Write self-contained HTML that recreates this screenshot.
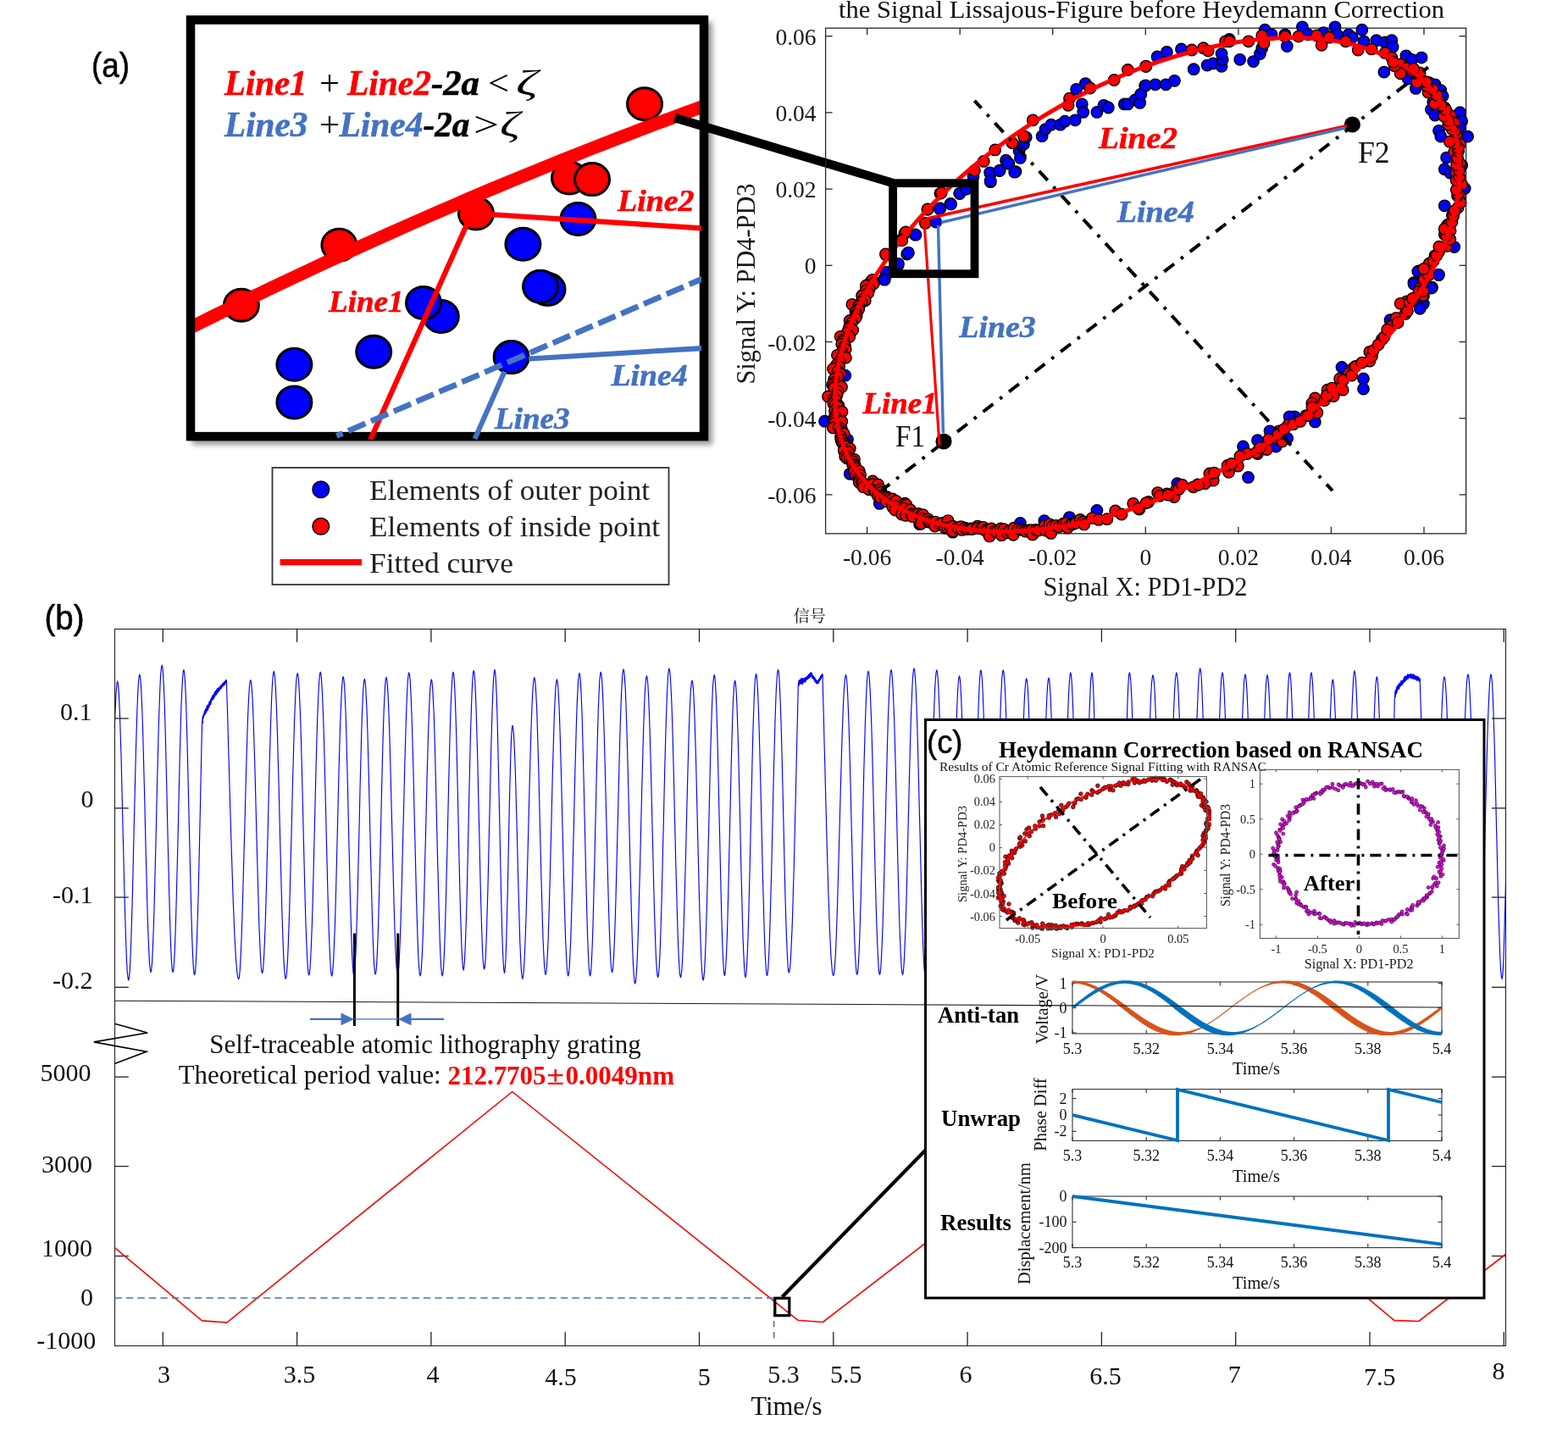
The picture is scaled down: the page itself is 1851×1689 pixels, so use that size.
<!DOCTYPE html>
<html><head><meta charset="utf-8"><title>Figure</title>
<style>html,body{margin:0;padding:0;background:#fff;overflow:hidden;}svg{display:block;}</style></head>
<body><svg width="1851" height="1689" viewBox="0 0 1851 1689">
<rect width="1851" height="1689" fill="#fff"/>
<text x="108.0" y="91.0" style="font-family:'Liberation Sans',sans-serif;font-size:41px;font-weight:normal;font-style:normal" fill="#000" text-anchor="start" textLength="45.0" lengthAdjust="spacingAndGlyphs" stroke="#000" stroke-width="0.6">(a)</text>
<defs><filter id="blur1" x="-5%" y="-5%" width="110%" height="110%"><feGaussianBlur stdDeviation="3"/></filter><clipPath id="boxclip"><rect x="230" y="29" width="596" height="481"/></clipPath><clipPath id="axclip"><rect x="975" y="33.5" width="755.5" height="596"/></clipPath></defs>
<rect x="227" y="26" width="614" height="499" fill="#999" filter="url(#blur1)"/>
<rect x="220" y="18" width="616" height="501" fill="#fff"/>
<g clip-path="url(#boxclip)">
<ellipse cx="284.9" cy="360.2" rx="20.5" ry="19.0" fill="#ff0000" stroke="#000" stroke-width="3"/>
<ellipse cx="400.4" cy="289.2" rx="20.5" ry="19.0" fill="#ff0000" stroke="#000" stroke-width="3"/>
<ellipse cx="562.0" cy="252.0" rx="20.5" ry="19.0" fill="#ff0000" stroke="#000" stroke-width="3"/>
<ellipse cx="672.0" cy="210.0" rx="20.5" ry="19.0" fill="#ff0000" stroke="#000" stroke-width="3"/>
<ellipse cx="699.0" cy="211.6" rx="20.5" ry="19.0" fill="#ff0000" stroke="#000" stroke-width="3"/>
<ellipse cx="761.0" cy="122.7" rx="20.5" ry="19.0" fill="#ff0000" stroke="#000" stroke-width="3"/>
<polyline points="220.0,389.0 235.9,381.1 251.8,373.2 267.7,365.4 283.6,357.6 299.5,349.9 315.4,342.3 331.3,334.7 347.2,327.2 363.1,319.7 379.0,312.3 394.9,304.9 410.8,297.6 426.7,290.4 442.6,283.2 458.5,276.1 474.4,269.0 490.3,262.0 506.2,255.0 522.1,248.1 537.9,241.3 553.8,234.5 569.7,227.7 585.6,221.0 601.5,214.4 617.4,207.9 633.3,201.4 649.2,194.9 665.1,188.5 681.0,182.2 696.9,175.9 712.8,169.7 728.7,163.5 744.6,157.4 760.5,151.3 776.4,145.3 792.3,139.4 808.2,133.5 824.1,127.7 840.0,121.9" fill="none" stroke="#ff0000" stroke-width="15.5"/>
<ellipse cx="347.4" cy="430.3" rx="20.5" ry="19.0" fill="#0000ff" stroke="#000" stroke-width="3"/>
<ellipse cx="347.4" cy="474.9" rx="20.5" ry="19.0" fill="#0000ff" stroke="#000" stroke-width="3"/>
<ellipse cx="441.2" cy="415.2" rx="20.5" ry="19.0" fill="#0000ff" stroke="#000" stroke-width="3"/>
<ellipse cx="520.8" cy="373.5" rx="20.5" ry="19.0" fill="#0000ff" stroke="#000" stroke-width="3"/>
<ellipse cx="500.0" cy="357.4" rx="20.5" ry="19.0" fill="#0000ff" stroke="#000" stroke-width="3"/>
<ellipse cx="617.4" cy="288.3" rx="20.5" ry="19.0" fill="#0000ff" stroke="#000" stroke-width="3"/>
<ellipse cx="682.4" cy="258.5" rx="20.5" ry="19.0" fill="#0000ff" stroke="#000" stroke-width="3"/>
<ellipse cx="646.5" cy="341.5" rx="20.5" ry="19.0" fill="#0000ff" stroke="#000" stroke-width="3"/>
<ellipse cx="638.0" cy="338.2" rx="20.5" ry="19.0" fill="#0000ff" stroke="#000" stroke-width="3"/>
<ellipse cx="603.6" cy="421.6" rx="20.5" ry="19.0" fill="#0000ff" stroke="#000" stroke-width="3"/>
</g>
<rect x="225" y="23.5" width="606" height="491.6" fill="none" stroke="#000" stroke-width="10.5"/>
<clipPath id="boxclip2"><rect x="230" y="29" width="598" height="490"/></clipPath>
<g clip-path="url(#boxclip2)">
<line x1="557.5" y1="250.5" x2="437.2" y2="519.0" stroke="#ff0000" stroke-width="6.2"/>
<line x1="562.0" y1="252.0" x2="830.0" y2="269.4" stroke="#ff0000" stroke-width="6.2"/>
<line x1="397.3" y1="514.5" x2="830.0" y2="328.7" stroke="#4472c4" stroke-width="6.8" stroke-dasharray="22 7.2" stroke-dashoffset="14.1"/>
<line x1="624.0" y1="423.4" x2="830.0" y2="411.0" stroke="#4472c4" stroke-width="6"/>
<line x1="595.6" y1="438.5" x2="560.5" y2="518.0" stroke="#4472c4" stroke-width="6"/>
</g>
<text x="388.0" y="367.8" style="font-family:'Liberation Serif',serif;font-size:36px;font-weight:bold;font-style:italic" fill="#ff0000" text-anchor="start" textLength="88.5" lengthAdjust="spacingAndGlyphs" stroke="#ff0000" stroke-width="0.6">Line1</text>
<text x="729.0" y="248.9" style="font-family:'Liberation Serif',serif;font-size:36px;font-weight:bold;font-style:italic" fill="#ff0000" text-anchor="start" textLength="90.5" lengthAdjust="spacingAndGlyphs" stroke="#ff0000" stroke-width="0.6">Line2</text>
<text x="721.5" y="454.6" style="font-family:'Liberation Serif',serif;font-size:36px;font-weight:bold;font-style:italic" fill="#4472c4" text-anchor="start" textLength="90.0" lengthAdjust="spacingAndGlyphs" stroke="#4472c4" stroke-width="0.6">Line4</text>
<text x="584.0" y="505.8" style="font-family:'Liberation Serif',serif;font-size:36px;font-weight:bold;font-style:italic" fill="#4472c4" text-anchor="start" textLength="88.5" lengthAdjust="spacingAndGlyphs" stroke="#4472c4" stroke-width="0.6">Line3</text>
<text x="265.0" y="111.7" style="font-family:'Liberation Serif',serif;font-size:41.5px;font-weight:bold;font-style:italic" fill="#ff0000" text-anchor="start" textLength="97.4" lengthAdjust="spacingAndGlyphs" stroke="#ff0000" stroke-width="0.6">Line1</text>
<text x="377.0" y="111.7" style="font-family:'Liberation Serif',serif;font-size:41.5px;font-weight:normal;font-style:normal" fill="#000" text-anchor="start" textLength="24.0" lengthAdjust="spacingAndGlyphs">+</text>
<text x="409.9" y="111.7" style="font-family:'Liberation Serif',serif;font-size:41.5px;font-weight:bold;font-style:italic" fill="#ff0000" text-anchor="start" textLength="99.0" lengthAdjust="spacingAndGlyphs" stroke="#ff0000" stroke-width="0.6">Line2</text>
<text x="509.0" y="111.7" style="font-family:'Liberation Serif',serif;font-size:41.5px;font-weight:bold;font-style:italic" fill="#000" text-anchor="start" textLength="57.0" lengthAdjust="spacingAndGlyphs" stroke="#000" stroke-width="0.6">-2a</text>
<text x="576.0" y="111.7" style="font-family:'Liberation Serif',serif;font-size:41.5px;font-weight:normal;font-style:normal" fill="#000" text-anchor="start" textLength="25.0" lengthAdjust="spacingAndGlyphs">&lt;</text>
<text x="609.0" y="111.7" style="font-family:'Liberation Serif',serif;font-size:41.5px;font-weight:normal;font-style:italic" fill="#000" text-anchor="start" textLength="26.0" lengthAdjust="spacingAndGlyphs">ζ</text>
<text x="265.0" y="160.6" style="font-family:'Liberation Serif',serif;font-size:41.5px;font-weight:bold;font-style:italic" fill="#4472c4" text-anchor="start" textLength="98.4" lengthAdjust="spacingAndGlyphs" stroke="#4472c4" stroke-width="0.6">Line3</text>
<text x="377.0" y="160.6" style="font-family:'Liberation Serif',serif;font-size:41.5px;font-weight:normal;font-style:normal" fill="#000" text-anchor="start" textLength="24.0" lengthAdjust="spacingAndGlyphs">+</text>
<text x="400.4" y="160.6" style="font-family:'Liberation Serif',serif;font-size:41.5px;font-weight:bold;font-style:italic" fill="#4472c4" text-anchor="start" textLength="99.0" lengthAdjust="spacingAndGlyphs" stroke="#4472c4" stroke-width="0.6">Line4</text>
<text x="499.4" y="160.6" style="font-family:'Liberation Serif',serif;font-size:41.5px;font-weight:bold;font-style:italic" fill="#000" text-anchor="start" textLength="55.0" lengthAdjust="spacingAndGlyphs" stroke="#000" stroke-width="0.6">-2a</text>
<text x="559.0" y="160.6" style="font-family:'Liberation Serif',serif;font-size:41.5px;font-weight:normal;font-style:normal" fill="#000" text-anchor="start" textLength="30.0" lengthAdjust="spacingAndGlyphs">&gt;</text>
<text x="590.0" y="160.6" style="font-family:'Liberation Serif',serif;font-size:41.5px;font-weight:normal;font-style:italic" fill="#000" text-anchor="start" textLength="24.0" lengthAdjust="spacingAndGlyphs">ζ</text>
<line x1="796.5" y1="139.0" x2="1054.0" y2="216.0" stroke="#000" stroke-width="10.5"/>
<rect x="321.5" y="552" width="468" height="138" fill="#fff" stroke="#333" stroke-width="1.8"/>
<circle cx="378.8" cy="577.8" r="9.8" fill="#0000ff" stroke="#000" stroke-width="1.5"/>
<circle cx="378.8" cy="621.3" r="9.8" fill="#ff0000" stroke="#000" stroke-width="1.5"/>
<line x1="330.6" y1="663.6" x2="427.0" y2="663.6" stroke="#ff0000" stroke-width="7.4"/>
<text x="436.0" y="590.3" style="font-family:'Liberation Serif',serif;font-size:34px;font-weight:normal;font-style:normal" fill="#222" text-anchor="start" textLength="331.0" lengthAdjust="spacingAndGlyphs">Elements of outer point</text>
<text x="436.0" y="633.2" style="font-family:'Liberation Serif',serif;font-size:34px;font-weight:normal;font-style:normal" fill="#222" text-anchor="start" textLength="343.0" lengthAdjust="spacingAndGlyphs">Elements of inside point</text>
<text x="436.0" y="676.3" style="font-family:'Liberation Serif',serif;font-size:34px;font-weight:normal;font-style:normal" fill="#222" text-anchor="start" textLength="170.0" lengthAdjust="spacingAndGlyphs">Fitted curve</text>
<text x="990.0" y="20.5" style="font-family:'Liberation Serif',serif;font-size:29px;font-weight:normal;font-style:normal" fill="#111" text-anchor="start" textLength="715.0" lengthAdjust="spacingAndGlyphs">the Signal Lissajous-Figure before Heydemann Correction</text>
<rect x="974.6" y="33.2" width="756.0" height="596.6" fill="none" stroke="#262626" stroke-width="1.3"/>
<line x1="1023.6" y1="629.8" x2="1023.6" y2="621.8" stroke="#262626" stroke-width="1.3"/>
<line x1="1023.6" y1="33.2" x2="1023.6" y2="41.2" stroke="#262626" stroke-width="1.3"/>
<text x="1023.6" y="666.5" style="font-family:'Liberation Serif',serif;font-size:27.5px;font-weight:normal;font-style:normal" fill="#1a1a1a" text-anchor="middle">-0.06</text>
<line x1="1133.2" y1="629.8" x2="1133.2" y2="621.8" stroke="#262626" stroke-width="1.3"/>
<line x1="1133.2" y1="33.2" x2="1133.2" y2="41.2" stroke="#262626" stroke-width="1.3"/>
<text x="1133.2" y="666.5" style="font-family:'Liberation Serif',serif;font-size:27.5px;font-weight:normal;font-style:normal" fill="#1a1a1a" text-anchor="middle">-0.04</text>
<line x1="1242.7" y1="629.8" x2="1242.7" y2="621.8" stroke="#262626" stroke-width="1.3"/>
<line x1="1242.7" y1="33.2" x2="1242.7" y2="41.2" stroke="#262626" stroke-width="1.3"/>
<text x="1242.7" y="666.5" style="font-family:'Liberation Serif',serif;font-size:27.5px;font-weight:normal;font-style:normal" fill="#1a1a1a" text-anchor="middle">-0.02</text>
<line x1="1352.3" y1="629.8" x2="1352.3" y2="621.8" stroke="#262626" stroke-width="1.3"/>
<line x1="1352.3" y1="33.2" x2="1352.3" y2="41.2" stroke="#262626" stroke-width="1.3"/>
<text x="1352.3" y="666.5" style="font-family:'Liberation Serif',serif;font-size:27.5px;font-weight:normal;font-style:normal" fill="#1a1a1a" text-anchor="middle">0</text>
<line x1="1461.9" y1="629.8" x2="1461.9" y2="621.8" stroke="#262626" stroke-width="1.3"/>
<line x1="1461.9" y1="33.2" x2="1461.9" y2="41.2" stroke="#262626" stroke-width="1.3"/>
<text x="1461.9" y="666.5" style="font-family:'Liberation Serif',serif;font-size:27.5px;font-weight:normal;font-style:normal" fill="#1a1a1a" text-anchor="middle">0.02</text>
<line x1="1571.4" y1="629.8" x2="1571.4" y2="621.8" stroke="#262626" stroke-width="1.3"/>
<line x1="1571.4" y1="33.2" x2="1571.4" y2="41.2" stroke="#262626" stroke-width="1.3"/>
<text x="1571.4" y="666.5" style="font-family:'Liberation Serif',serif;font-size:27.5px;font-weight:normal;font-style:normal" fill="#1a1a1a" text-anchor="middle">0.04</text>
<line x1="1681.0" y1="629.8" x2="1681.0" y2="621.8" stroke="#262626" stroke-width="1.3"/>
<line x1="1681.0" y1="33.2" x2="1681.0" y2="41.2" stroke="#262626" stroke-width="1.3"/>
<text x="1681.0" y="666.5" style="font-family:'Liberation Serif',serif;font-size:27.5px;font-weight:normal;font-style:normal" fill="#1a1a1a" text-anchor="middle">0.06</text>
<line x1="974.6" y1="583.9" x2="982.6" y2="583.9" stroke="#262626" stroke-width="1.3"/>
<line x1="1730.6" y1="583.9" x2="1722.6" y2="583.9" stroke="#262626" stroke-width="1.3"/>
<text x="963.5" y="593.9" style="font-family:'Liberation Serif',serif;font-size:27.5px;font-weight:normal;font-style:normal" fill="#1a1a1a" text-anchor="end">-0.06</text>
<line x1="974.6" y1="493.7" x2="982.6" y2="493.7" stroke="#262626" stroke-width="1.3"/>
<line x1="1730.6" y1="493.7" x2="1722.6" y2="493.7" stroke="#262626" stroke-width="1.3"/>
<text x="963.5" y="503.7" style="font-family:'Liberation Serif',serif;font-size:27.5px;font-weight:normal;font-style:normal" fill="#1a1a1a" text-anchor="end">-0.04</text>
<line x1="974.6" y1="403.5" x2="982.6" y2="403.5" stroke="#262626" stroke-width="1.3"/>
<line x1="1730.6" y1="403.5" x2="1722.6" y2="403.5" stroke="#262626" stroke-width="1.3"/>
<text x="963.5" y="413.5" style="font-family:'Liberation Serif',serif;font-size:27.5px;font-weight:normal;font-style:normal" fill="#1a1a1a" text-anchor="end">-0.02</text>
<line x1="974.6" y1="313.3" x2="982.6" y2="313.3" stroke="#262626" stroke-width="1.3"/>
<line x1="1730.6" y1="313.3" x2="1722.6" y2="313.3" stroke="#262626" stroke-width="1.3"/>
<text x="963.5" y="323.3" style="font-family:'Liberation Serif',serif;font-size:27.5px;font-weight:normal;font-style:normal" fill="#1a1a1a" text-anchor="end">0</text>
<line x1="974.6" y1="223.1" x2="982.6" y2="223.1" stroke="#262626" stroke-width="1.3"/>
<line x1="1730.6" y1="223.1" x2="1722.6" y2="223.1" stroke="#262626" stroke-width="1.3"/>
<text x="963.5" y="233.1" style="font-family:'Liberation Serif',serif;font-size:27.5px;font-weight:normal;font-style:normal" fill="#1a1a1a" text-anchor="end">0.02</text>
<line x1="974.6" y1="132.9" x2="982.6" y2="132.9" stroke="#262626" stroke-width="1.3"/>
<line x1="1730.6" y1="132.9" x2="1722.6" y2="132.9" stroke="#262626" stroke-width="1.3"/>
<text x="963.5" y="142.9" style="font-family:'Liberation Serif',serif;font-size:27.5px;font-weight:normal;font-style:normal" fill="#1a1a1a" text-anchor="end">0.04</text>
<line x1="974.6" y1="42.7" x2="982.6" y2="42.7" stroke="#262626" stroke-width="1.3"/>
<line x1="1730.6" y1="42.7" x2="1722.6" y2="42.7" stroke="#262626" stroke-width="1.3"/>
<text x="963.5" y="52.7" style="font-family:'Liberation Serif',serif;font-size:27.5px;font-weight:normal;font-style:normal" fill="#1a1a1a" text-anchor="end">0.06</text>
<circle cx="1270.6" cy="105.3" r="6.70" fill="#0000ff" stroke="#000" stroke-width="1.4"/>
<circle cx="1281.4" cy="98.6" r="6.70" fill="#0000ff" stroke="#000" stroke-width="1.4"/>
<circle cx="1277.3" cy="122.9" r="6.70" fill="#0000ff" stroke="#000" stroke-width="1.4"/>
<circle cx="1278.7" cy="132.4" r="6.70" fill="#0000ff" stroke="#000" stroke-width="1.4"/>
<circle cx="1294.9" cy="132.4" r="6.70" fill="#0000ff" stroke="#000" stroke-width="1.4"/>
<circle cx="1303.0" cy="124.3" r="6.70" fill="#0000ff" stroke="#000" stroke-width="1.4"/>
<circle cx="1308.4" cy="127.0" r="6.70" fill="#0000ff" stroke="#000" stroke-width="1.4"/>
<circle cx="1327.3" cy="122.9" r="6.70" fill="#0000ff" stroke="#000" stroke-width="1.4"/>
<circle cx="1331.4" cy="122.9" r="6.70" fill="#0000ff" stroke="#000" stroke-width="1.4"/>
<circle cx="1344.9" cy="118.9" r="6.70" fill="#0000ff" stroke="#000" stroke-width="1.4"/>
<circle cx="1346.2" cy="112.1" r="6.70" fill="#0000ff" stroke="#000" stroke-width="1.4"/>
<circle cx="1351.6" cy="101.3" r="6.70" fill="#0000ff" stroke="#000" stroke-width="1.4"/>
<circle cx="1230.1" cy="160.7" r="6.70" fill="#0000ff" stroke="#000" stroke-width="1.4"/>
<circle cx="1234.1" cy="152.6" r="6.70" fill="#0000ff" stroke="#000" stroke-width="1.4"/>
<circle cx="1240.9" cy="147.2" r="6.70" fill="#0000ff" stroke="#000" stroke-width="1.4"/>
<circle cx="1251.7" cy="147.2" r="6.70" fill="#0000ff" stroke="#000" stroke-width="1.4"/>
<circle cx="1257.1" cy="143.2" r="6.70" fill="#0000ff" stroke="#000" stroke-width="1.4"/>
<circle cx="1269.2" cy="141.8" r="6.70" fill="#0000ff" stroke="#000" stroke-width="1.4"/>
<circle cx="1208.5" cy="170.2" r="6.70" fill="#0000ff" stroke="#000" stroke-width="1.4"/>
<circle cx="1211.2" cy="162.1" r="6.70" fill="#0000ff" stroke="#000" stroke-width="1.4"/>
<circle cx="1203.1" cy="178.3" r="6.70" fill="#0000ff" stroke="#000" stroke-width="1.4"/>
<circle cx="1204.4" cy="186.4" r="6.70" fill="#0000ff" stroke="#000" stroke-width="1.4"/>
<circle cx="1199.0" cy="202.6" r="6.70" fill="#0000ff" stroke="#000" stroke-width="1.4"/>
<circle cx="1188.2" cy="190.4" r="6.70" fill="#0000ff" stroke="#000" stroke-width="1.4"/>
<circle cx="1190.9" cy="193.1" r="6.70" fill="#0000ff" stroke="#000" stroke-width="1.4"/>
<circle cx="1180.1" cy="201.2" r="6.70" fill="#0000ff" stroke="#000" stroke-width="1.4"/>
<circle cx="1169.3" cy="205.3" r="6.70" fill="#0000ff" stroke="#000" stroke-width="1.4"/>
<circle cx="1169.3" cy="214.7" r="6.70" fill="#0000ff" stroke="#000" stroke-width="1.4"/>
<circle cx="1149.0" cy="208.0" r="6.70" fill="#0000ff" stroke="#000" stroke-width="1.4"/>
<circle cx="1139.6" cy="222.9" r="6.70" fill="#0000ff" stroke="#000" stroke-width="1.4"/>
<circle cx="1132.8" cy="228.3" r="6.70" fill="#0000ff" stroke="#000" stroke-width="1.4"/>
<circle cx="1122.0" cy="240.4" r="6.70" fill="#0000ff" stroke="#000" stroke-width="1.4"/>
<circle cx="1109.9" cy="245.8" r="6.70" fill="#0000ff" stroke="#000" stroke-width="1.4"/>
<circle cx="1080.2" cy="276.9" r="6.70" fill="#0000ff" stroke="#000" stroke-width="1.4"/>
<circle cx="1072.0" cy="298.5" r="6.70" fill="#0000ff" stroke="#000" stroke-width="1.4"/>
<circle cx="1059.9" cy="313.3" r="6.70" fill="#0000ff" stroke="#000" stroke-width="1.4"/>
<circle cx="1046.4" cy="321.4" r="6.70" fill="#0000ff" stroke="#000" stroke-width="1.4"/>
<circle cx="1043.7" cy="329.6" r="6.70" fill="#0000ff" stroke="#000" stroke-width="1.4"/>
<circle cx="1340.0" cy="118.0" r="6.70" fill="#0000ff" stroke="#000" stroke-width="1.4"/>
<circle cx="1345.7" cy="121.4" r="6.70" fill="#0000ff" stroke="#000" stroke-width="1.4"/>
<circle cx="1346.8" cy="111.2" r="6.70" fill="#0000ff" stroke="#000" stroke-width="1.4"/>
<circle cx="1352.5" cy="101.0" r="6.70" fill="#0000ff" stroke="#000" stroke-width="1.4"/>
<circle cx="1363.8" cy="99.8" r="6.70" fill="#0000ff" stroke="#000" stroke-width="1.4"/>
<circle cx="1376.3" cy="99.8" r="6.70" fill="#0000ff" stroke="#000" stroke-width="1.4"/>
<circle cx="1386.5" cy="95.3" r="6.70" fill="#0000ff" stroke="#000" stroke-width="1.4"/>
<circle cx="1366.1" cy="66.9" r="6.70" fill="#0000ff" stroke="#000" stroke-width="1.4"/>
<circle cx="1377.4" cy="61.3" r="6.70" fill="#0000ff" stroke="#000" stroke-width="1.4"/>
<circle cx="1394.5" cy="57.9" r="6.70" fill="#0000ff" stroke="#000" stroke-width="1.4"/>
<circle cx="1409.2" cy="81.7" r="6.70" fill="#0000ff" stroke="#000" stroke-width="1.4"/>
<circle cx="1425.1" cy="77.1" r="6.70" fill="#0000ff" stroke="#000" stroke-width="1.4"/>
<circle cx="1431.9" cy="74.9" r="6.70" fill="#0000ff" stroke="#000" stroke-width="1.4"/>
<circle cx="1442.1" cy="78.3" r="6.70" fill="#0000ff" stroke="#000" stroke-width="1.4"/>
<circle cx="1443.2" cy="70.3" r="6.70" fill="#0000ff" stroke="#000" stroke-width="1.4"/>
<circle cx="1442.1" cy="63.5" r="6.70" fill="#0000ff" stroke="#000" stroke-width="1.4"/>
<circle cx="1451.2" cy="46.5" r="6.70" fill="#0000ff" stroke="#000" stroke-width="1.4"/>
<circle cx="1463.7" cy="70.3" r="6.70" fill="#0000ff" stroke="#000" stroke-width="1.4"/>
<circle cx="1479.6" cy="72.6" r="6.70" fill="#0000ff" stroke="#000" stroke-width="1.4"/>
<circle cx="1487.5" cy="63.5" r="6.70" fill="#0000ff" stroke="#000" stroke-width="1.4"/>
<circle cx="1489.8" cy="56.7" r="6.70" fill="#0000ff" stroke="#000" stroke-width="1.4"/>
<circle cx="1493.2" cy="35.2" r="6.70" fill="#0000ff" stroke="#000" stroke-width="1.4"/>
<circle cx="1501.1" cy="40.8" r="6.70" fill="#0000ff" stroke="#000" stroke-width="1.4"/>
<circle cx="1517.0" cy="40.8" r="6.70" fill="#0000ff" stroke="#000" stroke-width="1.4"/>
<circle cx="1519.3" cy="54.5" r="6.70" fill="#0000ff" stroke="#000" stroke-width="1.4"/>
<circle cx="1537.4" cy="31.8" r="6.70" fill="#0000ff" stroke="#000" stroke-width="1.4"/>
<circle cx="1544.2" cy="40.8" r="6.70" fill="#0000ff" stroke="#000" stroke-width="1.4"/>
<circle cx="1562.4" cy="38.6" r="6.70" fill="#0000ff" stroke="#000" stroke-width="1.4"/>
<circle cx="1576.0" cy="31.8" r="6.70" fill="#0000ff" stroke="#000" stroke-width="1.4"/>
<circle cx="1578.3" cy="40.8" r="6.70" fill="#0000ff" stroke="#000" stroke-width="1.4"/>
<circle cx="1591.9" cy="40.8" r="6.70" fill="#0000ff" stroke="#000" stroke-width="1.4"/>
<circle cx="1596.4" cy="44.2" r="6.70" fill="#0000ff" stroke="#000" stroke-width="1.4"/>
<circle cx="1607.8" cy="35.2" r="6.70" fill="#0000ff" stroke="#000" stroke-width="1.4"/>
<circle cx="1610.0" cy="48.8" r="6.70" fill="#0000ff" stroke="#000" stroke-width="1.4"/>
<circle cx="1624.8" cy="47.7" r="6.70" fill="#0000ff" stroke="#000" stroke-width="1.4"/>
<circle cx="1635.0" cy="49.9" r="6.70" fill="#0000ff" stroke="#000" stroke-width="1.4"/>
<circle cx="1642.9" cy="47.7" r="6.70" fill="#0000ff" stroke="#000" stroke-width="1.4"/>
<circle cx="1644.1" cy="55.6" r="6.70" fill="#0000ff" stroke="#000" stroke-width="1.4"/>
<circle cx="1633.9" cy="85.1" r="6.70" fill="#0000ff" stroke="#000" stroke-width="1.4"/>
<circle cx="1659.9" cy="65.8" r="6.70" fill="#0000ff" stroke="#000" stroke-width="1.4"/>
<circle cx="1666.8" cy="70.3" r="6.70" fill="#0000ff" stroke="#000" stroke-width="1.4"/>
<circle cx="1678.1" cy="68.1" r="6.70" fill="#0000ff" stroke="#000" stroke-width="1.4"/>
<circle cx="1662.2" cy="93.0" r="6.70" fill="#0000ff" stroke="#000" stroke-width="1.4"/>
<circle cx="1671.3" cy="104.4" r="6.70" fill="#0000ff" stroke="#000" stroke-width="1.4"/>
<circle cx="1687.2" cy="97.6" r="6.70" fill="#0000ff" stroke="#000" stroke-width="1.4"/>
<circle cx="1694.0" cy="99.8" r="6.70" fill="#0000ff" stroke="#000" stroke-width="1.4"/>
<circle cx="1700.8" cy="106.6" r="6.70" fill="#0000ff" stroke="#000" stroke-width="1.4"/>
<circle cx="1703.1" cy="113.5" r="6.70" fill="#0000ff" stroke="#000" stroke-width="1.4"/>
<circle cx="1691.7" cy="120.3" r="6.70" fill="#0000ff" stroke="#000" stroke-width="1.4"/>
<circle cx="1689.4" cy="129.3" r="6.70" fill="#0000ff" stroke="#000" stroke-width="1.4"/>
<circle cx="1694.0" cy="136.1" r="6.70" fill="#0000ff" stroke="#000" stroke-width="1.4"/>
<circle cx="1723.5" cy="132.7" r="6.70" fill="#0000ff" stroke="#000" stroke-width="1.4"/>
<circle cx="1725.7" cy="143.0" r="6.70" fill="#0000ff" stroke="#000" stroke-width="1.4"/>
<circle cx="1723.5" cy="149.8" r="6.70" fill="#0000ff" stroke="#000" stroke-width="1.4"/>
<circle cx="1732.6" cy="161.1" r="6.70" fill="#0000ff" stroke="#000" stroke-width="1.4"/>
<circle cx="1698.5" cy="154.3" r="6.70" fill="#0000ff" stroke="#000" stroke-width="1.4"/>
<circle cx="1700.8" cy="161.1" r="6.70" fill="#0000ff" stroke="#000" stroke-width="1.4"/>
<circle cx="1707.6" cy="186.1" r="6.70" fill="#0000ff" stroke="#000" stroke-width="1.4"/>
<circle cx="1705.3" cy="199.7" r="6.70" fill="#0000ff" stroke="#000" stroke-width="1.4"/>
<circle cx="1712.1" cy="204.2" r="6.70" fill="#0000ff" stroke="#000" stroke-width="1.4"/>
<circle cx="1725.7" cy="195.1" r="6.70" fill="#0000ff" stroke="#000" stroke-width="1.4"/>
<circle cx="1729.2" cy="222.4" r="6.70" fill="#0000ff" stroke="#000" stroke-width="1.4"/>
<circle cx="1705.3" cy="242.8" r="6.70" fill="#0000ff" stroke="#000" stroke-width="1.4"/>
<circle cx="1716.7" cy="291.6" r="6.70" fill="#0000ff" stroke="#000" stroke-width="1.4"/>
<circle cx="1708.7" cy="265.5" r="6.70" fill="#0000ff" stroke="#000" stroke-width="1.4"/>
<circle cx="1674.7" cy="319.9" r="6.70" fill="#0000ff" stroke="#000" stroke-width="1.4"/>
<circle cx="1698.5" cy="324.5" r="6.70" fill="#0000ff" stroke="#000" stroke-width="1.4"/>
<circle cx="1669.0" cy="333.6" r="6.70" fill="#0000ff" stroke="#000" stroke-width="1.4"/>
<circle cx="1690.6" cy="339.2" r="6.70" fill="#0000ff" stroke="#000" stroke-width="1.4"/>
<circle cx="1680.4" cy="358.5" r="6.70" fill="#0000ff" stroke="#000" stroke-width="1.4"/>
<circle cx="1673.8" cy="320.6" r="6.70" fill="#0000ff" stroke="#000" stroke-width="1.4"/>
<circle cx="1698.1" cy="324.3" r="6.70" fill="#0000ff" stroke="#000" stroke-width="1.4"/>
<circle cx="1669.0" cy="335.2" r="6.70" fill="#0000ff" stroke="#000" stroke-width="1.4"/>
<circle cx="1689.6" cy="340.1" r="6.70" fill="#0000ff" stroke="#000" stroke-width="1.4"/>
<circle cx="1676.2" cy="364.3" r="6.70" fill="#0000ff" stroke="#000" stroke-width="1.4"/>
<circle cx="1641.0" cy="377.7" r="6.70" fill="#0000ff" stroke="#000" stroke-width="1.4"/>
<circle cx="1584.0" cy="433.5" r="6.70" fill="#0000ff" stroke="#000" stroke-width="1.4"/>
<circle cx="1609.5" cy="446.9" r="6.70" fill="#0000ff" stroke="#000" stroke-width="1.4"/>
<circle cx="1609.5" cy="459.0" r="6.70" fill="#0000ff" stroke="#000" stroke-width="1.4"/>
<circle cx="1552.4" cy="497.9" r="6.70" fill="#0000ff" stroke="#000" stroke-width="1.4"/>
<circle cx="1528.2" cy="491.8" r="6.70" fill="#0000ff" stroke="#000" stroke-width="1.4"/>
<circle cx="1522.1" cy="491.8" r="6.70" fill="#0000ff" stroke="#000" stroke-width="1.4"/>
<circle cx="1499.0" cy="508.8" r="6.70" fill="#0000ff" stroke="#000" stroke-width="1.4"/>
<circle cx="1519.7" cy="517.3" r="6.70" fill="#0000ff" stroke="#000" stroke-width="1.4"/>
<circle cx="1506.3" cy="527.0" r="6.70" fill="#0000ff" stroke="#000" stroke-width="1.4"/>
<circle cx="1484.5" cy="519.7" r="6.70" fill="#0000ff" stroke="#000" stroke-width="1.4"/>
<circle cx="1467.5" cy="527.0" r="6.70" fill="#0000ff" stroke="#000" stroke-width="1.4"/>
<circle cx="1473.5" cy="563.4" r="6.70" fill="#0000ff" stroke="#000" stroke-width="1.4"/>
<circle cx="1389.8" cy="570.7" r="6.70" fill="#0000ff" stroke="#000" stroke-width="1.4"/>
<circle cx="1059.9" cy="313.5" r="6.70" fill="#0000ff" stroke="#000" stroke-width="1.4"/>
<circle cx="1070.7" cy="300.0" r="6.70" fill="#0000ff" stroke="#000" stroke-width="1.4"/>
<circle cx="1043.7" cy="329.7" r="6.70" fill="#0000ff" stroke="#000" stroke-width="1.4"/>
<circle cx="1046.4" cy="324.3" r="6.70" fill="#0000ff" stroke="#000" stroke-width="1.4"/>
<circle cx="997.8" cy="443.2" r="6.70" fill="#0000ff" stroke="#000" stroke-width="1.4"/>
<circle cx="973.5" cy="497.2" r="6.70" fill="#0000ff" stroke="#000" stroke-width="1.4"/>
<circle cx="1000.5" cy="518.8" r="6.70" fill="#0000ff" stroke="#000" stroke-width="1.4"/>
<circle cx="1003.2" cy="559.3" r="6.70" fill="#0000ff" stroke="#000" stroke-width="1.4"/>
<circle cx="1038.3" cy="594.4" r="6.70" fill="#0000ff" stroke="#000" stroke-width="1.4"/>
<circle cx="1085.6" cy="618.7" r="6.70" fill="#0000ff" stroke="#000" stroke-width="1.4"/>
<circle cx="1124.7" cy="628.2" r="6.70" fill="#0000ff" stroke="#000" stroke-width="1.4"/>
<circle cx="1204.4" cy="617.4" r="6.70" fill="#0000ff" stroke="#000" stroke-width="1.4"/>
<circle cx="1232.8" cy="614.7" r="6.70" fill="#0000ff" stroke="#000" stroke-width="1.4"/>
<circle cx="1262.5" cy="610.6" r="6.70" fill="#0000ff" stroke="#000" stroke-width="1.4"/>
<circle cx="1294.9" cy="602.5" r="6.70" fill="#0000ff" stroke="#000" stroke-width="1.4"/>
<circle cx="1132.9" cy="228.6" r="6.70" fill="#0000ff" stroke="#000" stroke-width="1.4"/>
<circle cx="1140.5" cy="223.2" r="6.70" fill="#0000ff" stroke="#000" stroke-width="1.4"/>
<circle cx="1122.6" cy="241.0" r="6.70" fill="#0000ff" stroke="#000" stroke-width="1.4"/>
<circle cx="1109.1" cy="246.5" r="6.70" fill="#0000ff" stroke="#000" stroke-width="1.4"/>
<circle cx="1104.8" cy="262.1" r="6.70" fill="#0000ff" stroke="#000" stroke-width="1.4"/>
<circle cx="1081.0" cy="277.2" r="6.70" fill="#0000ff" stroke="#000" stroke-width="1.4"/>
<circle cx="1072.4" cy="298.3" r="6.70" fill="#0000ff" stroke="#000" stroke-width="1.4"/>
<circle cx="1060.5" cy="311.3" r="6.70" fill="#0000ff" stroke="#000" stroke-width="1.4"/>
<circle cx="1046.5" cy="321.5" r="6.70" fill="#0000ff" stroke="#000" stroke-width="1.4"/>
<circle cx="1044.3" cy="330.2" r="6.70" fill="#0000ff" stroke="#000" stroke-width="1.4"/>
<circle cx="1168.6" cy="203.8" r="6.70" fill="#0000ff" stroke="#000" stroke-width="1.4"/>
<circle cx="1169.1" cy="213.5" r="6.70" fill="#0000ff" stroke="#000" stroke-width="1.4"/>
<circle cx="1179.9" cy="201.6" r="6.70" fill="#0000ff" stroke="#000" stroke-width="1.4"/>
<circle cx="1187.5" cy="189.2" r="6.70" fill="#0000ff" stroke="#000" stroke-width="1.4"/>
<circle cx="1190.2" cy="193.0" r="6.70" fill="#0000ff" stroke="#000" stroke-width="1.4"/>
<circle cx="1197.7" cy="203.2" r="6.70" fill="#0000ff" stroke="#000" stroke-width="1.4"/>
<circle cx="1353.0" cy="78.3" r="6.70" fill="#ff0000" stroke="#000" stroke-width="1.4"/>
<circle cx="1331.4" cy="82.4" r="6.70" fill="#ff0000" stroke="#000" stroke-width="1.4"/>
<circle cx="1315.2" cy="94.5" r="6.70" fill="#ff0000" stroke="#000" stroke-width="1.4"/>
<circle cx="1286.8" cy="104.0" r="6.70" fill="#ff0000" stroke="#000" stroke-width="1.4"/>
<circle cx="1262.5" cy="116.2" r="6.70" fill="#ff0000" stroke="#000" stroke-width="1.4"/>
<circle cx="1261.1" cy="124.3" r="6.70" fill="#ff0000" stroke="#000" stroke-width="1.4"/>
<circle cx="1219.3" cy="141.8" r="6.70" fill="#ff0000" stroke="#000" stroke-width="1.4"/>
<circle cx="1208.5" cy="160.7" r="6.70" fill="#ff0000" stroke="#000" stroke-width="1.4"/>
<circle cx="1195.0" cy="168.8" r="6.70" fill="#ff0000" stroke="#000" stroke-width="1.4"/>
<circle cx="1174.7" cy="176.9" r="6.70" fill="#ff0000" stroke="#000" stroke-width="1.4"/>
<circle cx="1161.2" cy="190.4" r="6.70" fill="#ff0000" stroke="#000" stroke-width="1.4"/>
<circle cx="1150.4" cy="201.2" r="6.70" fill="#ff0000" stroke="#000" stroke-width="1.4"/>
<circle cx="1109.9" cy="228.3" r="6.70" fill="#ff0000" stroke="#000" stroke-width="1.4"/>
<circle cx="1095.0" cy="247.2" r="6.70" fill="#ff0000" stroke="#000" stroke-width="1.4"/>
<circle cx="1092.3" cy="263.4" r="6.70" fill="#ff0000" stroke="#000" stroke-width="1.4"/>
<circle cx="1068.0" cy="275.5" r="6.70" fill="#ff0000" stroke="#000" stroke-width="1.4"/>
<circle cx="1062.6" cy="283.6" r="6.70" fill="#ff0000" stroke="#000" stroke-width="1.4"/>
<circle cx="1046.4" cy="301.2" r="6.70" fill="#ff0000" stroke="#000" stroke-width="1.4"/>
<circle cx="1027.5" cy="335.0" r="6.70" fill="#ff0000" stroke="#000" stroke-width="1.4"/>
<circle cx="1018.0" cy="348.5" r="6.70" fill="#ff0000" stroke="#000" stroke-width="1.4"/>
<circle cx="1005.9" cy="359.3" r="6.70" fill="#ff0000" stroke="#000" stroke-width="1.4"/>
<circle cx="1352.5" cy="78.3" r="6.70" fill="#ff0000" stroke="#000" stroke-width="1.4"/>
<circle cx="1406.9" cy="59.0" r="6.70" fill="#ff0000" stroke="#000" stroke-width="1.4"/>
<circle cx="1420.6" cy="56.7" r="6.70" fill="#ff0000" stroke="#000" stroke-width="1.4"/>
<circle cx="1426.2" cy="60.1" r="6.70" fill="#ff0000" stroke="#000" stroke-width="1.4"/>
<circle cx="1446.6" cy="48.8" r="6.70" fill="#ff0000" stroke="#000" stroke-width="1.4"/>
<circle cx="1451.2" cy="48.8" r="6.70" fill="#ff0000" stroke="#000" stroke-width="1.4"/>
<circle cx="1473.9" cy="48.8" r="6.70" fill="#ff0000" stroke="#000" stroke-width="1.4"/>
<circle cx="1489.8" cy="42.0" r="6.70" fill="#ff0000" stroke="#000" stroke-width="1.4"/>
<circle cx="1492.0" cy="51.1" r="6.70" fill="#ff0000" stroke="#000" stroke-width="1.4"/>
<circle cx="1517.0" cy="43.1" r="6.70" fill="#ff0000" stroke="#000" stroke-width="1.4"/>
<circle cx="1532.9" cy="43.1" r="6.70" fill="#ff0000" stroke="#000" stroke-width="1.4"/>
<circle cx="1554.4" cy="42.0" r="6.70" fill="#ff0000" stroke="#000" stroke-width="1.4"/>
<circle cx="1560.1" cy="53.3" r="6.70" fill="#ff0000" stroke="#000" stroke-width="1.4"/>
<circle cx="1569.2" cy="44.2" r="6.70" fill="#ff0000" stroke="#000" stroke-width="1.4"/>
<circle cx="1588.5" cy="48.8" r="6.70" fill="#ff0000" stroke="#000" stroke-width="1.4"/>
<circle cx="1603.2" cy="59.0" r="6.70" fill="#ff0000" stroke="#000" stroke-width="1.4"/>
<circle cx="1619.1" cy="57.9" r="6.70" fill="#ff0000" stroke="#000" stroke-width="1.4"/>
<circle cx="1635.0" cy="62.4" r="6.70" fill="#ff0000" stroke="#000" stroke-width="1.4"/>
<circle cx="1642.9" cy="68.1" r="6.70" fill="#ff0000" stroke="#000" stroke-width="1.4"/>
<circle cx="1653.1" cy="76.0" r="6.70" fill="#ff0000" stroke="#000" stroke-width="1.4"/>
<circle cx="1659.9" cy="80.6" r="6.70" fill="#ff0000" stroke="#000" stroke-width="1.4"/>
<circle cx="1673.6" cy="93.0" r="6.70" fill="#ff0000" stroke="#000" stroke-width="1.4"/>
<circle cx="1682.6" cy="97.6" r="6.70" fill="#ff0000" stroke="#000" stroke-width="1.4"/>
<circle cx="1686.0" cy="108.9" r="6.70" fill="#ff0000" stroke="#000" stroke-width="1.4"/>
<circle cx="1698.5" cy="118.0" r="6.70" fill="#ff0000" stroke="#000" stroke-width="1.4"/>
<circle cx="1705.3" cy="127.1" r="6.70" fill="#ff0000" stroke="#000" stroke-width="1.4"/>
<circle cx="1712.1" cy="136.1" r="6.70" fill="#ff0000" stroke="#000" stroke-width="1.4"/>
<circle cx="1716.7" cy="145.2" r="6.70" fill="#ff0000" stroke="#000" stroke-width="1.4"/>
<circle cx="1718.9" cy="158.8" r="6.70" fill="#ff0000" stroke="#000" stroke-width="1.4"/>
<circle cx="1723.5" cy="170.2" r="6.70" fill="#ff0000" stroke="#000" stroke-width="1.4"/>
<circle cx="1716.7" cy="179.3" r="6.70" fill="#ff0000" stroke="#000" stroke-width="1.4"/>
<circle cx="1723.5" cy="192.9" r="6.70" fill="#ff0000" stroke="#000" stroke-width="1.4"/>
<circle cx="1718.9" cy="204.2" r="6.70" fill="#ff0000" stroke="#000" stroke-width="1.4"/>
<circle cx="1725.7" cy="217.8" r="6.70" fill="#ff0000" stroke="#000" stroke-width="1.4"/>
<circle cx="1723.5" cy="231.4" r="6.70" fill="#ff0000" stroke="#000" stroke-width="1.4"/>
<circle cx="1721.2" cy="245.1" r="6.70" fill="#ff0000" stroke="#000" stroke-width="1.4"/>
<circle cx="1714.4" cy="254.1" r="6.70" fill="#ff0000" stroke="#000" stroke-width="1.4"/>
<circle cx="1709.9" cy="265.5" r="6.70" fill="#ff0000" stroke="#000" stroke-width="1.4"/>
<circle cx="1712.1" cy="272.3" r="6.70" fill="#ff0000" stroke="#000" stroke-width="1.4"/>
<circle cx="1705.3" cy="276.8" r="6.70" fill="#ff0000" stroke="#000" stroke-width="1.4"/>
<circle cx="1707.6" cy="290.4" r="6.70" fill="#ff0000" stroke="#000" stroke-width="1.4"/>
<circle cx="1698.5" cy="297.3" r="6.70" fill="#ff0000" stroke="#000" stroke-width="1.4"/>
<circle cx="1694.0" cy="301.8" r="6.70" fill="#ff0000" stroke="#000" stroke-width="1.4"/>
<circle cx="1684.9" cy="315.4" r="6.70" fill="#ff0000" stroke="#000" stroke-width="1.4"/>
<circle cx="1675.8" cy="340.4" r="6.70" fill="#ff0000" stroke="#000" stroke-width="1.4"/>
<circle cx="1680.4" cy="349.4" r="6.70" fill="#ff0000" stroke="#000" stroke-width="1.4"/>
<circle cx="1659.9" cy="358.5" r="6.70" fill="#ff0000" stroke="#000" stroke-width="1.4"/>
<circle cx="1687.2" cy="310.9" r="6.70" fill="#ff0000" stroke="#000" stroke-width="1.4"/>
<circle cx="1679.9" cy="348.6" r="6.70" fill="#ff0000" stroke="#000" stroke-width="1.4"/>
<circle cx="1675.0" cy="343.7" r="6.70" fill="#ff0000" stroke="#000" stroke-width="1.4"/>
<circle cx="1660.5" cy="355.8" r="6.70" fill="#ff0000" stroke="#000" stroke-width="1.4"/>
<circle cx="1653.2" cy="358.3" r="6.70" fill="#ff0000" stroke="#000" stroke-width="1.4"/>
<circle cx="1642.3" cy="385.0" r="6.70" fill="#ff0000" stroke="#000" stroke-width="1.4"/>
<circle cx="1648.3" cy="375.3" r="6.70" fill="#ff0000" stroke="#000" stroke-width="1.4"/>
<circle cx="1631.3" cy="400.8" r="6.70" fill="#ff0000" stroke="#000" stroke-width="1.4"/>
<circle cx="1616.8" cy="415.3" r="6.70" fill="#ff0000" stroke="#000" stroke-width="1.4"/>
<circle cx="1616.8" cy="426.2" r="6.70" fill="#ff0000" stroke="#000" stroke-width="1.4"/>
<circle cx="1597.3" cy="434.7" r="6.70" fill="#ff0000" stroke="#000" stroke-width="1.4"/>
<circle cx="1592.5" cy="440.8" r="6.70" fill="#ff0000" stroke="#000" stroke-width="1.4"/>
<circle cx="1581.6" cy="446.9" r="6.70" fill="#ff0000" stroke="#000" stroke-width="1.4"/>
<circle cx="1585.2" cy="460.2" r="6.70" fill="#ff0000" stroke="#000" stroke-width="1.4"/>
<circle cx="1574.3" cy="467.5" r="6.70" fill="#ff0000" stroke="#000" stroke-width="1.4"/>
<circle cx="1567.0" cy="460.2" r="6.70" fill="#ff0000" stroke="#000" stroke-width="1.4"/>
<circle cx="1552.4" cy="469.9" r="6.70" fill="#ff0000" stroke="#000" stroke-width="1.4"/>
<circle cx="1548.8" cy="476.0" r="6.70" fill="#ff0000" stroke="#000" stroke-width="1.4"/>
<circle cx="1554.9" cy="486.9" r="6.70" fill="#ff0000" stroke="#000" stroke-width="1.4"/>
<circle cx="1541.5" cy="490.6" r="6.70" fill="#ff0000" stroke="#000" stroke-width="1.4"/>
<circle cx="1520.9" cy="501.5" r="6.70" fill="#ff0000" stroke="#000" stroke-width="1.4"/>
<circle cx="1509.9" cy="508.8" r="6.70" fill="#ff0000" stroke="#000" stroke-width="1.4"/>
<circle cx="1507.5" cy="517.3" r="6.70" fill="#ff0000" stroke="#000" stroke-width="1.4"/>
<circle cx="1513.6" cy="520.9" r="6.70" fill="#ff0000" stroke="#000" stroke-width="1.4"/>
<circle cx="1495.4" cy="530.6" r="6.70" fill="#ff0000" stroke="#000" stroke-width="1.4"/>
<circle cx="1484.5" cy="535.5" r="6.70" fill="#ff0000" stroke="#000" stroke-width="1.4"/>
<circle cx="1472.3" cy="535.5" r="6.70" fill="#ff0000" stroke="#000" stroke-width="1.4"/>
<circle cx="1461.4" cy="550.1" r="6.70" fill="#ff0000" stroke="#000" stroke-width="1.4"/>
<circle cx="1450.5" cy="557.3" r="6.70" fill="#ff0000" stroke="#000" stroke-width="1.4"/>
<circle cx="1432.3" cy="567.1" r="6.70" fill="#ff0000" stroke="#000" stroke-width="1.4"/>
<circle cx="1422.5" cy="570.7" r="6.70" fill="#ff0000" stroke="#000" stroke-width="1.4"/>
<circle cx="1414.0" cy="571.9" r="6.70" fill="#ff0000" stroke="#000" stroke-width="1.4"/>
<circle cx="1388.6" cy="578.0" r="6.70" fill="#ff0000" stroke="#000" stroke-width="1.4"/>
<circle cx="1386.1" cy="586.5" r="6.70" fill="#ff0000" stroke="#000" stroke-width="1.4"/>
<circle cx="1377.6" cy="582.8" r="6.70" fill="#ff0000" stroke="#000" stroke-width="1.4"/>
<circle cx="1366.7" cy="581.6" r="6.70" fill="#ff0000" stroke="#000" stroke-width="1.4"/>
<circle cx="1355.8" cy="592.5" r="6.70" fill="#ff0000" stroke="#000" stroke-width="1.4"/>
<circle cx="1344.9" cy="601.0" r="6.70" fill="#ff0000" stroke="#000" stroke-width="1.4"/>
<circle cx="1111.3" cy="227.5" r="6.70" fill="#ff0000" stroke="#000" stroke-width="1.4"/>
<circle cx="1095.1" cy="247.0" r="6.70" fill="#ff0000" stroke="#000" stroke-width="1.4"/>
<circle cx="1069.2" cy="274.0" r="6.70" fill="#ff0000" stroke="#000" stroke-width="1.4"/>
<circle cx="1064.8" cy="283.7" r="6.70" fill="#ff0000" stroke="#000" stroke-width="1.4"/>
<circle cx="1045.4" cy="299.9" r="6.70" fill="#ff0000" stroke="#000" stroke-width="1.4"/>
<circle cx="1028.1" cy="332.4" r="6.70" fill="#ff0000" stroke="#000" stroke-width="1.4"/>
<circle cx="1029.8" cy="330.3" r="6.70" fill="#ff0000" stroke="#000" stroke-width="1.4"/>
<circle cx="1031.8" cy="333.4" r="6.70" fill="#ff0000" stroke="#000" stroke-width="1.4"/>
<circle cx="1031.1" cy="335.1" r="6.70" fill="#ff0000" stroke="#000" stroke-width="1.4"/>
<circle cx="1022.3" cy="337.2" r="6.70" fill="#ff0000" stroke="#000" stroke-width="1.4"/>
<circle cx="1026.2" cy="341.6" r="6.70" fill="#ff0000" stroke="#000" stroke-width="1.4"/>
<circle cx="1022.0" cy="343.3" r="6.70" fill="#ff0000" stroke="#000" stroke-width="1.4"/>
<circle cx="1024.8" cy="345.8" r="6.70" fill="#ff0000" stroke="#000" stroke-width="1.4"/>
<circle cx="1017.6" cy="349.3" r="6.70" fill="#ff0000" stroke="#000" stroke-width="1.4"/>
<circle cx="1019.5" cy="352.9" r="6.70" fill="#ff0000" stroke="#000" stroke-width="1.4"/>
<circle cx="1021.3" cy="354.7" r="6.70" fill="#ff0000" stroke="#000" stroke-width="1.4"/>
<circle cx="1016.8" cy="356.7" r="6.70" fill="#ff0000" stroke="#000" stroke-width="1.4"/>
<circle cx="1013.3" cy="360.4" r="6.70" fill="#ff0000" stroke="#000" stroke-width="1.4"/>
<circle cx="1014.2" cy="361.8" r="6.70" fill="#ff0000" stroke="#000" stroke-width="1.4"/>
<circle cx="1013.6" cy="365.3" r="6.70" fill="#ff0000" stroke="#000" stroke-width="1.4"/>
<circle cx="1010.0" cy="368.6" r="6.70" fill="#ff0000" stroke="#000" stroke-width="1.4"/>
<circle cx="1010.9" cy="370.8" r="6.70" fill="#ff0000" stroke="#000" stroke-width="1.4"/>
<circle cx="1011.1" cy="372.7" r="6.70" fill="#ff0000" stroke="#000" stroke-width="1.4"/>
<circle cx="1009.9" cy="375.4" r="6.70" fill="#ff0000" stroke="#000" stroke-width="1.4"/>
<circle cx="1003.1" cy="378.4" r="6.70" fill="#ff0000" stroke="#000" stroke-width="1.4"/>
<circle cx="1005.3" cy="381.0" r="6.70" fill="#ff0000" stroke="#000" stroke-width="1.4"/>
<circle cx="1003.0" cy="385.4" r="6.70" fill="#ff0000" stroke="#000" stroke-width="1.4"/>
<circle cx="1001.9" cy="388.0" r="6.70" fill="#ff0000" stroke="#000" stroke-width="1.4"/>
<circle cx="1006.7" cy="389.6" r="6.70" fill="#ff0000" stroke="#000" stroke-width="1.4"/>
<circle cx="1000.0" cy="392.8" r="6.70" fill="#ff0000" stroke="#000" stroke-width="1.4"/>
<circle cx="992.1" cy="397.3" r="6.70" fill="#ff0000" stroke="#000" stroke-width="1.4"/>
<circle cx="1002.8" cy="397.4" r="6.70" fill="#ff0000" stroke="#000" stroke-width="1.4"/>
<circle cx="995.7" cy="400.8" r="6.70" fill="#ff0000" stroke="#000" stroke-width="1.4"/>
<circle cx="994.6" cy="403.0" r="6.70" fill="#ff0000" stroke="#000" stroke-width="1.4"/>
<circle cx="993.7" cy="406.2" r="6.70" fill="#ff0000" stroke="#000" stroke-width="1.4"/>
<circle cx="997.6" cy="408.3" r="6.70" fill="#ff0000" stroke="#000" stroke-width="1.4"/>
<circle cx="996.0" cy="411.2" r="6.70" fill="#ff0000" stroke="#000" stroke-width="1.4"/>
<circle cx="998.2" cy="412.3" r="6.70" fill="#ff0000" stroke="#000" stroke-width="1.4"/>
<circle cx="993.8" cy="415.8" r="6.70" fill="#ff0000" stroke="#000" stroke-width="1.4"/>
<circle cx="988.4" cy="419.3" r="6.70" fill="#ff0000" stroke="#000" stroke-width="1.4"/>
<circle cx="994.7" cy="420.5" r="6.70" fill="#ff0000" stroke="#000" stroke-width="1.4"/>
<circle cx="998.4" cy="422.2" r="6.70" fill="#ff0000" stroke="#000" stroke-width="1.4"/>
<circle cx="990.8" cy="427.2" r="6.70" fill="#ff0000" stroke="#000" stroke-width="1.4"/>
<circle cx="987.3" cy="431.0" r="6.70" fill="#ff0000" stroke="#000" stroke-width="1.4"/>
<circle cx="990.6" cy="432.7" r="6.70" fill="#ff0000" stroke="#000" stroke-width="1.4"/>
<circle cx="983.5" cy="435.5" r="6.70" fill="#ff0000" stroke="#000" stroke-width="1.4"/>
<circle cx="989.5" cy="437.9" r="6.70" fill="#ff0000" stroke="#000" stroke-width="1.4"/>
<circle cx="988.6" cy="439.1" r="6.70" fill="#ff0000" stroke="#000" stroke-width="1.4"/>
<circle cx="991.8" cy="441.5" r="6.70" fill="#ff0000" stroke="#000" stroke-width="1.4"/>
<circle cx="989.0" cy="444.3" r="6.70" fill="#ff0000" stroke="#000" stroke-width="1.4"/>
<circle cx="984.7" cy="447.7" r="6.70" fill="#ff0000" stroke="#000" stroke-width="1.4"/>
<circle cx="984.2" cy="451.6" r="6.70" fill="#ff0000" stroke="#000" stroke-width="1.4"/>
<circle cx="982.6" cy="453.9" r="6.70" fill="#ff0000" stroke="#000" stroke-width="1.4"/>
<circle cx="984.1" cy="456.3" r="6.70" fill="#ff0000" stroke="#000" stroke-width="1.4"/>
<circle cx="984.8" cy="457.7" r="6.70" fill="#ff0000" stroke="#000" stroke-width="1.4"/>
<circle cx="993.5" cy="456.8" r="6.70" fill="#ff0000" stroke="#000" stroke-width="1.4"/>
<circle cx="989.1" cy="461.7" r="6.70" fill="#ff0000" stroke="#000" stroke-width="1.4"/>
<circle cx="977.5" cy="467.9" r="6.70" fill="#ff0000" stroke="#000" stroke-width="1.4"/>
<circle cx="988.0" cy="466.3" r="6.70" fill="#ff0000" stroke="#000" stroke-width="1.4"/>
<circle cx="983.8" cy="470.9" r="6.70" fill="#ff0000" stroke="#000" stroke-width="1.4"/>
<circle cx="986.4" cy="472.0" r="6.70" fill="#ff0000" stroke="#000" stroke-width="1.4"/>
<circle cx="983.8" cy="476.2" r="6.70" fill="#ff0000" stroke="#000" stroke-width="1.4"/>
<circle cx="986.1" cy="477.8" r="6.70" fill="#ff0000" stroke="#000" stroke-width="1.4"/>
<circle cx="989.8" cy="478.4" r="6.70" fill="#ff0000" stroke="#000" stroke-width="1.4"/>
<circle cx="989.1" cy="479.9" r="6.70" fill="#ff0000" stroke="#000" stroke-width="1.4"/>
<circle cx="985.5" cy="485.1" r="6.70" fill="#ff0000" stroke="#000" stroke-width="1.4"/>
<circle cx="988.6" cy="485.9" r="6.70" fill="#ff0000" stroke="#000" stroke-width="1.4"/>
<circle cx="994.0" cy="485.9" r="6.70" fill="#ff0000" stroke="#000" stroke-width="1.4"/>
<circle cx="985.5" cy="491.3" r="6.70" fill="#ff0000" stroke="#000" stroke-width="1.4"/>
<circle cx="984.0" cy="494.6" r="6.70" fill="#ff0000" stroke="#000" stroke-width="1.4"/>
<circle cx="984.7" cy="496.8" r="6.70" fill="#ff0000" stroke="#000" stroke-width="1.4"/>
<circle cx="985.1" cy="499.5" r="6.70" fill="#ff0000" stroke="#000" stroke-width="1.4"/>
<circle cx="993.8" cy="497.4" r="6.70" fill="#ff0000" stroke="#000" stroke-width="1.4"/>
<circle cx="983.4" cy="504.9" r="6.70" fill="#ff0000" stroke="#000" stroke-width="1.4"/>
<circle cx="990.2" cy="504.4" r="6.70" fill="#ff0000" stroke="#000" stroke-width="1.4"/>
<circle cx="993.4" cy="506.1" r="6.70" fill="#ff0000" stroke="#000" stroke-width="1.4"/>
<circle cx="992.2" cy="508.5" r="6.70" fill="#ff0000" stroke="#000" stroke-width="1.4"/>
<circle cx="993.8" cy="510.8" r="6.70" fill="#ff0000" stroke="#000" stroke-width="1.4"/>
<circle cx="996.2" cy="512.1" r="6.70" fill="#ff0000" stroke="#000" stroke-width="1.4"/>
<circle cx="992.5" cy="515.4" r="6.70" fill="#ff0000" stroke="#000" stroke-width="1.4"/>
<circle cx="992.8" cy="518.8" r="6.70" fill="#ff0000" stroke="#000" stroke-width="1.4"/>
<circle cx="994.7" cy="520.0" r="6.70" fill="#ff0000" stroke="#000" stroke-width="1.4"/>
<circle cx="994.1" cy="522.6" r="6.70" fill="#ff0000" stroke="#000" stroke-width="1.4"/>
<circle cx="995.7" cy="523.5" r="6.70" fill="#ff0000" stroke="#000" stroke-width="1.4"/>
<circle cx="998.3" cy="524.4" r="6.70" fill="#ff0000" stroke="#000" stroke-width="1.4"/>
<circle cx="998.6" cy="526.7" r="6.70" fill="#ff0000" stroke="#000" stroke-width="1.4"/>
<circle cx="996.2" cy="531.7" r="6.70" fill="#ff0000" stroke="#000" stroke-width="1.4"/>
<circle cx="1003.3" cy="529.6" r="6.70" fill="#ff0000" stroke="#000" stroke-width="1.4"/>
<circle cx="1001.4" cy="533.5" r="6.70" fill="#ff0000" stroke="#000" stroke-width="1.4"/>
<circle cx="997.7" cy="538.7" r="6.70" fill="#ff0000" stroke="#000" stroke-width="1.4"/>
<circle cx="1000.8" cy="538.9" r="6.70" fill="#ff0000" stroke="#000" stroke-width="1.4"/>
<circle cx="1000.0" cy="540.9" r="6.70" fill="#ff0000" stroke="#000" stroke-width="1.4"/>
<circle cx="1003.4" cy="542.0" r="6.70" fill="#ff0000" stroke="#000" stroke-width="1.4"/>
<circle cx="1008.5" cy="542.3" r="6.70" fill="#ff0000" stroke="#000" stroke-width="1.4"/>
<circle cx="1006.5" cy="544.6" r="6.70" fill="#ff0000" stroke="#000" stroke-width="1.4"/>
<circle cx="1006.6" cy="548.5" r="6.70" fill="#ff0000" stroke="#000" stroke-width="1.4"/>
<circle cx="1009.2" cy="548.9" r="6.70" fill="#ff0000" stroke="#000" stroke-width="1.4"/>
<circle cx="1009.2" cy="550.5" r="6.70" fill="#ff0000" stroke="#000" stroke-width="1.4"/>
<circle cx="1009.2" cy="553.0" r="6.70" fill="#ff0000" stroke="#000" stroke-width="1.4"/>
<circle cx="1008.4" cy="556.6" r="6.70" fill="#ff0000" stroke="#000" stroke-width="1.4"/>
<circle cx="1014.3" cy="556.1" r="6.70" fill="#ff0000" stroke="#000" stroke-width="1.4"/>
<circle cx="1010.5" cy="561.3" r="6.70" fill="#ff0000" stroke="#000" stroke-width="1.4"/>
<circle cx="1015.6" cy="560.7" r="6.70" fill="#ff0000" stroke="#000" stroke-width="1.4"/>
<circle cx="1013.5" cy="564.0" r="6.70" fill="#ff0000" stroke="#000" stroke-width="1.4"/>
<circle cx="1014.7" cy="566.4" r="6.70" fill="#ff0000" stroke="#000" stroke-width="1.4"/>
<circle cx="1014.3" cy="569.6" r="6.70" fill="#ff0000" stroke="#000" stroke-width="1.4"/>
<circle cx="1017.4" cy="569.2" r="6.70" fill="#ff0000" stroke="#000" stroke-width="1.4"/>
<circle cx="1018.6" cy="570.7" r="6.70" fill="#ff0000" stroke="#000" stroke-width="1.4"/>
<circle cx="1019.3" cy="574.9" r="6.70" fill="#ff0000" stroke="#000" stroke-width="1.4"/>
<circle cx="1030.2" cy="567.9" r="6.70" fill="#ff0000" stroke="#000" stroke-width="1.4"/>
<circle cx="1029.8" cy="571.4" r="6.70" fill="#ff0000" stroke="#000" stroke-width="1.4"/>
<circle cx="1025.8" cy="577.8" r="6.70" fill="#ff0000" stroke="#000" stroke-width="1.4"/>
<circle cx="1036.6" cy="571.9" r="6.70" fill="#ff0000" stroke="#000" stroke-width="1.4"/>
<circle cx="1031.9" cy="579.2" r="6.70" fill="#ff0000" stroke="#000" stroke-width="1.4"/>
<circle cx="1033.6" cy="580.6" r="6.70" fill="#ff0000" stroke="#000" stroke-width="1.4"/>
<circle cx="1039.5" cy="577.6" r="6.70" fill="#ff0000" stroke="#000" stroke-width="1.4"/>
<circle cx="1040.1" cy="580.9" r="6.70" fill="#ff0000" stroke="#000" stroke-width="1.4"/>
<circle cx="1036.4" cy="585.4" r="6.70" fill="#ff0000" stroke="#000" stroke-width="1.4"/>
<circle cx="1039.3" cy="587.2" r="6.70" fill="#ff0000" stroke="#000" stroke-width="1.4"/>
<circle cx="1044.7" cy="586.1" r="6.70" fill="#ff0000" stroke="#000" stroke-width="1.4"/>
<circle cx="1047.1" cy="586.7" r="6.70" fill="#ff0000" stroke="#000" stroke-width="1.4"/>
<circle cx="1048.9" cy="588.5" r="6.70" fill="#ff0000" stroke="#000" stroke-width="1.4"/>
<circle cx="1046.1" cy="591.8" r="6.70" fill="#ff0000" stroke="#000" stroke-width="1.4"/>
<circle cx="1053.6" cy="588.9" r="6.70" fill="#ff0000" stroke="#000" stroke-width="1.4"/>
<circle cx="1052.7" cy="594.2" r="6.70" fill="#ff0000" stroke="#000" stroke-width="1.4"/>
<circle cx="1057.7" cy="591.3" r="6.70" fill="#ff0000" stroke="#000" stroke-width="1.4"/>
<circle cx="1053.8" cy="598.6" r="6.70" fill="#ff0000" stroke="#000" stroke-width="1.4"/>
<circle cx="1057.4" cy="597.8" r="6.70" fill="#ff0000" stroke="#000" stroke-width="1.4"/>
<circle cx="1056.7" cy="602.1" r="6.70" fill="#ff0000" stroke="#000" stroke-width="1.4"/>
<circle cx="1068.2" cy="594.2" r="6.70" fill="#ff0000" stroke="#000" stroke-width="1.4"/>
<circle cx="1069.9" cy="596.0" r="6.70" fill="#ff0000" stroke="#000" stroke-width="1.4"/>
<circle cx="1067.8" cy="600.3" r="6.70" fill="#ff0000" stroke="#000" stroke-width="1.4"/>
<circle cx="1064.5" cy="607.0" r="6.70" fill="#ff0000" stroke="#000" stroke-width="1.4"/>
<circle cx="1074.4" cy="601.6" r="6.70" fill="#ff0000" stroke="#000" stroke-width="1.4"/>
<circle cx="1069.3" cy="608.4" r="6.70" fill="#ff0000" stroke="#000" stroke-width="1.4"/>
<circle cx="1075.4" cy="606.9" r="6.70" fill="#ff0000" stroke="#000" stroke-width="1.4"/>
<circle cx="1076.6" cy="607.4" r="6.70" fill="#ff0000" stroke="#000" stroke-width="1.4"/>
<circle cx="1077.4" cy="609.7" r="6.70" fill="#ff0000" stroke="#000" stroke-width="1.4"/>
<circle cx="1084.4" cy="606.5" r="6.70" fill="#ff0000" stroke="#000" stroke-width="1.4"/>
<circle cx="1086.8" cy="608.8" r="6.70" fill="#ff0000" stroke="#000" stroke-width="1.4"/>
<circle cx="1089.5" cy="607.6" r="6.70" fill="#ff0000" stroke="#000" stroke-width="1.4"/>
<circle cx="1089.9" cy="612.5" r="6.70" fill="#ff0000" stroke="#000" stroke-width="1.4"/>
<circle cx="1087.4" cy="618.0" r="6.70" fill="#ff0000" stroke="#000" stroke-width="1.4"/>
<circle cx="1095.6" cy="612.8" r="6.70" fill="#ff0000" stroke="#000" stroke-width="1.4"/>
<circle cx="1096.1" cy="616.0" r="6.70" fill="#ff0000" stroke="#000" stroke-width="1.4"/>
<circle cx="1098.0" cy="616.1" r="6.70" fill="#ff0000" stroke="#000" stroke-width="1.4"/>
<circle cx="1101.2" cy="616.5" r="6.70" fill="#ff0000" stroke="#000" stroke-width="1.4"/>
<circle cx="1104.0" cy="616.1" r="6.70" fill="#ff0000" stroke="#000" stroke-width="1.4"/>
<circle cx="1103.6" cy="621.1" r="6.70" fill="#ff0000" stroke="#000" stroke-width="1.4"/>
<circle cx="1109.9" cy="618.6" r="6.70" fill="#ff0000" stroke="#000" stroke-width="1.4"/>
<circle cx="1112.4" cy="617.3" r="6.70" fill="#ff0000" stroke="#000" stroke-width="1.4"/>
<circle cx="1119.0" cy="614.6" r="6.70" fill="#ff0000" stroke="#000" stroke-width="1.4"/>
<circle cx="1115.7" cy="623.3" r="6.70" fill="#ff0000" stroke="#000" stroke-width="1.4"/>
<circle cx="1118.8" cy="622.9" r="6.70" fill="#ff0000" stroke="#000" stroke-width="1.4"/>
<circle cx="1121.6" cy="622.0" r="6.70" fill="#ff0000" stroke="#000" stroke-width="1.4"/>
<circle cx="1124.8" cy="621.2" r="6.70" fill="#ff0000" stroke="#000" stroke-width="1.4"/>
<circle cx="1124.8" cy="626.9" r="6.70" fill="#ff0000" stroke="#000" stroke-width="1.4"/>
<circle cx="1130.5" cy="622.8" r="6.70" fill="#ff0000" stroke="#000" stroke-width="1.4"/>
<circle cx="1134.4" cy="621.6" r="6.70" fill="#ff0000" stroke="#000" stroke-width="1.4"/>
<circle cx="1135.7" cy="625.4" r="6.70" fill="#ff0000" stroke="#000" stroke-width="1.4"/>
<circle cx="1139.3" cy="623.2" r="6.70" fill="#ff0000" stroke="#000" stroke-width="1.4"/>
<circle cx="1142.3" cy="624.5" r="6.70" fill="#ff0000" stroke="#000" stroke-width="1.4"/>
<circle cx="1146.0" cy="623.9" r="6.70" fill="#ff0000" stroke="#000" stroke-width="1.4"/>
<circle cx="1147.5" cy="624.6" r="6.70" fill="#ff0000" stroke="#000" stroke-width="1.4"/>
<circle cx="1154.0" cy="621.1" r="6.70" fill="#ff0000" stroke="#000" stroke-width="1.4"/>
<circle cx="1154.0" cy="623.3" r="6.70" fill="#ff0000" stroke="#000" stroke-width="1.4"/>
<circle cx="1158.3" cy="624.0" r="6.70" fill="#ff0000" stroke="#000" stroke-width="1.4"/>
<circle cx="1160.7" cy="622.3" r="6.70" fill="#ff0000" stroke="#000" stroke-width="1.4"/>
<circle cx="1163.6" cy="625.7" r="6.70" fill="#ff0000" stroke="#000" stroke-width="1.4"/>
<circle cx="1164.6" cy="627.3" r="6.70" fill="#ff0000" stroke="#000" stroke-width="1.4"/>
<circle cx="1170.3" cy="624.0" r="6.70" fill="#ff0000" stroke="#000" stroke-width="1.4"/>
<circle cx="1168.1" cy="632.9" r="6.70" fill="#ff0000" stroke="#000" stroke-width="1.4"/>
<circle cx="1174.8" cy="626.6" r="6.70" fill="#ff0000" stroke="#000" stroke-width="1.4"/>
<circle cx="1176.2" cy="628.1" r="6.70" fill="#ff0000" stroke="#000" stroke-width="1.4"/>
<circle cx="1181.4" cy="624.0" r="6.70" fill="#ff0000" stroke="#000" stroke-width="1.4"/>
<circle cx="1185.0" cy="624.6" r="6.70" fill="#ff0000" stroke="#000" stroke-width="1.4"/>
<circle cx="1182.3" cy="631.7" r="6.70" fill="#ff0000" stroke="#000" stroke-width="1.4"/>
<circle cx="1189.2" cy="628.8" r="6.70" fill="#ff0000" stroke="#000" stroke-width="1.4"/>
<circle cx="1191.9" cy="626.6" r="6.70" fill="#ff0000" stroke="#000" stroke-width="1.4"/>
<circle cx="1196.8" cy="623.2" r="6.70" fill="#ff0000" stroke="#000" stroke-width="1.4"/>
<circle cx="1196.2" cy="631.3" r="6.70" fill="#ff0000" stroke="#000" stroke-width="1.4"/>
<circle cx="1202.2" cy="624.2" r="6.70" fill="#ff0000" stroke="#000" stroke-width="1.4"/>
<circle cx="1205.5" cy="625.2" r="6.70" fill="#ff0000" stroke="#000" stroke-width="1.4"/>
<circle cx="1208.7" cy="625.9" r="6.70" fill="#ff0000" stroke="#000" stroke-width="1.4"/>
<circle cx="1210.8" cy="627.2" r="6.70" fill="#ff0000" stroke="#000" stroke-width="1.4"/>
<circle cx="1214.4" cy="626.0" r="6.70" fill="#ff0000" stroke="#000" stroke-width="1.4"/>
<circle cx="1217.8" cy="625.6" r="6.70" fill="#ff0000" stroke="#000" stroke-width="1.4"/>
<circle cx="1219.0" cy="630.9" r="6.70" fill="#ff0000" stroke="#000" stroke-width="1.4"/>
<circle cx="1223.1" cy="625.5" r="6.70" fill="#ff0000" stroke="#000" stroke-width="1.4"/>
<circle cx="1225.7" cy="626.1" r="6.70" fill="#ff0000" stroke="#000" stroke-width="1.4"/>
<circle cx="1233.4" cy="620.3" r="6.70" fill="#ff0000" stroke="#000" stroke-width="1.4"/>
<circle cx="1234.2" cy="626.0" r="6.70" fill="#ff0000" stroke="#000" stroke-width="1.4"/>
<circle cx="1239.1" cy="618.8" r="6.70" fill="#ff0000" stroke="#000" stroke-width="1.4"/>
<circle cx="1242.2" cy="621.2" r="6.70" fill="#ff0000" stroke="#000" stroke-width="1.4"/>
<circle cx="1240.6" cy="629.4" r="6.70" fill="#ff0000" stroke="#000" stroke-width="1.4"/>
<circle cx="1246.6" cy="620.3" r="6.70" fill="#ff0000" stroke="#000" stroke-width="1.4"/>
<circle cx="1250.2" cy="621.7" r="6.70" fill="#ff0000" stroke="#000" stroke-width="1.4"/>
<circle cx="1255.4" cy="617.9" r="6.70" fill="#ff0000" stroke="#000" stroke-width="1.4"/>
<circle cx="1258.7" cy="617.3" r="6.70" fill="#ff0000" stroke="#000" stroke-width="1.4"/>
<circle cx="1260.2" cy="623.0" r="6.70" fill="#ff0000" stroke="#000" stroke-width="1.4"/>
<circle cx="1264.7" cy="618.0" r="6.70" fill="#ff0000" stroke="#000" stroke-width="1.4"/>
<circle cx="1266.2" cy="618.7" r="6.70" fill="#ff0000" stroke="#000" stroke-width="1.4"/>
<circle cx="1269.8" cy="617.4" r="6.70" fill="#ff0000" stroke="#000" stroke-width="1.4"/>
<circle cx="1275.2" cy="613.4" r="6.70" fill="#ff0000" stroke="#000" stroke-width="1.4"/>
<circle cx="1278.5" cy="616.0" r="6.70" fill="#ff0000" stroke="#000" stroke-width="1.4"/>
<circle cx="1279.8" cy="618.9" r="6.70" fill="#ff0000" stroke="#000" stroke-width="1.4"/>
<circle cx="1289.3" cy="611.6" r="6.70" fill="#ff0000" stroke="#000" stroke-width="1.4"/>
<circle cx="1297.0" cy="613.4" r="6.70" fill="#ff0000" stroke="#000" stroke-width="1.4"/>
<circle cx="1306.9" cy="612.7" r="6.70" fill="#ff0000" stroke="#000" stroke-width="1.4"/>
<circle cx="1316.7" cy="602.9" r="6.70" fill="#ff0000" stroke="#000" stroke-width="1.4"/>
<circle cx="1324.0" cy="607.0" r="6.70" fill="#ff0000" stroke="#000" stroke-width="1.4"/>
<circle cx="1337.7" cy="594.3" r="6.70" fill="#ff0000" stroke="#000" stroke-width="1.4"/>
<circle cx="1343.9" cy="599.9" r="6.70" fill="#ff0000" stroke="#000" stroke-width="1.4"/>
<circle cx="1353.1" cy="593.6" r="6.70" fill="#ff0000" stroke="#000" stroke-width="1.4"/>
<circle cx="1369.1" cy="585.3" r="6.70" fill="#ff0000" stroke="#000" stroke-width="1.4"/>
<circle cx="1379.1" cy="584.2" r="6.70" fill="#ff0000" stroke="#000" stroke-width="1.4"/>
<circle cx="1391.6" cy="577.4" r="6.70" fill="#ff0000" stroke="#000" stroke-width="1.4"/>
<circle cx="1395.7" cy="572.4" r="6.70" fill="#ff0000" stroke="#000" stroke-width="1.4"/>
<circle cx="1408.7" cy="574.8" r="6.70" fill="#ff0000" stroke="#000" stroke-width="1.4"/>
<circle cx="1414.6" cy="572.3" r="6.70" fill="#ff0000" stroke="#000" stroke-width="1.4"/>
<circle cx="1427.9" cy="559.0" r="6.70" fill="#ff0000" stroke="#000" stroke-width="1.4"/>
<circle cx="1433.3" cy="558.1" r="6.70" fill="#ff0000" stroke="#000" stroke-width="1.4"/>
<circle cx="1449.1" cy="549.4" r="6.70" fill="#ff0000" stroke="#000" stroke-width="1.4"/>
<circle cx="1453.8" cy="547.5" r="6.70" fill="#ff0000" stroke="#000" stroke-width="1.4"/>
<circle cx="1463.9" cy="538.5" r="6.70" fill="#ff0000" stroke="#000" stroke-width="1.4"/>
<circle cx="1483.2" cy="534.0" r="6.70" fill="#ff0000" stroke="#000" stroke-width="1.4"/>
<circle cx="1487.4" cy="528.4" r="6.70" fill="#ff0000" stroke="#000" stroke-width="1.4"/>
<circle cx="1497.8" cy="518.4" r="6.70" fill="#ff0000" stroke="#000" stroke-width="1.4"/>
<circle cx="1508.9" cy="512.4" r="6.70" fill="#ff0000" stroke="#000" stroke-width="1.4"/>
<circle cx="1516.0" cy="506.6" r="6.70" fill="#ff0000" stroke="#000" stroke-width="1.4"/>
<circle cx="1526.8" cy="500.7" r="6.70" fill="#ff0000" stroke="#000" stroke-width="1.4"/>
<circle cx="1535.2" cy="497.3" r="6.70" fill="#ff0000" stroke="#000" stroke-width="1.4"/>
<circle cx="1544.2" cy="490.4" r="6.70" fill="#ff0000" stroke="#000" stroke-width="1.4"/>
<circle cx="1549.0" cy="480.5" r="6.70" fill="#ff0000" stroke="#000" stroke-width="1.4"/>
<circle cx="1563.6" cy="472.6" r="6.70" fill="#ff0000" stroke="#000" stroke-width="1.4"/>
<circle cx="1566.1" cy="466.9" r="6.70" fill="#ff0000" stroke="#000" stroke-width="1.4"/>
<circle cx="1572.5" cy="458.1" r="6.70" fill="#ff0000" stroke="#000" stroke-width="1.4"/>
<circle cx="1585.5" cy="448.7" r="6.70" fill="#ff0000" stroke="#000" stroke-width="1.4"/>
<circle cx="1595.7" cy="443.0" r="6.70" fill="#ff0000" stroke="#000" stroke-width="1.4"/>
<circle cx="1600.2" cy="432.5" r="6.70" fill="#ff0000" stroke="#000" stroke-width="1.4"/>
<circle cx="1607.8" cy="428.1" r="6.70" fill="#ff0000" stroke="#000" stroke-width="1.4"/>
<circle cx="1619.5" cy="420.6" r="6.70" fill="#ff0000" stroke="#000" stroke-width="1.4"/>
<circle cx="1621.3" cy="413.6" r="6.70" fill="#ff0000" stroke="#000" stroke-width="1.4"/>
<circle cx="1627.2" cy="406.8" r="6.70" fill="#ff0000" stroke="#000" stroke-width="1.4"/>
<circle cx="1634.1" cy="397.6" r="6.70" fill="#ff0000" stroke="#000" stroke-width="1.4"/>
<circle cx="1637.7" cy="389.0" r="6.70" fill="#ff0000" stroke="#000" stroke-width="1.4"/>
<circle cx="1650.1" cy="380.8" r="6.70" fill="#ff0000" stroke="#000" stroke-width="1.4"/>
<circle cx="1659.0" cy="370.4" r="6.70" fill="#ff0000" stroke="#000" stroke-width="1.4"/>
<circle cx="1661.4" cy="367.3" r="6.70" fill="#ff0000" stroke="#000" stroke-width="1.4"/>
<circle cx="1664.2" cy="357.0" r="6.70" fill="#ff0000" stroke="#000" stroke-width="1.4"/>
<circle cx="1667.4" cy="352.4" r="6.70" fill="#ff0000" stroke="#000" stroke-width="1.4"/>
<circle cx="1680.0" cy="343.4" r="6.70" fill="#ff0000" stroke="#000" stroke-width="1.4"/>
<circle cx="1681.1" cy="330.1" r="6.70" fill="#ff0000" stroke="#000" stroke-width="1.4"/>
<circle cx="1686.4" cy="324.8" r="6.70" fill="#ff0000" stroke="#000" stroke-width="1.4"/>
<circle cx="1680.7" cy="317.3" r="6.70" fill="#ff0000" stroke="#000" stroke-width="1.4"/>
<circle cx="1692.1" cy="308.1" r="6.70" fill="#ff0000" stroke="#000" stroke-width="1.4"/>
<circle cx="1695.7" cy="301.7" r="6.70" fill="#ff0000" stroke="#000" stroke-width="1.4"/>
<circle cx="1698.8" cy="291.2" r="6.70" fill="#ff0000" stroke="#000" stroke-width="1.4"/>
<circle cx="1711.8" cy="282.6" r="6.70" fill="#ff0000" stroke="#000" stroke-width="1.4"/>
<circle cx="1707.4" cy="278.3" r="6.70" fill="#ff0000" stroke="#000" stroke-width="1.4"/>
<circle cx="1705.2" cy="270.2" r="6.70" fill="#ff0000" stroke="#000" stroke-width="1.4"/>
<circle cx="1714.0" cy="261.9" r="6.70" fill="#ff0000" stroke="#000" stroke-width="1.4"/>
<circle cx="1715.7" cy="254.7" r="6.70" fill="#ff0000" stroke="#000" stroke-width="1.4"/>
<circle cx="1717.3" cy="248.7" r="6.70" fill="#ff0000" stroke="#000" stroke-width="1.4"/>
<circle cx="1724.0" cy="239.1" r="6.70" fill="#ff0000" stroke="#000" stroke-width="1.4"/>
<circle cx="1720.5" cy="231.0" r="6.70" fill="#ff0000" stroke="#000" stroke-width="1.4"/>
<circle cx="1721.1" cy="228.5" r="6.70" fill="#ff0000" stroke="#000" stroke-width="1.4"/>
<circle cx="1719.3" cy="224.0" r="6.70" fill="#ff0000" stroke="#000" stroke-width="1.4"/>
<circle cx="1719.1" cy="212.7" r="6.70" fill="#ff0000" stroke="#000" stroke-width="1.4"/>
<circle cx="1722.7" cy="208.6" r="6.70" fill="#ff0000" stroke="#000" stroke-width="1.4"/>
<circle cx="1722.6" cy="201.2" r="6.70" fill="#ff0000" stroke="#000" stroke-width="1.4"/>
<circle cx="1719.6" cy="194.5" r="6.70" fill="#ff0000" stroke="#000" stroke-width="1.4"/>
<circle cx="1720.5" cy="186.4" r="6.70" fill="#ff0000" stroke="#000" stroke-width="1.4"/>
<circle cx="1721.7" cy="178.4" r="6.70" fill="#ff0000" stroke="#000" stroke-width="1.4"/>
<circle cx="1721.5" cy="174.7" r="6.70" fill="#ff0000" stroke="#000" stroke-width="1.4"/>
<circle cx="1717.7" cy="169.0" r="6.70" fill="#ff0000" stroke="#000" stroke-width="1.4"/>
<circle cx="1711.4" cy="167.2" r="6.70" fill="#ff0000" stroke="#000" stroke-width="1.4"/>
<circle cx="1717.1" cy="154.4" r="6.70" fill="#ff0000" stroke="#000" stroke-width="1.4"/>
<circle cx="1714.1" cy="152.5" r="6.70" fill="#ff0000" stroke="#000" stroke-width="1.4"/>
<circle cx="1709.7" cy="147.0" r="6.70" fill="#ff0000" stroke="#000" stroke-width="1.4"/>
<circle cx="1709.6" cy="142.0" r="6.70" fill="#ff0000" stroke="#000" stroke-width="1.4"/>
<circle cx="1704.4" cy="137.1" r="6.70" fill="#ff0000" stroke="#000" stroke-width="1.4"/>
<circle cx="1706.8" cy="129.7" r="6.70" fill="#ff0000" stroke="#000" stroke-width="1.4"/>
<circle cx="1701.0" cy="124.4" r="6.70" fill="#ff0000" stroke="#000" stroke-width="1.4"/>
<circle cx="1693.8" cy="122.4" r="6.70" fill="#ff0000" stroke="#000" stroke-width="1.4"/>
<circle cx="1696.1" cy="112.2" r="6.70" fill="#ff0000" stroke="#000" stroke-width="1.4"/>
<circle cx="1691.2" cy="105.2" r="6.70" fill="#ff0000" stroke="#000" stroke-width="1.4"/>
<circle cx="1684.5" cy="101.6" r="6.70" fill="#ff0000" stroke="#000" stroke-width="1.4"/>
<circle cx="1683.5" cy="96.7" r="6.70" fill="#ff0000" stroke="#000" stroke-width="1.4"/>
<circle cx="1672.8" cy="97.1" r="6.70" fill="#ff0000" stroke="#000" stroke-width="1.4"/>
<circle cx="1676.1" cy="86.0" r="6.70" fill="#ff0000" stroke="#000" stroke-width="1.4"/>
<circle cx="1667.3" cy="83.7" r="6.70" fill="#ff0000" stroke="#000" stroke-width="1.4"/>
<circle cx="1668.7" cy="81.3" r="6.70" fill="#ff0000" stroke="#000" stroke-width="1.4"/>
<circle cx="1653.2" cy="86.8" r="6.70" fill="#ff0000" stroke="#000" stroke-width="1.4"/>
<circle cx="1646.2" cy="77.7" r="6.70" fill="#ff0000" stroke="#000" stroke-width="1.4"/>
<circle cx="1644.7" cy="73.2" r="6.70" fill="#ff0000" stroke="#000" stroke-width="1.4"/>
<ellipse cx="1354.5" cy="335.9" rx="407.8" ry="233.7" transform="rotate(148.62 1354.5 335.9)" fill="none" stroke="#ff0000" stroke-width="5"/>
<line x1="1039.6" y1="579.6" x2="1686.0" y2="79.4" stroke="#000" stroke-width="4" stroke-dasharray="15 10 3.6 10" stroke-dashoffset="1.5"/>
<line x1="1150.4" y1="118.9" x2="1573.0" y2="579.2" stroke="#000" stroke-width="4" stroke-dasharray="15 10 3.6 10" stroke-dashoffset="3.1"/>
<circle cx="1114" cy="521" r="9.6" fill="#000"/>
<circle cx="1596.4" cy="147" r="9.6" fill="#000"/>
<line x1="1091.0" y1="262.0" x2="1109.0" y2="525.0" stroke="#ff0000" stroke-width="3.2"/>
<line x1="1094.0" y1="258.0" x2="1590.0" y2="148.5" stroke="#ff0000" stroke-width="3.6"/>
<line x1="1107.5" y1="266.0" x2="1113.4" y2="511.0" stroke="#4472c4" stroke-width="3.4"/>
<line x1="1111.0" y1="262.5" x2="1588.0" y2="151.0" stroke="#4472c4" stroke-width="3.4"/>
<text x="1057.0" y="527.4" style="font-family:'Liberation Serif',serif;font-size:36px;font-weight:normal;font-style:normal" fill="#111" text-anchor="start" textLength="35.0" lengthAdjust="spacingAndGlyphs">F1</text>
<text x="1603.0" y="191.7" style="font-family:'Liberation Serif',serif;font-size:36px;font-weight:normal;font-style:normal" fill="#111" text-anchor="start" textLength="37.7" lengthAdjust="spacingAndGlyphs">F2</text>
<text x="1018.5" y="487.5" style="font-family:'Liberation Serif',serif;font-size:36px;font-weight:bold;font-style:italic" fill="#ff0000" text-anchor="start" textLength="88.0" lengthAdjust="spacingAndGlyphs" stroke="#ff0000" stroke-width="0.6">Line1</text>
<text x="1297.0" y="174.8" style="font-family:'Liberation Serif',serif;font-size:36px;font-weight:bold;font-style:italic" fill="#ff0000" text-anchor="start" textLength="93.0" lengthAdjust="spacingAndGlyphs" stroke="#ff0000" stroke-width="0.6">Line2</text>
<text x="1132.3" y="398.3" style="font-family:'Liberation Serif',serif;font-size:36px;font-weight:bold;font-style:italic" fill="#4472c4" text-anchor="start" textLength="90.5" lengthAdjust="spacingAndGlyphs" stroke="#4472c4" stroke-width="0.6">Line3</text>
<text x="1318.7" y="262.0" style="font-family:'Liberation Serif',serif;font-size:36px;font-weight:bold;font-style:italic" fill="#4472c4" text-anchor="start" textLength="91.0" lengthAdjust="spacingAndGlyphs" stroke="#4472c4" stroke-width="0.6">Line4</text>
<rect x="1054.1" y="216.2" width="96.4" height="107" fill="none" stroke="#000" stroke-width="9.8"/>
<text x="1352.0" y="702.5" style="font-family:'Liberation Serif',serif;font-size:30.5px;font-weight:normal;font-style:normal" fill="#1a1a1a" text-anchor="middle" textLength="241.0" lengthAdjust="spacingAndGlyphs">Signal X: PD1-PD2</text>
<text transform="translate(891,335) rotate(-90)" x="0" y="0" style="font-family:'Liberation Serif',serif;font-size:30.5px" fill="#1a1a1a" text-anchor="middle" textLength="237" lengthAdjust="spacingAndGlyphs">Signal Y: PD4-PD3</text>
<text x="52.5" y="743.2" style="font-family:'Liberation Sans',sans-serif;font-size:41px;font-weight:normal;font-style:normal" fill="#000" text-anchor="start" textLength="47.0" lengthAdjust="spacingAndGlyphs" stroke="#000" stroke-width="0.6">(b)</text>
<text x="955.7" y="734.0" style="font-family:'Liberation Serif','Noto Serif CJK SC',serif;font-size:19px;font-weight:normal;font-style:normal" fill="#111" text-anchor="middle">信号</text>
<polyline points="135.3,859.0 136.1,838.0 136.9,820.1 137.8,808.2 138.6,804.0 139.3,806.7 140.1,814.6 140.8,827.6 141.5,845.3 142.2,867.0 143.0,892.2 143.7,920.1 144.4,949.9 145.1,980.5 145.9,1011.1 146.6,1040.9 147.3,1068.8 148.1,1094.0 148.8,1115.7 149.5,1133.4 150.2,1146.4 151.0,1154.3 151.7,1157.0 152.4,1154.3 153.2,1146.1 153.9,1132.8 154.6,1114.8 155.3,1092.5 156.1,1066.8 156.8,1038.2 157.5,1007.8 158.2,976.5 159.0,945.2 159.7,914.8 160.4,886.2 161.2,860.5 161.9,838.2 162.6,820.2 163.3,806.9 164.1,798.7 164.8,796.0 165.5,798.7 166.3,806.6 167.0,819.5 167.7,837.1 168.5,858.8 169.2,883.9 169.9,911.6 170.7,941.2 171.4,971.8 172.1,1002.3 172.9,1031.9 173.6,1059.6 174.3,1084.7 175.1,1106.4 175.8,1124.0 176.5,1136.9 177.3,1144.8 178.0,1147.5 178.7,1144.7 179.5,1136.6 180.2,1123.2 180.9,1105.1 181.7,1082.8 182.4,1056.9 183.1,1028.2 183.9,997.7 184.6,966.2 185.3,934.8 186.1,904.3 186.8,875.6 187.5,849.7 188.3,827.4 189.0,809.3 189.7,795.9 190.5,787.8 191.2,785.0 191.9,787.8 192.6,795.9 193.3,809.3 194.1,827.4 194.8,849.7 195.5,875.6 196.2,904.3 196.9,934.8 197.6,966.2 198.3,997.7 199.1,1028.2 199.8,1056.9 200.5,1082.8 201.2,1105.1 201.9,1123.2 202.6,1136.6 203.3,1144.7 204.1,1147.5 204.8,1144.8 205.5,1136.7 206.2,1123.6 206.9,1105.7 207.6,1083.7 208.3,1058.2 209.0,1030.1 209.8,1000.0 210.5,969.0 211.2,938.0 211.9,907.9 212.6,879.8 213.3,854.3 214.0,832.3 214.8,814.4 215.5,801.3 216.2,793.2 216.9,790.5 217.6,793.2 218.3,801.4 219.0,814.6 219.7,832.6 220.4,854.8 221.1,880.5 221.8,908.9 222.5,939.2 223.2,970.5 224.0,1001.8 224.7,1032.1 225.4,1060.5 226.1,1086.2 226.8,1108.4 227.5,1126.4 228.2,1139.6 228.9,1147.8 229.6,1150.5 230.2,1148.9 230.7,1144.2 231.3,1136.3 231.8,1125.5 232.4,1111.8 232.9,1095.6 233.5,1077.0 234.1,1056.2 234.6,1033.7 235.2,1009.7 235.7,984.7 236.3,958.9 236.8,932.7 237.4,906.6 237.9,880.9 238.5,856.0 238.8,851.2 239.1,853.4 239.4,845.7 239.7,847.9 240.0,844.3 240.3,846.4 240.6,842.9 240.9,844.7 241.2,841.1 241.5,843.7 241.8,839.1 242.1,842.6 242.4,838.0 242.7,840.1 243.0,836.8 243.3,840.9 243.6,836.0 243.9,839.1 244.2,833.9 244.5,838.0 244.8,832.5 245.1,838.1 245.4,832.8 245.7,836.5 246.0,831.9 246.3,834.0 246.6,830.6 246.9,834.2 247.2,828.3 247.5,831.8 247.8,827.7 248.1,831.5 248.4,827.8 248.7,831.3 249.0,825.3 249.3,828.1 249.6,823.5 249.9,826.8 250.2,824.3 250.5,826.2 250.8,821.3 251.1,824.6 251.4,820.5 251.7,824.9 252.0,821.5 252.3,823.9 252.6,819.6 252.9,822.8 253.2,818.0 253.5,822.1 253.8,816.6 254.1,820.1 254.4,816.1 254.7,819.8 255.0,815.4 255.3,819.8 255.6,814.2 255.9,817.8 256.2,814.6 256.5,818.3 256.8,812.8 257.1,816.5 257.4,812.2 257.7,815.9 258.0,812.8 258.3,815.9 258.6,811.8 258.9,814.5 259.2,811.3 259.5,813.9 259.8,811.2 260.1,812.6 260.4,809.4 260.7,812.7 261.0,808.9 261.3,812.4 261.6,809.1 261.9,810.9 262.2,808.3 262.5,810.2 262.8,806.8 263.1,809.5 263.4,806.7 263.7,809.2 264.0,806.1 264.3,807.6 264.6,804.8 264.9,808.1 265.2,804.9 265.5,807.2 265.8,804.6 266.1,806.1 266.4,803.0 266.7,805.1 267.0,802.8 267.3,805.0 267.4,803.2 267.9,820.7 268.5,838.6 269.0,856.8 269.5,875.3 270.0,893.8 270.6,912.4 271.1,930.9 271.6,949.2 272.2,967.3 272.7,985.0 273.2,1002.2 273.8,1018.9 274.3,1035.0 274.8,1050.4 275.3,1065.0 275.9,1078.7 276.4,1091.4 276.9,1103.2 277.5,1113.9 278.0,1123.4 278.5,1131.8 279.1,1139.0 279.6,1145.0 280.1,1149.6 280.6,1152.9 281.2,1154.9 281.7,1155.6 282.4,1153.4 283.1,1147.0 283.8,1136.4 284.5,1121.9 285.2,1103.9 285.9,1082.8 286.6,1059.2 287.3,1033.6 288.0,1006.7 288.8,979.1 289.5,951.5 290.2,924.6 290.9,899.0 291.6,875.4 292.3,854.3 293.0,836.3 293.7,821.8 294.4,811.2 295.1,804.8 295.8,802.6 296.5,805.0 297.2,812.0 298.0,823.5 298.7,839.1 299.4,858.4 300.1,881.0 300.9,906.1 301.6,933.1 302.3,961.3 303.0,989.9 303.8,1018.1 304.5,1045.1 305.2,1070.2 305.9,1092.8 306.7,1112.1 307.4,1127.7 308.1,1139.2 308.8,1146.2 309.6,1148.6 310.3,1146.2 311.0,1139.0 311.7,1127.1 312.4,1111.0 313.2,1091.1 313.9,1067.9 314.6,1042.0 315.3,1014.2 316.1,985.2 316.8,955.8 317.5,926.8 318.2,899.0 319.0,873.1 319.7,849.9 320.4,830.0 321.1,813.9 321.9,802.0 322.6,794.8 323.3,792.4 324.0,794.9 324.8,802.2 325.5,814.3 326.2,830.7 327.0,851.0 327.7,874.6 328.4,901.0 329.2,929.3 329.9,958.9 330.6,988.8 331.4,1018.4 332.1,1046.7 332.8,1073.1 333.6,1096.7 334.3,1117.0 335.0,1133.4 335.8,1145.5 336.5,1152.8 337.2,1155.3 338.0,1152.8 338.7,1145.5 339.5,1133.6 340.2,1117.3 340.9,1097.1 341.7,1073.6 342.4,1047.4 343.1,1019.2 343.9,989.8 344.6,960.0 345.3,930.6 346.1,902.4 346.8,876.2 347.5,852.7 348.3,832.5 349.0,816.2 349.7,804.3 350.5,797.0 351.2,794.5 351.9,796.9 352.6,804.2 353.3,816.0 354.0,832.1 354.8,852.0 355.5,875.3 356.2,901.1 356.9,929.0 357.6,958.0 358.3,987.5 359.0,1016.5 359.7,1044.4 360.4,1070.2 361.1,1093.5 361.9,1113.4 362.6,1129.5 363.3,1141.3 364.0,1148.6 364.7,1151.0 365.4,1148.6 366.1,1141.3 366.8,1129.4 367.5,1113.3 368.3,1093.3 369.0,1069.9 369.7,1044.0 370.4,1016.0 371.1,986.9 371.8,957.3 372.5,928.2 373.2,900.2 373.9,874.3 374.6,850.9 375.4,830.9 376.1,814.8 376.8,802.9 377.5,795.6 378.2,793.2 378.9,795.6 379.6,802.9 380.3,814.8 381.0,831.0 381.8,851.1 382.5,874.5 383.2,900.5 383.9,928.6 384.6,957.8 385.3,987.4 386.0,1016.6 386.7,1044.7 387.4,1070.7 388.1,1094.1 388.9,1114.2 389.6,1130.4 390.3,1142.3 391.0,1149.6 391.7,1152.0 392.4,1149.6 393.1,1142.4 393.8,1130.7 394.5,1114.7 395.3,1095.0 396.0,1071.9 396.7,1046.3 397.4,1018.7 398.1,989.9 398.8,960.7 399.5,931.9 400.2,904.3 400.9,878.7 401.6,855.6 402.4,835.9 403.1,819.9 403.8,808.2 404.5,801.0 405.2,798.6 405.9,801.6 406.7,810.5 407.4,825.0 408.2,844.6 408.9,868.6 409.6,896.3 410.4,926.6 411.1,958.5 411.8,991.1 412.6,1023.0 413.3,1053.3 414.1,1081.0 414.8,1105.0 415.5,1124.6 416.3,1139.1 417.0,1148.0 417.8,1151.0 418.5,1148.0 419.2,1139.2 420.0,1124.8 420.7,1105.4 421.4,1081.5 422.2,1054.1 422.9,1024.0 423.7,992.3 424.4,960.0 425.1,928.3 425.9,898.2 426.6,870.8 427.3,846.9 428.1,827.5 428.8,813.1 429.6,804.3 430.3,801.3 431.0,803.9 431.7,811.8 432.4,824.7 433.2,842.1 433.9,863.6 434.6,888.5 435.3,916.0 436.0,945.4 436.7,975.6 437.4,1005.9 438.2,1035.3 438.9,1062.8 439.6,1087.7 440.3,1109.2 441.0,1126.6 441.7,1139.5 442.4,1147.4 443.1,1150.0 443.9,1147.3 444.6,1139.4 445.3,1126.5 446.0,1109.0 446.7,1087.4 447.4,1062.3 448.1,1034.7 448.9,1005.1 449.6,974.7 450.3,944.3 451.0,914.7 451.7,887.0 452.4,862.0 453.1,840.4 453.9,822.9 454.6,810.0 455.3,802.1 456.0,799.4 456.7,801.8 457.4,808.9 458.1,820.5 458.8,836.4 459.5,856.0 460.2,878.8 460.9,904.3 461.6,931.7 462.3,960.2 463.1,989.2 463.8,1017.7 464.5,1045.1 465.2,1070.6 465.9,1093.4 466.6,1113.0 467.3,1128.9 468.0,1140.5 468.7,1147.6 469.4,1150.0 470.1,1147.6 470.8,1140.4 471.5,1128.5 472.2,1112.5 472.9,1092.5 473.6,1069.3 474.3,1043.5 475.0,1015.7 475.7,986.7 476.5,957.2 477.2,928.2 477.9,900.4 478.6,874.6 479.3,851.4 480.0,831.4 480.7,815.4 481.4,803.5 482.1,796.3 482.8,793.9 483.5,796.6 484.3,804.7 485.0,817.9 485.7,835.8 486.5,857.8 487.2,883.4 488.0,911.7 488.7,941.8 489.4,972.9 490.2,1004.0 490.9,1034.1 491.6,1062.4 492.4,1088.0 493.1,1110.0 493.8,1127.9 494.6,1141.1 495.3,1149.2 496.1,1151.9 496.8,1149.2 497.5,1141.3 498.3,1128.5 499.0,1111.0 499.7,1089.4 500.5,1064.4 501.2,1036.8 501.9,1007.3 502.7,976.9 503.4,946.5 504.1,917.0 504.9,889.4 505.6,864.4 506.4,842.8 507.1,825.3 507.8,812.5 508.6,804.6 509.3,801.9 510.0,804.6 510.7,812.5 511.4,825.3 512.2,842.8 512.9,864.4 513.6,889.4 514.3,917.0 515.0,946.5 515.7,976.9 516.4,1007.3 517.2,1036.8 517.9,1064.4 518.6,1089.4 519.3,1111.0 520.0,1128.5 520.7,1141.3 521.4,1149.2 522.1,1151.9 522.9,1149.2 523.6,1141.1 524.3,1127.9 525.0,1109.9 525.7,1087.8 526.4,1062.2 527.1,1033.9 527.9,1003.7 528.6,972.6 529.3,941.4 530.0,911.2 530.7,882.9 531.4,857.3 532.1,835.2 532.9,817.2 533.6,804.0 534.3,795.9 535.0,793.2 535.7,796.2 536.4,805.1 537.1,819.5 537.8,839.1 538.6,863.1 539.3,890.7 540.0,921.0 540.7,952.9 541.4,985.3 542.1,1017.2 542.8,1047.5 543.5,1075.1 544.3,1099.1 545.0,1118.7 545.7,1133.1 546.4,1142.0 547.1,1145.0 547.8,1142.0 548.5,1133.1 549.2,1118.5 549.9,1098.8 550.7,1074.7 551.4,1047.0 552.1,1016.5 552.8,984.5 553.5,951.8 554.2,919.8 554.9,889.3 555.6,861.6 556.4,837.5 557.1,817.8 557.8,803.2 558.5,794.3 559.2,791.3 559.9,794.3 560.7,803.2 561.4,817.7 562.1,837.3 562.8,861.4 563.6,889.0 564.3,919.4 565.0,951.4 565.8,983.9 566.5,1015.9 567.2,1046.3 568.0,1073.9 568.7,1098.0 569.4,1117.6 570.1,1132.1 570.9,1141.0 571.6,1144.0 572.3,1141.0 573.1,1132.1 573.8,1117.5 574.5,1097.9 575.2,1073.7 576.0,1046.0 576.7,1015.6 577.4,983.5 578.2,950.9 578.9,918.8 579.6,888.4 580.4,860.7 581.1,836.5 581.8,816.9 582.5,802.3 583.3,793.4 584.0,790.4 584.7,793.8 585.4,804.0 586.2,820.6 586.9,842.8 587.6,870.0 588.3,900.9 589.0,934.5 589.8,969.4 590.5,1004.3 591.2,1037.9 591.9,1068.8 592.6,1096.0 593.3,1118.2 594.1,1134.8 594.8,1145.0 595.5,1148.4 596.2,1144.2 597.0,1131.7 597.7,1111.7 598.4,1085.3 599.2,1054.1 599.9,1019.9 600.6,984.7 601.3,950.5 602.1,919.3 602.8,892.9 603.5,872.9 604.3,860.4 605.0,856.2 605.7,859.1 606.5,867.6 607.2,881.4 608.0,900.0 608.7,922.7 609.4,948.6 610.2,976.6 610.9,1005.8 611.6,1035.0 612.4,1063.0 613.1,1088.9 613.8,1111.6 614.6,1130.2 615.3,1144.0 616.1,1152.5 616.8,1155.4 617.5,1153.2 618.2,1146.7 618.9,1136.0 619.6,1121.4 620.3,1103.3 621.0,1082.1 621.7,1058.3 622.4,1032.5 623.1,1005.3 623.8,977.5 624.5,949.7 625.2,922.5 625.9,896.7 626.6,872.9 627.3,851.7 628.0,833.6 628.7,819.0 629.4,808.3 630.1,801.8 630.8,799.6 631.5,802.3 632.3,810.2 633.0,823.1 633.8,840.6 634.5,862.3 635.2,887.3 636.0,915.0 636.7,944.6 637.4,975.0 638.2,1005.5 638.9,1035.1 639.7,1062.8 640.4,1087.8 641.1,1109.5 641.9,1127.0 642.6,1139.9 643.4,1147.8 644.1,1150.5 644.8,1147.9 645.6,1140.0 646.3,1127.1 647.1,1109.7 647.8,1088.2 648.5,1063.3 649.3,1035.8 650.0,1006.5 650.8,976.2 651.5,945.9 652.2,916.6 653.0,889.0 653.7,864.2 654.4,842.7 655.2,825.3 655.9,812.4 656.7,804.5 657.4,801.9 658.1,804.6 658.9,812.5 659.6,825.3 660.4,842.8 661.1,864.4 661.8,889.4 662.6,917.0 663.3,946.5 664.0,976.9 664.8,1007.3 665.5,1036.8 666.3,1064.4 667.0,1089.4 667.7,1111.0 668.5,1128.5 669.2,1141.3 670.0,1149.2 670.7,1151.9 671.4,1149.2 672.2,1141.1 672.9,1128.0 673.7,1110.1 674.4,1088.1 675.1,1062.6 675.9,1034.3 676.6,1004.2 677.4,973.2 678.1,942.2 678.8,912.1 679.6,883.9 680.3,858.3 681.0,836.3 681.8,818.4 682.5,805.3 683.3,797.2 684.0,794.5 684.7,797.5 685.5,806.6 686.2,821.3 687.0,841.1 687.7,865.5 688.4,893.5 689.2,924.3 689.9,956.7 690.7,989.7 691.4,1022.1 692.2,1052.9 692.9,1080.9 693.6,1105.3 694.4,1125.1 695.1,1139.8 695.9,1148.9 696.6,1151.9 697.3,1148.8 698.1,1139.8 698.8,1125.0 699.6,1105.1 700.3,1080.6 701.0,1052.5 701.8,1021.6 702.5,989.1 703.3,956.0 704.0,923.5 704.8,892.6 705.5,864.5 706.2,840.0 707.0,820.1 707.7,805.3 708.5,796.3 709.2,793.2 709.9,795.6 710.6,802.8 711.3,814.6 712.0,830.6 712.7,850.4 713.4,873.5 714.1,899.2 714.8,926.9 715.5,955.8 716.3,985.1 717.0,1014.0 717.7,1041.7 718.4,1067.4 719.1,1090.5 719.8,1110.3 720.5,1126.3 721.2,1138.1 721.9,1145.3 722.6,1147.7 723.3,1145.3 724.0,1138.0 724.7,1126.1 725.4,1110.0 726.1,1089.9 726.8,1066.6 727.5,1040.6 728.2,1012.7 728.9,983.5 729.7,954.0 730.4,924.8 731.1,896.9 731.8,870.9 732.5,847.6 733.2,827.5 733.9,811.4 734.6,799.5 735.3,792.2 736.0,789.8 736.7,792.3 737.4,799.9 738.2,812.2 738.9,828.9 739.6,849.7 740.3,873.9 741.0,900.8 741.8,929.8 742.5,960.1 743.2,990.7 743.9,1021.0 744.7,1050.0 745.4,1076.9 746.1,1101.1 746.8,1121.9 747.5,1138.6 748.3,1150.9 749.0,1158.5 749.7,1161.0 750.4,1158.5 751.1,1151.2 751.9,1139.1 752.6,1122.7 753.3,1102.4 754.0,1078.7 754.7,1052.3 755.5,1024.0 756.2,994.4 756.9,964.4 757.6,934.8 758.4,906.5 759.1,880.1 759.8,856.4 760.5,836.1 761.2,819.7 762.0,807.6 762.7,800.3 763.4,797.8 764.1,800.5 764.9,808.5 765.6,821.6 766.3,839.4 767.1,861.3 767.8,886.7 768.6,914.8 769.3,944.8 770.0,975.6 770.8,1006.5 771.5,1036.5 772.2,1064.6 773.0,1090.0 773.7,1111.9 774.4,1129.7 775.2,1142.8 775.9,1150.8 776.6,1153.5 777.4,1150.7 778.1,1142.5 778.9,1129.1 779.6,1110.8 780.3,1088.4 781.1,1062.3 781.8,1033.5 782.5,1002.8 783.3,971.1 784.0,939.5 784.7,908.8 785.5,880.0 786.2,853.9 787.0,831.5 787.7,813.2 788.4,799.8 789.2,791.6 789.9,788.8 790.6,791.3 791.3,798.7 792.0,810.8 792.8,827.3 793.5,847.6 794.2,871.4 794.9,897.9 795.6,926.4 796.3,956.1 797.0,986.2 797.7,1015.9 798.5,1044.4 799.2,1070.9 799.9,1094.7 800.6,1115.0 801.3,1131.5 802.0,1143.6 802.7,1151.0 803.5,1153.5 804.2,1151.1 804.9,1144.0 805.6,1132.4 806.3,1116.6 807.0,1097.0 807.7,1074.1 808.4,1048.7 809.2,1021.3 809.9,992.8 810.6,963.9 811.3,935.4 812.0,908.0 812.7,882.6 813.4,859.7 814.1,840.1 814.9,824.3 815.6,812.7 816.3,805.6 817.0,803.2 817.7,805.9 818.5,813.9 819.2,826.9 819.9,844.6 820.6,866.4 821.4,891.6 822.1,919.6 822.8,949.4 823.5,980.1 824.3,1010.8 825.0,1040.6 825.7,1068.5 826.5,1093.8 827.2,1115.6 827.9,1133.3 828.6,1146.3 829.4,1154.3 830.1,1157.0 830.8,1154.3 831.6,1146.1 832.3,1132.9 833.0,1114.8 833.7,1092.6 834.5,1066.9 835.2,1038.4 835.9,1008.1 836.7,976.8 837.4,945.4 838.1,915.1 838.8,886.6 839.6,860.9 840.3,838.7 841.0,820.6 841.7,807.4 842.5,799.2 843.2,796.5 843.9,799.5 844.6,808.5 845.4,823.1 846.1,842.8 846.8,867.0 847.5,894.9 848.2,925.4 848.9,957.6 849.7,990.4 850.4,1022.6 851.1,1053.1 851.8,1081.0 852.5,1105.2 853.2,1124.9 854.0,1139.5 854.7,1148.5 855.4,1151.5 856.1,1148.5 856.8,1139.7 857.6,1125.4 858.3,1106.0 859.0,1082.3 859.7,1055.0 860.4,1025.0 861.1,993.4 861.9,961.3 862.6,929.7 863.3,899.7 864.0,872.4 864.7,848.7 865.4,829.3 866.2,815.0 866.9,806.2 867.6,803.2 868.3,806.2 869.1,815.0 869.8,829.4 870.5,848.9 871.3,872.8 872.0,900.3 872.7,930.4 873.5,962.2 874.2,994.5 874.9,1026.3 875.7,1056.4 876.4,1083.9 877.1,1107.8 877.9,1127.3 878.6,1141.7 879.3,1150.5 880.0,1153.5 880.8,1150.5 881.5,1141.4 882.2,1126.7 883.0,1106.8 883.7,1082.4 884.4,1054.3 885.2,1023.5 885.9,991.0 886.6,958.0 887.4,925.5 888.1,894.7 888.8,866.6 889.6,842.2 890.3,822.3 891.0,807.6 891.8,798.5 892.5,795.5 893.2,798.2 893.9,806.2 894.7,819.3 895.4,837.1 896.1,859.1 896.8,884.5 897.6,912.6 898.3,942.6 899.0,973.5 899.7,1004.4 900.4,1034.4 901.2,1062.5 901.9,1087.9 902.6,1109.9 903.3,1127.7 904.1,1140.8 904.8,1148.8 905.5,1151.5 906.2,1148.8 906.9,1140.6 907.7,1127.3 908.4,1109.3 909.1,1087.0 909.8,1061.2 910.6,1032.7 911.3,1002.3 912.0,971.0 912.7,939.7 913.4,909.3 914.2,880.8 914.9,855.0 915.6,832.7 916.3,814.7 917.1,801.4 917.8,793.2 918.5,790.5 919.2,793.2 919.9,801.3 920.6,814.4 921.3,832.3 922.1,854.4 922.8,879.9 923.5,908.1 924.2,938.2 924.9,969.2 925.6,1000.3 926.3,1030.4 927.0,1058.6 927.7,1084.1 928.5,1106.2 929.2,1124.1 929.9,1137.2 930.6,1145.3 931.3,1148.0 931.8,1146.9 932.3,1143.7 932.9,1138.4 933.4,1131.1 933.9,1121.8 934.4,1110.5 935.0,1097.4 935.5,1082.7 936.0,1066.3 936.5,1048.5 937.1,1029.5 937.6,1009.3 938.1,988.2 938.6,966.3 939.2,943.9 939.7,921.0 940.2,898.0 940.7,875.0 941.3,852.2 941.8,829.8 942.3,808.0 942.6,805.9 942.9,809.3 943.2,803.5 943.5,807.1 943.8,802.9 944.1,805.3 944.4,802.7 944.7,806.5 945.0,802.9 945.3,806.6 945.6,800.9 945.9,807.3 946.2,801.0 946.5,806.8 946.8,802.6 947.1,806.9 947.4,802.5 947.7,806.6 948.0,800.7 948.3,805.7 948.6,801.3 948.9,804.6 949.2,801.2 949.5,804.5 949.8,801.9 950.1,804.0 950.4,799.9 950.7,805.0 951.0,800.8 951.3,802.3 951.6,799.8 951.9,801.9 952.2,799.5 952.5,802.3 952.8,798.4 953.1,801.4 953.4,798.3 953.7,801.2 954.0,797.3 954.3,799.9 954.6,796.3 954.9,800.2 955.2,796.2 955.5,799.4 955.8,795.7 956.1,799.2 956.4,795.1 956.7,798.1 957.0,793.8 957.3,797.9 957.6,795.4 957.9,797.5 958.2,794.4 958.5,798.0 958.8,796.5 959.1,800.6 959.4,797.9 959.7,799.8 960.0,798.2 960.3,800.5 960.6,798.7 960.9,802.3 961.2,799.9 961.5,802.4 961.8,800.0 962.1,804.5 962.4,801.4 962.7,804.2 963.0,802.2 963.3,805.7 963.6,803.0 963.9,806.6 964.2,803.6 964.5,806.3 964.8,804.3 965.1,806.7 965.4,803.4 965.7,806.4 966.0,803.3 966.3,805.8 966.6,801.6 966.9,803.9 967.2,801.1 967.5,803.5 967.8,800.5 968.1,802.4 968.4,799.0 968.7,801.3 969.0,798.0 969.3,800.4 969.6,797.7 969.9,799.3 970.2,796.3 970.5,798.6 970.8,795.7 971.0,796.5 971.5,816.4 972.1,836.7 972.6,857.5 973.1,878.4 973.7,899.5 974.2,920.5 974.7,941.3 975.3,961.8 975.8,981.8 976.3,1001.3 976.9,1020.0 977.4,1037.9 977.9,1054.8 978.5,1070.6 979.0,1085.3 979.5,1098.7 980.1,1110.7 980.6,1121.3 981.1,1130.4 981.7,1137.9 982.2,1143.8 982.7,1148.1 983.3,1150.6 983.8,1151.5 984.5,1149.5 985.2,1143.6 985.9,1133.9 986.6,1120.7 987.3,1104.1 988.0,1084.7 988.7,1062.8 989.4,1038.8 990.1,1013.5 990.8,987.3 991.5,960.7 992.2,934.5 992.9,909.2 993.6,885.2 994.3,863.3 995.0,843.9 995.7,827.3 996.4,814.1 997.1,804.4 997.8,798.5 998.5,796.5 999.2,799.2 1000.0,807.2 1000.7,820.2 1001.4,837.9 1002.2,859.7 1002.9,885.0 1003.7,912.9 1004.4,942.7 1005.1,973.5 1005.9,1004.2 1006.6,1034.0 1007.3,1061.9 1008.1,1087.2 1008.8,1109.0 1009.5,1126.7 1010.3,1139.7 1011.0,1147.7 1011.8,1150.4 1012.5,1147.7 1013.2,1139.6 1014.0,1126.4 1014.7,1108.5 1015.4,1086.4 1016.2,1060.8 1016.9,1032.5 1017.6,1002.4 1018.4,971.3 1019.1,940.1 1019.8,910.0 1020.6,881.7 1021.3,856.1 1022.1,834.0 1022.8,816.1 1023.5,802.9 1024.3,794.8 1025.0,792.1 1025.7,794.5 1026.4,801.8 1027.1,813.7 1027.8,829.9 1028.6,849.9 1029.3,873.3 1030.0,899.3 1030.7,927.3 1031.4,956.5 1032.1,986.0 1032.8,1015.2 1033.5,1043.2 1034.2,1069.2 1034.9,1092.6 1035.7,1112.6 1036.4,1128.8 1037.1,1140.7 1037.8,1148.0 1038.5,1150.4 1039.2,1147.9 1039.9,1140.6 1040.6,1128.7 1041.3,1112.5 1042.1,1092.3 1042.8,1068.9 1043.5,1042.7 1044.2,1014.6 1044.9,985.3 1045.6,955.6 1046.3,926.3 1047.0,898.2 1047.7,872.0 1048.4,848.6 1049.2,828.4 1049.9,812.2 1050.6,800.3 1051.3,793.0 1052.0,790.5 1052.7,793.0 1053.4,800.3 1054.1,812.2 1054.8,828.4 1055.6,848.6 1056.3,872.0 1057.0,898.2 1057.7,926.3 1058.4,955.6 1059.1,985.3 1059.8,1014.6 1060.5,1042.7 1061.2,1068.9 1061.9,1092.3 1062.7,1112.5 1063.4,1128.7 1064.1,1140.6 1064.8,1147.9 1065.5,1150.4 1066.2,1147.9 1066.9,1140.6 1067.6,1128.6 1068.3,1112.3 1069.1,1092.1 1069.8,1068.5 1070.5,1042.2 1071.2,1014.0 1071.9,984.5 1072.6,954.7 1073.3,925.2 1074.0,897.0 1074.7,870.7 1075.4,847.1 1076.2,826.9 1076.9,810.6 1077.6,798.6 1078.3,791.3 1079.0,788.8 1079.7,791.3 1080.4,798.7 1081.1,810.7 1081.8,827.2 1082.5,847.5 1083.2,871.2 1083.9,897.7 1084.6,926.1 1085.3,955.7 1086.1,985.8 1086.8,1015.4 1087.5,1043.9 1088.2,1070.3 1088.9,1094.0 1089.6,1114.4 1090.3,1130.8 1091.0,1142.9 1091.7,1150.3 1092.4,1152.7 1093.1,1150.3 1093.8,1142.9 1094.5,1130.9 1095.2,1114.6 1095.9,1094.3 1096.6,1070.8 1097.3,1044.5 1098.0,1016.2 1098.7,986.7 1099.5,956.8 1100.2,927.3 1100.9,899.1 1101.6,872.8 1102.3,849.2 1103.0,829.0 1103.7,812.6 1104.4,800.6 1105.1,793.3 1105.8,790.8 1106.5,793.3 1107.2,800.6 1107.9,812.6 1108.6,828.9 1109.3,849.1 1110.0,872.6 1110.7,898.9 1111.4,927.1 1112.1,956.5 1112.8,986.3 1113.5,1015.7 1114.2,1043.9 1114.9,1070.2 1115.6,1093.7 1116.3,1113.9 1117.0,1130.2 1117.7,1142.2 1118.4,1149.5 1119.2,1152.0 1119.9,1149.6 1120.6,1142.4 1121.3,1130.7 1122.0,1114.7 1122.7,1094.9 1123.4,1071.8 1124.1,1046.1 1124.8,1018.4 1125.5,989.6 1126.2,960.3 1126.9,931.5 1127.6,903.8 1128.3,878.1 1129.0,855.0 1129.7,835.2 1130.4,819.2 1131.1,807.5 1131.8,800.3 1132.5,797.9 1133.2,800.6 1133.9,808.7 1134.6,821.8 1135.3,839.6 1136.0,861.6 1136.7,887.1 1137.4,915.3 1138.1,945.3 1138.8,976.3 1139.6,1007.3 1140.3,1037.3 1141.0,1065.5 1141.7,1090.9 1142.4,1112.9 1143.1,1130.8 1143.8,1143.9 1144.5,1152.0 1145.2,1154.7 1145.9,1151.9 1146.6,1143.7 1147.3,1130.3 1148.0,1112.1 1148.7,1089.7 1149.4,1063.7 1150.1,1035.0 1150.8,1004.3 1151.6,972.7 1152.3,941.1 1153.0,910.5 1153.7,881.8 1154.4,855.8 1155.1,833.4 1155.8,815.2 1156.5,801.8 1157.2,793.6 1157.9,790.8 1158.6,793.5 1159.4,801.7 1160.1,815.0 1160.8,833.1 1161.6,855.4 1162.3,881.2 1163.0,909.7 1163.7,940.1 1164.5,971.5 1165.2,1002.9 1165.9,1033.3 1166.7,1061.9 1167.4,1087.7 1168.1,1110.0 1168.9,1128.0 1169.6,1141.4 1170.3,1149.5 1171.1,1152.3 1171.8,1149.5 1172.5,1141.4 1173.2,1128.0 1174.0,1110.0 1174.7,1087.7 1175.4,1061.9 1176.2,1033.3 1176.9,1002.9 1177.6,971.5 1178.4,940.1 1179.1,909.7 1179.8,881.2 1180.5,855.4 1181.3,833.1 1182.0,815.0 1182.7,801.7 1183.5,793.5 1184.2,790.8 1184.9,793.3 1185.6,800.5 1186.4,812.5 1187.1,828.7 1187.8,848.8 1188.5,872.2 1189.3,898.4 1190.0,926.4 1190.7,955.7 1191.4,985.4 1192.2,1014.7 1192.9,1042.8 1193.6,1068.9 1194.3,1092.3 1195.1,1112.4 1195.8,1128.7 1196.5,1140.6 1197.2,1147.9 1198.0,1150.4 1198.7,1148.0 1199.4,1140.9 1200.1,1129.3 1200.8,1113.5 1201.6,1093.9 1202.3,1071.2 1203.0,1045.8 1203.7,1018.5 1204.5,990.0 1205.2,961.1 1205.9,932.7 1206.6,905.4 1207.4,880.0 1208.1,857.2 1208.8,837.7 1209.5,821.9 1210.3,810.3 1211.0,803.2 1211.7,800.8 1212.4,803.5 1213.2,811.4 1213.9,824.3 1214.6,841.8 1215.4,863.5 1216.1,888.5 1216.8,916.2 1217.5,945.7 1218.3,976.2 1219.0,1006.7 1219.7,1036.2 1220.5,1063.9 1221.2,1088.9 1221.9,1110.6 1222.7,1128.1 1223.4,1141.0 1224.1,1148.9 1224.8,1151.6 1225.6,1148.9 1226.3,1141.0 1227.0,1128.0 1227.8,1110.5 1228.5,1088.8 1229.2,1063.7 1230.0,1035.9 1230.7,1006.3 1231.4,975.8 1232.2,945.3 1232.9,915.7 1233.6,887.9 1234.3,862.8 1235.1,841.1 1235.8,823.6 1236.5,810.6 1237.3,802.7 1238.0,800.0 1238.7,802.6 1239.4,810.5 1240.2,823.3 1240.9,840.7 1241.6,862.2 1242.3,887.0 1243.0,914.5 1243.7,943.8 1244.5,974.1 1245.2,1004.3 1245.9,1033.6 1246.6,1061.1 1247.3,1086.0 1248.0,1107.4 1248.8,1124.8 1249.5,1137.6 1250.2,1145.5 1250.9,1148.1 1251.6,1145.4 1252.3,1137.4 1253.1,1124.4 1253.8,1106.7 1254.5,1084.8 1255.2,1059.5 1255.9,1031.6 1256.6,1001.7 1257.3,971.0 1258.1,940.2 1258.8,910.4 1259.5,882.4 1260.2,857.1 1260.9,835.2 1261.6,817.5 1262.4,804.5 1263.1,796.5 1263.8,793.8 1264.5,796.9 1265.3,805.9 1266.0,820.7 1266.8,840.7 1267.5,865.2 1268.2,893.4 1269.0,924.3 1269.7,956.9 1270.5,990.0 1271.2,1022.6 1272.0,1053.5 1272.7,1081.7 1273.4,1106.2 1274.2,1126.2 1274.9,1140.9 1275.7,1150.0 1276.4,1153.1 1277.1,1150.0 1277.9,1140.9 1278.6,1126.2 1279.4,1106.2 1280.1,1081.7 1280.8,1053.5 1281.6,1022.6 1282.3,990.0 1283.1,956.9 1283.8,924.3 1284.6,893.4 1285.3,865.2 1286.0,840.7 1286.8,820.7 1287.5,805.9 1288.3,796.9 1289.0,793.8 1289.7,797.7 1290.5,809.2 1291.2,827.8 1291.9,852.7 1292.7,882.8 1293.4,916.9 1294.1,953.3 1294.9,990.5 1295.6,1026.9 1296.3,1060.9 1297.1,1091.1 1297.8,1116.0 1298.5,1134.6 1299.3,1146.1 1300.0,1150.0 1300.7,1146.8 1301.5,1137.3 1302.2,1121.9 1302.9,1101.4 1303.7,1076.5 1304.4,1048.4 1305.1,1018.4 1305.9,987.6 1306.6,957.6 1307.3,929.5 1308.1,904.6 1308.8,884.1 1309.5,868.7 1310.3,859.2 1311.0,856.0 1311.7,859.2 1312.5,868.8 1313.2,884.3 1313.9,905.0 1314.7,930.0 1315.4,958.3 1316.1,988.5 1316.9,1019.5 1317.6,1049.7 1318.3,1078.0 1319.1,1103.0 1319.8,1123.7 1320.5,1139.2 1321.3,1148.8 1322.0,1152.0 1322.8,1148.1 1323.5,1136.5 1324.3,1117.8 1325.0,1092.7 1325.8,1062.5 1326.5,1028.2 1327.3,991.6 1328.0,954.2 1328.8,917.6 1329.5,883.4 1330.3,853.1 1331.0,828.0 1331.8,809.3 1332.5,797.7 1333.3,793.8 1334.0,796.2 1334.8,803.5 1335.5,815.4 1336.2,831.7 1336.9,851.7 1337.7,875.1 1338.4,901.2 1339.1,929.3 1339.9,958.5 1340.6,988.2 1341.3,1017.4 1342.0,1045.4 1342.8,1071.5 1343.5,1094.9 1344.2,1115.0 1345.0,1131.2 1345.7,1143.1 1346.4,1150.4 1347.2,1152.9 1347.9,1150.4 1348.6,1143.2 1349.3,1131.4 1350.1,1115.3 1350.8,1095.4 1351.5,1072.2 1352.3,1046.3 1353.0,1018.5 1353.7,989.5 1354.4,960.1 1355.2,931.1 1355.9,903.2 1356.6,877.4 1357.4,854.2 1358.1,834.2 1358.8,818.2 1359.5,806.3 1360.3,799.1 1361.0,796.7 1361.7,799.1 1362.5,806.3 1363.2,818.0 1363.9,834.0 1364.7,853.9 1365.4,876.9 1366.1,902.7 1366.9,930.3 1367.6,959.2 1368.3,988.5 1369.0,1017.3 1369.8,1045.0 1370.5,1070.7 1371.2,1093.8 1372.0,1113.6 1372.7,1129.6 1373.4,1141.4 1374.2,1148.5 1374.9,1150.9 1375.6,1148.5 1376.4,1141.3 1377.1,1129.4 1377.8,1113.3 1378.6,1093.3 1379.3,1070.0 1380.0,1044.1 1380.8,1016.2 1381.5,987.1 1382.2,957.6 1382.9,928.5 1383.7,900.6 1384.4,874.7 1385.1,851.4 1385.9,831.5 1386.6,815.3 1387.3,803.5 1388.1,796.2 1388.8,793.8 1389.5,796.3 1390.3,803.6 1391.0,815.5 1391.7,831.8 1392.5,851.9 1393.2,875.4 1393.9,901.5 1394.7,929.7 1395.4,959.0 1396.1,988.8 1396.9,1018.1 1397.6,1046.2 1398.3,1072.4 1399.1,1095.8 1399.8,1116.0 1400.5,1132.3 1401.3,1144.2 1402.0,1151.5 1402.8,1154.0 1403.5,1151.5 1404.2,1144.1 1405.0,1132.0 1405.7,1115.5 1406.4,1095.0 1407.2,1071.2 1407.9,1044.7 1408.6,1016.2 1409.4,986.5 1410.1,956.3 1410.8,926.6 1411.6,898.0 1412.3,871.5 1413.0,847.7 1413.8,827.3 1414.5,810.8 1415.2,798.7 1416.0,791.3 1416.7,788.8 1417.4,791.6 1418.2,799.8 1418.9,813.2 1419.6,831.4 1420.4,853.9 1421.1,879.9 1421.8,908.7 1422.5,939.4 1423.3,971.0 1424.0,1002.7 1424.7,1033.4 1425.5,1062.2 1426.2,1088.2 1426.9,1110.7 1427.7,1128.9 1428.4,1142.3 1429.1,1150.5 1429.8,1153.3 1430.6,1150.6 1431.3,1142.4 1432.0,1129.2 1432.8,1111.2 1433.5,1089.1 1434.2,1063.4 1435.0,1035.0 1435.7,1004.8 1436.4,973.5 1437.2,942.3 1437.9,912.1 1438.6,883.7 1439.3,858.0 1440.1,835.9 1440.8,817.9 1441.5,804.6 1442.3,796.5 1443.0,793.8 1443.7,796.2 1444.4,803.5 1445.1,815.3 1445.8,831.4 1446.6,851.3 1447.3,874.6 1448.0,900.5 1448.7,928.3 1449.4,957.4 1450.1,986.8 1450.8,1015.8 1451.5,1043.7 1452.2,1069.6 1452.9,1092.8 1453.7,1112.8 1454.4,1128.9 1455.1,1140.7 1455.8,1147.9 1456.5,1150.4 1457.2,1147.9 1457.9,1140.8 1458.6,1129.0 1459.3,1113.0 1460.1,1093.1 1460.8,1070.0 1461.5,1044.3 1462.2,1016.6 1462.9,987.7 1463.6,958.4 1464.3,929.6 1465.0,901.9 1465.7,876.1 1466.4,853.0 1467.2,833.2 1467.9,817.2 1468.6,805.4 1469.3,798.2 1470.0,795.8 1470.7,798.5 1471.4,806.4 1472.2,819.4 1472.9,837.1 1473.6,858.8 1474.3,884.0 1475.1,911.8 1475.8,941.5 1476.5,972.2 1477.2,1002.8 1477.9,1032.5 1478.7,1060.4 1479.4,1085.5 1480.1,1107.3 1480.8,1124.9 1481.6,1137.9 1482.3,1145.9 1483.0,1148.5 1483.7,1145.9 1484.4,1137.9 1485.2,1125.0 1485.9,1107.4 1486.6,1085.7 1487.3,1060.6 1488.1,1032.8 1488.8,1003.2 1489.5,972.6 1490.2,942.1 1490.9,912.5 1491.7,884.7 1492.4,859.5 1493.1,837.9 1493.8,820.3 1494.6,807.3 1495.3,799.4 1496.0,796.7 1496.7,799.4 1497.5,807.3 1498.2,820.3 1498.9,837.9 1499.7,859.6 1500.4,884.8 1501.2,912.6 1501.9,942.2 1502.6,972.8 1503.4,1003.4 1504.1,1033.0 1504.8,1060.9 1505.6,1086.0 1506.3,1107.7 1507.0,1125.3 1507.8,1138.3 1508.5,1146.3 1509.2,1148.9 1510.0,1146.2 1510.7,1138.2 1511.5,1125.1 1512.2,1107.4 1512.9,1085.5 1513.7,1060.1 1514.4,1032.1 1515.1,1002.2 1515.9,971.4 1516.6,940.5 1517.3,910.6 1518.1,882.6 1518.8,857.2 1519.6,835.3 1520.3,817.6 1521.0,804.5 1521.8,796.5 1522.5,793.8 1523.2,796.5 1523.9,804.5 1524.6,817.6 1525.3,835.4 1526.0,857.3 1526.8,882.7 1527.5,910.8 1528.2,940.7 1528.9,971.5 1529.6,1002.4 1530.3,1032.3 1531.0,1060.4 1531.7,1085.8 1532.4,1107.7 1533.1,1125.5 1533.8,1138.6 1534.5,1146.6 1535.2,1149.3 1536.0,1146.6 1536.7,1138.6 1537.4,1125.5 1538.1,1107.7 1538.8,1085.8 1539.5,1060.4 1540.2,1032.3 1540.9,1002.4 1541.6,971.5 1542.3,940.7 1543.0,910.8 1543.8,882.7 1544.5,857.3 1545.2,835.4 1545.9,817.6 1546.6,804.5 1547.3,796.5 1548.0,793.8 1548.7,796.8 1549.5,805.8 1550.2,820.5 1551.0,840.3 1551.7,864.6 1552.5,892.5 1553.2,923.2 1554.0,955.5 1554.7,988.4 1555.4,1020.7 1556.2,1051.4 1556.9,1079.3 1557.7,1103.6 1558.4,1123.4 1559.2,1138.1 1559.9,1147.1 1560.7,1150.1 1561.4,1147.2 1562.1,1138.4 1562.9,1124.1 1563.6,1104.7 1564.4,1081.0 1565.1,1053.7 1565.9,1023.7 1566.6,992.1 1567.3,960.0 1568.1,928.4 1568.8,898.5 1569.6,871.2 1570.3,847.4 1571.1,828.1 1571.8,813.8 1572.6,805.0 1573.3,802.0 1574.0,804.7 1574.7,812.5 1575.4,825.4 1576.2,842.8 1576.9,864.4 1577.6,889.3 1578.3,916.9 1579.0,946.3 1579.7,976.6 1580.4,1006.9 1581.2,1036.3 1581.9,1063.8 1582.6,1088.8 1583.3,1110.3 1584.0,1127.7 1584.7,1140.6 1585.4,1148.5 1586.2,1151.1 1586.9,1148.4 1587.6,1140.3 1588.3,1127.1 1589.0,1109.1 1589.7,1086.9 1590.4,1061.3 1591.1,1032.9 1591.9,1002.6 1592.6,971.4 1593.3,940.2 1594.0,909.9 1594.7,881.6 1595.4,855.9 1596.1,833.7 1596.9,815.8 1597.6,802.5 1598.3,794.4 1599.0,791.7 1599.7,794.5 1600.5,802.6 1601.2,816.0 1601.9,834.1 1602.7,856.5 1603.4,882.4 1604.1,911.1 1604.9,941.6 1605.6,973.1 1606.3,1004.6 1607.1,1035.1 1607.8,1063.8 1608.5,1089.7 1609.3,1112.1 1610.0,1130.2 1610.7,1143.6 1611.5,1151.7 1612.2,1154.5 1612.9,1151.8 1613.7,1143.8 1614.4,1130.7 1615.1,1112.9 1615.9,1091.0 1616.6,1065.6 1617.3,1037.5 1618.1,1007.5 1618.8,976.6 1619.5,945.7 1620.3,915.8 1621.0,887.7 1621.7,862.3 1622.5,840.4 1623.2,822.6 1623.9,809.5 1624.7,801.5 1625.4,798.8 1626.1,801.7 1626.8,810.6 1627.5,825.1 1628.2,844.6 1629.0,868.5 1629.7,896.1 1630.4,926.3 1631.1,958.2 1631.8,990.6 1632.5,1022.4 1633.2,1052.7 1633.9,1080.2 1634.7,1104.2 1635.4,1123.7 1636.1,1138.1 1636.8,1147.0 1637.5,1150.0 1638.0,1148.2 1638.6,1143.0 1639.2,1134.3 1639.7,1122.3 1640.2,1107.2 1640.8,1089.2 1641.3,1068.6 1641.9,1045.7 1642.5,1020.7 1643.0,994.2 1643.5,966.4 1644.1,937.9 1644.6,908.9 1645.2,880.0 1645.8,851.6 1646.3,824.0 1646.6,821.0 1646.9,822.7 1647.2,815.8 1647.5,820.0 1647.8,814.1 1648.1,818.5 1648.4,813.3 1648.7,817.8 1649.0,810.8 1649.3,815.3 1649.6,811.3 1649.9,813.7 1650.2,808.8 1650.5,812.7 1650.8,810.0 1651.1,813.5 1651.4,807.6 1651.7,811.9 1652.0,806.5 1652.3,809.6 1652.6,807.3 1652.9,809.9 1653.2,806.5 1653.5,809.2 1653.8,804.1 1654.1,808.8 1654.4,803.7 1654.7,806.7 1655.0,804.0 1655.3,807.9 1655.6,803.5 1655.9,806.3 1656.2,803.0 1656.5,806.5 1656.8,802.0 1657.1,804.7 1657.4,800.5 1657.7,804.7 1658.0,798.9 1658.3,804.1 1658.6,799.7 1658.9,801.9 1659.2,798.2 1659.5,803.2 1659.8,799.1 1660.1,802.2 1660.4,798.3 1660.7,801.1 1661.0,797.3 1661.3,801.3 1661.6,796.0 1661.9,801.0 1662.2,796.9 1662.5,800.7 1662.8,796.4 1663.1,799.7 1663.4,796.2 1663.7,799.4 1664.0,796.2 1664.3,799.0 1664.6,796.7 1664.9,799.5 1665.2,796.5 1665.5,800.5 1665.8,795.5 1666.1,799.6 1666.4,796.1 1666.7,800.7 1667.0,796.7 1667.3,800.2 1667.6,796.9 1667.9,800.7 1668.2,796.0 1668.5,799.9 1668.8,796.3 1669.1,801.2 1669.4,797.1 1669.7,801.5 1670.0,797.2 1670.3,801.2 1670.6,797.7 1670.9,801.2 1671.2,798.4 1671.5,802.3 1671.8,799.2 1672.1,801.2 1672.4,798.3 1672.7,802.9 1673.0,798.6 1673.3,802.0 1673.6,798.9 1673.9,801.8 1674.2,799.2 1674.5,803.2 1674.8,799.8 1675.1,803.4 1675.4,801.0 1675.7,804.4 1676.0,801.1 1676.2,803.0 1676.7,819.1 1677.3,835.6 1677.8,852.4 1678.3,869.3 1678.8,886.4 1679.4,903.5 1679.9,920.6 1680.4,937.6 1680.9,954.4 1681.5,971.0 1682.0,987.2 1682.5,1003.0 1683.1,1018.3 1683.6,1033.1 1684.1,1047.3 1684.6,1060.8 1685.2,1073.5 1685.7,1085.5 1686.2,1096.6 1686.8,1106.8 1687.3,1116.1 1687.8,1124.3 1688.3,1131.6 1688.9,1137.8 1689.4,1142.8 1689.9,1146.8 1690.4,1149.7 1691.0,1151.4 1691.5,1152.0 1692.2,1149.6 1692.9,1142.4 1693.6,1130.7 1694.3,1114.8 1695.1,1095.0 1695.8,1072.0 1696.5,1046.3 1697.2,1018.7 1697.9,990.0 1698.6,960.8 1699.3,932.0 1700.0,904.4 1700.7,878.8 1701.4,855.8 1702.2,836.0 1702.9,820.0 1703.6,808.3 1704.3,801.2 1705.0,798.8 1705.7,800.9 1706.4,807.3 1707.1,817.9 1707.8,832.3 1708.5,850.2 1709.2,871.1 1709.9,894.6 1710.6,920.1 1711.3,946.9 1712.0,974.3 1712.7,1001.8 1713.4,1028.6 1714.1,1054.1 1714.8,1077.6 1715.5,1098.5 1716.2,1116.4 1716.9,1130.8 1717.6,1141.4 1718.3,1147.8 1719.0,1149.9 1719.7,1147.8 1720.4,1141.3 1721.1,1130.6 1721.8,1116.1 1722.5,1098.1 1723.2,1077.0 1723.9,1053.3 1724.6,1027.6 1725.3,1000.6 1726.0,972.9 1726.7,945.2 1727.4,918.2 1728.1,892.5 1728.8,868.8 1729.5,847.7 1730.2,829.6 1730.9,815.1 1731.6,804.5 1732.3,798.0 1733.0,795.8 1733.7,798.2 1734.4,805.5 1735.1,817.4 1735.8,833.6 1736.6,853.6 1737.3,877.0 1738.0,903.0 1738.7,931.0 1739.4,960.2 1740.1,989.8 1740.8,1019.0 1741.5,1047.0 1742.2,1073.1 1742.9,1096.4 1743.7,1116.5 1744.4,1132.7 1745.1,1144.6 1745.8,1151.8 1746.5,1154.3 1747.2,1151.8 1747.9,1144.6 1748.6,1132.7 1749.3,1116.5 1750.1,1096.4 1750.8,1073.1 1751.5,1047.0 1752.2,1019.0 1752.9,989.8 1753.6,960.2 1754.3,931.0 1755.0,903.0 1755.7,877.0 1756.4,853.6 1757.2,833.6 1757.9,817.4 1758.6,805.5 1759.3,798.2 1760.0,795.8 1760.7,798.5 1761.5,806.6 1762.2,819.9 1762.9,837.9 1763.6,860.0 1764.4,885.7 1765.1,914.1 1765.8,944.4 1766.5,975.6 1767.3,1006.8 1768.0,1037.1 1768.7,1065.5 1769.5,1091.2 1770.2,1113.3 1770.9,1131.3 1771.6,1144.6 1772.4,1152.7 1773.1,1155.4 1774.0,1149.6 1774.9,1132.9 1775.7,1107.3 1776.6,1075.7 1777.5,1042.0" fill="none" stroke="#0000ff" stroke-width="1.15" stroke-linejoin="round"/>
<polyline points="238.8,851.2 239.1,853.4 239.4,845.7 239.7,847.9 240.0,844.3 240.3,846.4 240.6,842.9 240.9,844.7 241.2,841.1 241.5,843.7 241.8,839.1 242.1,842.6 242.4,838.0 242.7,840.1 243.0,836.8 243.3,840.9 243.6,836.0 243.9,839.1 244.2,833.9 244.5,838.0 244.8,832.5 245.1,838.1 245.4,832.8 245.7,836.5 246.0,831.9 246.3,834.0 246.6,830.6 246.9,834.2 247.2,828.3 247.5,831.8 247.8,827.7 248.1,831.5 248.4,827.8 248.7,831.3 249.0,825.3 249.3,828.1 249.6,823.5 249.9,826.8 250.2,824.3 250.5,826.2 250.8,821.3 251.1,824.6 251.4,820.5 251.7,824.9 252.0,821.5 252.3,823.9 252.6,819.6 252.9,822.8 253.2,818.0 253.5,822.1 253.8,816.6 254.1,820.1 254.4,816.1 254.7,819.8 255.0,815.4 255.3,819.8 255.6,814.2 255.9,817.8 256.2,814.6 256.5,818.3 256.8,812.8 257.1,816.5 257.4,812.2 257.7,815.9 258.0,812.8 258.3,815.9 258.6,811.8 258.9,814.5 259.2,811.3 259.5,813.9 259.8,811.2 260.1,812.6 260.4,809.4 260.7,812.7 261.0,808.9 261.3,812.4 261.6,809.1 261.9,810.9 262.2,808.3 262.5,810.2 262.8,806.8 263.1,809.5 263.4,806.7 263.7,809.2 264.0,806.1 264.3,807.6 264.6,804.8 264.9,808.1 265.2,804.9 265.5,807.2 265.8,804.6 266.1,806.1 266.4,803.0 266.7,805.1 267.0,802.8 267.3,805.0 267.4,803.2" fill="none" stroke="#0000ff" stroke-width="1.3" stroke-linejoin="round"/>
<polyline points="942.6,805.9 942.9,809.3 943.2,803.5 943.5,807.1 943.8,802.9 944.1,805.3 944.4,802.7 944.7,806.5 945.0,802.9 945.3,806.6 945.6,800.9 945.9,807.3 946.2,801.0 946.5,806.8 946.8,802.6 947.1,806.9 947.4,802.5 947.7,806.6 948.0,800.7 948.3,805.7 948.6,801.3 948.9,804.6 949.2,801.2 949.5,804.5 949.8,801.9 950.1,804.0 950.4,799.9 950.7,805.0 951.0,800.8 951.3,802.3 951.6,799.8 951.9,801.9 952.2,799.5 952.5,802.3 952.8,798.4 953.1,801.4 953.4,798.3 953.7,801.2 954.0,797.3 954.3,799.9 954.6,796.3 954.9,800.2 955.2,796.2 955.5,799.4 955.8,795.7 956.1,799.2 956.4,795.1 956.7,798.1 957.0,793.8 957.3,797.9 957.6,795.4 957.9,797.5 958.2,794.4 958.5,798.0 958.8,796.5 959.1,800.6 959.4,797.9 959.7,799.8 960.0,798.2 960.3,800.5 960.6,798.7 960.9,802.3 961.2,799.9 961.5,802.4 961.8,800.0 962.1,804.5 962.4,801.4 962.7,804.2 963.0,802.2 963.3,805.7 963.6,803.0 963.9,806.6 964.2,803.6 964.5,806.3 964.8,804.3 965.1,806.7 965.4,803.4 965.7,806.4 966.0,803.3 966.3,805.8 966.6,801.6 966.9,803.9 967.2,801.1 967.5,803.5 967.8,800.5 968.1,802.4 968.4,799.0 968.7,801.3 969.0,798.0 969.3,800.4 969.6,797.7 969.9,799.3 970.2,796.3 970.5,798.6 970.8,795.7 971.0,796.5" fill="none" stroke="#0000ff" stroke-width="1.3" stroke-linejoin="round"/>
<polyline points="1646.6,821.0 1646.9,822.7 1647.2,815.8 1647.5,820.0 1647.8,814.1 1648.1,818.5 1648.4,813.3 1648.7,817.8 1649.0,810.8 1649.3,815.3 1649.6,811.3 1649.9,813.7 1650.2,808.8 1650.5,812.7 1650.8,810.0 1651.1,813.5 1651.4,807.6 1651.7,811.9 1652.0,806.5 1652.3,809.6 1652.6,807.3 1652.9,809.9 1653.2,806.5 1653.5,809.2 1653.8,804.1 1654.1,808.8 1654.4,803.7 1654.7,806.7 1655.0,804.0 1655.3,807.9 1655.6,803.5 1655.9,806.3 1656.2,803.0 1656.5,806.5 1656.8,802.0 1657.1,804.7 1657.4,800.5 1657.7,804.7 1658.0,798.9 1658.3,804.1 1658.6,799.7 1658.9,801.9 1659.2,798.2 1659.5,803.2 1659.8,799.1 1660.1,802.2 1660.4,798.3 1660.7,801.1 1661.0,797.3 1661.3,801.3 1661.6,796.0 1661.9,801.0 1662.2,796.9 1662.5,800.7 1662.8,796.4 1663.1,799.7 1663.4,796.2 1663.7,799.4 1664.0,796.2 1664.3,799.0 1664.6,796.7 1664.9,799.5 1665.2,796.5 1665.5,800.5 1665.8,795.5 1666.1,799.6 1666.4,796.1 1666.7,800.7 1667.0,796.7 1667.3,800.2 1667.6,796.9 1667.9,800.7 1668.2,796.0 1668.5,799.9 1668.8,796.3 1669.1,801.2 1669.4,797.1 1669.7,801.5 1670.0,797.2 1670.3,801.2 1670.6,797.7 1670.9,801.2 1671.2,798.4 1671.5,802.3 1671.8,799.2 1672.1,801.2 1672.4,798.3 1672.7,802.9 1673.0,798.6 1673.3,802.0 1673.6,798.9 1673.9,801.8 1674.2,799.2 1674.5,803.2 1674.8,799.8 1675.1,803.4 1675.4,801.0 1675.7,804.4 1676.0,801.1 1676.2,803.0" fill="none" stroke="#0000ff" stroke-width="1.3" stroke-linejoin="round"/>
<rect x="135.5" y="742.5" width="1642" height="846" fill="none" stroke="#222" stroke-width="1.1"/>
<line x1="192.3" y1="741.9" x2="192.3" y2="757.9" stroke="#222" stroke-width="1.3"/>
<line x1="192.3" y1="1588.5" x2="192.3" y2="1572.0" stroke="#222" stroke-width="1.3"/>
<line x1="350.6" y1="741.9" x2="350.6" y2="757.9" stroke="#222" stroke-width="1.3"/>
<line x1="350.6" y1="1588.5" x2="350.6" y2="1572.0" stroke="#222" stroke-width="1.3"/>
<line x1="508.9" y1="741.9" x2="508.9" y2="757.9" stroke="#222" stroke-width="1.3"/>
<line x1="508.9" y1="1588.5" x2="508.9" y2="1572.0" stroke="#222" stroke-width="1.3"/>
<line x1="667.2" y1="741.9" x2="667.2" y2="757.9" stroke="#222" stroke-width="1.3"/>
<line x1="667.2" y1="1588.5" x2="667.2" y2="1572.0" stroke="#222" stroke-width="1.3"/>
<line x1="825.5" y1="741.9" x2="825.5" y2="757.9" stroke="#222" stroke-width="1.3"/>
<line x1="825.5" y1="1588.5" x2="825.5" y2="1572.0" stroke="#222" stroke-width="1.3"/>
<line x1="983.8" y1="741.9" x2="983.8" y2="757.9" stroke="#222" stroke-width="1.3"/>
<line x1="983.8" y1="1588.5" x2="983.8" y2="1572.0" stroke="#222" stroke-width="1.3"/>
<line x1="1142.1" y1="741.9" x2="1142.1" y2="757.9" stroke="#222" stroke-width="1.3"/>
<line x1="1142.1" y1="1588.5" x2="1142.1" y2="1572.0" stroke="#222" stroke-width="1.3"/>
<line x1="1300.4" y1="741.9" x2="1300.4" y2="757.9" stroke="#222" stroke-width="1.3"/>
<line x1="1300.4" y1="1588.5" x2="1300.4" y2="1572.0" stroke="#222" stroke-width="1.3"/>
<line x1="1458.7" y1="741.9" x2="1458.7" y2="757.9" stroke="#222" stroke-width="1.3"/>
<line x1="1458.7" y1="1588.5" x2="1458.7" y2="1572.0" stroke="#222" stroke-width="1.3"/>
<line x1="1617.0" y1="741.9" x2="1617.0" y2="757.9" stroke="#222" stroke-width="1.3"/>
<line x1="1617.0" y1="1588.5" x2="1617.0" y2="1572.0" stroke="#222" stroke-width="1.3"/>
<line x1="1775.3" y1="741.9" x2="1775.3" y2="757.9" stroke="#222" stroke-width="1.3"/>
<line x1="1775.3" y1="1588.5" x2="1775.3" y2="1572.0" stroke="#222" stroke-width="1.3"/>
<line x1="135.3" y1="848.0" x2="151.8" y2="848.0" stroke="#222" stroke-width="1.3"/>
<line x1="1777.5" y1="848.0" x2="1761.0" y2="848.0" stroke="#222" stroke-width="1.3"/>
<line x1="135.3" y1="953.9" x2="151.8" y2="953.9" stroke="#222" stroke-width="1.3"/>
<line x1="1777.5" y1="953.9" x2="1761.0" y2="953.9" stroke="#222" stroke-width="1.3"/>
<line x1="135.3" y1="1059.1" x2="151.8" y2="1059.1" stroke="#222" stroke-width="1.3"/>
<line x1="1777.5" y1="1059.1" x2="1761.0" y2="1059.1" stroke="#222" stroke-width="1.3"/>
<line x1="135.3" y1="1165.3" x2="151.8" y2="1165.3" stroke="#222" stroke-width="1.3"/>
<line x1="1777.5" y1="1165.3" x2="1761.0" y2="1165.3" stroke="#222" stroke-width="1.3"/>
<line x1="135.3" y1="1271.1" x2="151.8" y2="1271.1" stroke="#222" stroke-width="1.3"/>
<line x1="1777.5" y1="1271.1" x2="1761.0" y2="1271.1" stroke="#222" stroke-width="1.3"/>
<line x1="135.3" y1="1376.6" x2="151.8" y2="1376.6" stroke="#222" stroke-width="1.3"/>
<line x1="1777.5" y1="1376.6" x2="1761.0" y2="1376.6" stroke="#222" stroke-width="1.3"/>
<line x1="135.3" y1="1482.5" x2="151.8" y2="1482.5" stroke="#222" stroke-width="1.3"/>
<line x1="1777.5" y1="1482.5" x2="1761.0" y2="1482.5" stroke="#222" stroke-width="1.3"/>
<text x="108.5" y="850.0" style="font-family:'Liberation Serif',serif;font-size:30px;font-weight:normal;font-style:normal" fill="#111" text-anchor="end">0.1</text>
<text x="110.5" y="952.6" style="font-family:'Liberation Serif',serif;font-size:30px;font-weight:normal;font-style:normal" fill="#111" text-anchor="end">0</text>
<text x="109.4" y="1065.9" style="font-family:'Liberation Serif',serif;font-size:30px;font-weight:normal;font-style:normal" fill="#111" text-anchor="end">-0.1</text>
<text x="109.4" y="1166.9" style="font-family:'Liberation Serif',serif;font-size:30px;font-weight:normal;font-style:normal" fill="#111" text-anchor="end">-0.2</text>
<text x="107.5" y="1276.1" style="font-family:'Liberation Serif',serif;font-size:30px;font-weight:normal;font-style:normal" fill="#111" text-anchor="end">5000</text>
<text x="109.0" y="1384.0" style="font-family:'Liberation Serif',serif;font-size:30px;font-weight:normal;font-style:normal" fill="#111" text-anchor="end">3000</text>
<text x="109.0" y="1482.8" style="font-family:'Liberation Serif',serif;font-size:30px;font-weight:normal;font-style:normal" fill="#111" text-anchor="end">1000</text>
<text x="110.0" y="1540.8" style="font-family:'Liberation Serif',serif;font-size:30px;font-weight:normal;font-style:normal" fill="#111" text-anchor="end">0</text>
<text x="113.2" y="1591.7" style="font-family:'Liberation Serif',serif;font-size:30px;font-weight:normal;font-style:normal" fill="#111" text-anchor="end">-1000</text>
<text x="193.6" y="1632.0" style="font-family:'Liberation Serif',serif;font-size:30px;font-weight:normal;font-style:normal" fill="#111" text-anchor="middle">3</text>
<text x="353.4" y="1632.0" style="font-family:'Liberation Serif',serif;font-size:30px;font-weight:normal;font-style:normal" fill="#111" text-anchor="middle">3.5</text>
<text x="510.9" y="1632.0" style="font-family:'Liberation Serif',serif;font-size:30px;font-weight:normal;font-style:normal" fill="#111" text-anchor="middle">4</text>
<text x="662.0" y="1635.3" style="font-family:'Liberation Serif',serif;font-size:30px;font-weight:normal;font-style:normal" fill="#111" text-anchor="middle">4.5</text>
<text x="831.3" y="1635.3" style="font-family:'Liberation Serif',serif;font-size:30px;font-weight:normal;font-style:normal" fill="#111" text-anchor="middle">5</text>
<text x="925.0" y="1632.0" style="font-family:'Liberation Serif',serif;font-size:30px;font-weight:normal;font-style:normal" fill="#111" text-anchor="middle">5.3</text>
<text x="998.8" y="1632.0" style="font-family:'Liberation Serif',serif;font-size:30px;font-weight:normal;font-style:normal" fill="#111" text-anchor="middle">5.5</text>
<text x="1140.0" y="1632.0" style="font-family:'Liberation Serif',serif;font-size:30px;font-weight:normal;font-style:normal" fill="#111" text-anchor="middle">6</text>
<text x="1305.0" y="1633.8" style="font-family:'Liberation Serif',serif;font-size:30px;font-weight:normal;font-style:normal" fill="#111" text-anchor="middle">6.5</text>
<text x="1457.3" y="1632.0" style="font-family:'Liberation Serif',serif;font-size:30px;font-weight:normal;font-style:normal" fill="#111" text-anchor="middle">7</text>
<text x="1628.7" y="1634.9" style="font-family:'Liberation Serif',serif;font-size:30px;font-weight:normal;font-style:normal" fill="#111" text-anchor="middle">7.5</text>
<text x="1769.0" y="1628.3" style="font-family:'Liberation Serif',serif;font-size:30px;font-weight:normal;font-style:normal" fill="#111" text-anchor="middle">8</text>
<text x="928.4" y="1670.4" style="font-family:'Liberation Serif',serif;font-size:30.5px;font-weight:normal;font-style:normal" fill="#111" text-anchor="middle" textLength="84.0" lengthAdjust="spacingAndGlyphs">Time/s</text>
<polyline points="135.7,1472.8 238.5,1558.9 268.0,1560.9 604.7,1288.5 941.8,1558.2 971.3,1560.5 1325.0,1288.5 1645.7,1558.4 1674.7,1559.5 1777.3,1480.5" fill="none" stroke="#ff0000" stroke-width="1.6" stroke-linejoin="round"/>
<line x1="135.3" y1="1532.0" x2="913.0" y2="1532.0" stroke="#4472c4" stroke-width="1.6" stroke-dasharray="8.5 5"/>
<line x1="913.6" y1="1533.0" x2="913.6" y2="1584.0" stroke="#4472c4" stroke-width="1.6" stroke-dasharray="7.5 5.5"/>
<rect x="914.8" y="1532.2" width="17" height="20.5" fill="none" stroke="#000" stroke-width="3.2"/>
<line x1="923.4" y1="1530.7" x2="1093.0" y2="1357.0" stroke="#000" stroke-width="4.2"/>
<polyline points="135.3,1208.3 174.2,1219.0 110.8,1229.9 172.9,1241.2 135.3,1255.5" fill="none" stroke="#000" stroke-width="1.6"/>
<line x1="418.4" y1="1101.6" x2="418.4" y2="1211.0" stroke="#000" stroke-width="3"/>
<line x1="469.7" y1="1101.6" x2="469.7" y2="1211.0" stroke="#000" stroke-width="3"/>
<line x1="366.0" y1="1202.9" x2="404.0" y2="1202.9" stroke="#4472c4" stroke-width="2.4"/>
<line x1="418.0" y1="1202.9" x2="470.0" y2="1202.9" stroke="#4472c4" stroke-width="1.4"/>
<line x1="484.0" y1="1202.9" x2="524.0" y2="1202.9" stroke="#4472c4" stroke-width="2.4"/>
<polygon points="402.5,1195.5 418,1202.9 402.5,1210.3" fill="#4472c4"/>
<polygon points="485.5,1195.5 470,1202.9 485.5,1210.3" fill="#4472c4"/>
<text x="247.2" y="1243.0" style="font-family:'Liberation Serif',serif;font-size:31px;font-weight:normal;font-style:normal" fill="#111" text-anchor="start" textLength="509.5" lengthAdjust="spacingAndGlyphs">Self-traceable atomic lithography grating</text>
<text x="210.7" y="1279.3" style="font-family:'Liberation Serif',serif;font-size:31px;font-weight:normal;font-style:normal" fill="#111" text-anchor="start" textLength="310.0" lengthAdjust="spacingAndGlyphs">Theoretical period value:</text>
<text x="528.5" y="1279.5" style="font-family:'Liberation Serif',serif;font-size:31.5px;font-weight:bold;font-style:normal" fill="#ff0000" text-anchor="start" textLength="116.0" lengthAdjust="spacingAndGlyphs">212.7705</text>
<text x="645.5" y="1279.5" style="font-family:'Liberation Serif',serif;font-size:31.5px;font-weight:bold;font-style:normal" fill="#ff0000" text-anchor="start" textLength="20.5" lengthAdjust="spacingAndGlyphs">±</text>
<text x="667.5" y="1279.5" style="font-family:'Liberation Serif',serif;font-size:31.5px;font-weight:bold;font-style:normal" fill="#ff0000" text-anchor="start" textLength="128.5" lengthAdjust="spacingAndGlyphs">0.0049nm</text>
<rect x="1092.5" y="849.5" width="659.5" height="682.5" fill="#fff" stroke="#000" stroke-width="3"/>
<text x="1094.0" y="888.5" style="font-family:'Liberation Sans',sans-serif;font-size:38.5px;font-weight:normal;font-style:normal" fill="#000" text-anchor="start" textLength="42.5" lengthAdjust="spacingAndGlyphs" stroke="#000" stroke-width="0.5">(c)</text>
<text x="1179.0" y="893.6" style="font-family:'Liberation Serif',serif;font-size:27px;font-weight:bold;font-style:normal" fill="#000" text-anchor="start" textLength="501.0" lengthAdjust="spacingAndGlyphs">Heydemann Correction based on RANSAC</text>
<text x="1109.0" y="910.4" style="font-family:'Liberation Serif',serif;font-size:15.5px;font-weight:normal;font-style:normal" fill="#111" text-anchor="start" textLength="386.0" lengthAdjust="spacingAndGlyphs">Results of Cr Atomic Reference Signal Fitting with RANSAC</text>
<clipPath id="bclip"><rect x="1176" y="912" width="254" height="190"/></clipPath>
<g clip-path="url(#bclip)">
<circle cx="1334.3" cy="1070.4" r="2.3" fill="#ff0000" stroke="#000" stroke-width="0.7"/>
<circle cx="1334.4" cy="1072.3" r="2.3" fill="#ff0000" stroke="#000" stroke-width="0.7"/>
<circle cx="1331.0" cy="1074.6" r="2.3" fill="#ff0000" stroke="#000" stroke-width="0.7"/>
<circle cx="1327.5" cy="1074.6" r="2.3" fill="#ff0000" stroke="#000" stroke-width="0.7"/>
<circle cx="1325.6" cy="1075.9" r="2.3" fill="#ff0000" stroke="#000" stroke-width="0.7"/>
<circle cx="1323.4" cy="1076.7" r="2.3" fill="#ff0000" stroke="#000" stroke-width="0.7"/>
<circle cx="1321.5" cy="1075.3" r="2.3" fill="#ff0000" stroke="#000" stroke-width="0.7"/>
<circle cx="1319.0" cy="1077.4" r="2.3" fill="#ff0000" stroke="#000" stroke-width="0.7"/>
<circle cx="1316.8" cy="1080.6" r="2.3" fill="#ff0000" stroke="#000" stroke-width="0.7"/>
<circle cx="1315.1" cy="1081.2" r="2.3" fill="#ff0000" stroke="#000" stroke-width="0.7"/>
<circle cx="1312.8" cy="1082.5" r="2.3" fill="#ff0000" stroke="#000" stroke-width="0.7"/>
<circle cx="1310.1" cy="1082.9" r="2.3" fill="#ff0000" stroke="#000" stroke-width="0.7"/>
<circle cx="1308.5" cy="1079.3" r="2.3" fill="#ff0000" stroke="#000" stroke-width="0.7"/>
<circle cx="1305.9" cy="1083.9" r="2.3" fill="#ff0000" stroke="#000" stroke-width="0.7"/>
<circle cx="1304.0" cy="1084.7" r="2.3" fill="#ff0000" stroke="#000" stroke-width="0.7"/>
<circle cx="1299.7" cy="1083.9" r="2.3" fill="#ff0000" stroke="#000" stroke-width="0.7"/>
<circle cx="1299.1" cy="1088.3" r="2.3" fill="#ff0000" stroke="#000" stroke-width="0.7"/>
<circle cx="1296.8" cy="1086.3" r="2.3" fill="#ff0000" stroke="#000" stroke-width="0.7"/>
<circle cx="1294.3" cy="1088.5" r="2.3" fill="#ff0000" stroke="#000" stroke-width="0.7"/>
<circle cx="1291.1" cy="1089.2" r="2.3" fill="#ff0000" stroke="#000" stroke-width="0.7"/>
<circle cx="1289.2" cy="1089.5" r="2.3" fill="#ff0000" stroke="#000" stroke-width="0.7"/>
<circle cx="1285.6" cy="1091.5" r="2.3" fill="#ff0000" stroke="#000" stroke-width="0.7"/>
<circle cx="1284.6" cy="1089.7" r="2.3" fill="#ff0000" stroke="#000" stroke-width="0.7"/>
<circle cx="1282.5" cy="1091.6" r="2.3" fill="#ff0000" stroke="#000" stroke-width="0.7"/>
<circle cx="1279.6" cy="1091.6" r="2.3" fill="#ff0000" stroke="#000" stroke-width="0.7"/>
<circle cx="1277.1" cy="1089.9" r="2.3" fill="#ff0000" stroke="#000" stroke-width="0.7"/>
<circle cx="1276.2" cy="1090.9" r="2.3" fill="#ff0000" stroke="#000" stroke-width="0.7"/>
<circle cx="1272.6" cy="1090.8" r="2.3" fill="#ff0000" stroke="#000" stroke-width="0.7"/>
<circle cx="1271.2" cy="1090.2" r="2.3" fill="#ff0000" stroke="#000" stroke-width="0.7"/>
<circle cx="1268.1" cy="1091.0" r="2.3" fill="#ff0000" stroke="#000" stroke-width="0.7"/>
<circle cx="1265.4" cy="1094.2" r="2.3" fill="#ff0000" stroke="#000" stroke-width="0.7"/>
<circle cx="1265.0" cy="1091.6" r="2.3" fill="#ff0000" stroke="#000" stroke-width="0.7"/>
<circle cx="1259.9" cy="1095.5" r="2.3" fill="#ff0000" stroke="#000" stroke-width="0.7"/>
<circle cx="1259.8" cy="1093.8" r="2.3" fill="#ff0000" stroke="#000" stroke-width="0.7"/>
<circle cx="1256.9" cy="1094.1" r="2.3" fill="#ff0000" stroke="#000" stroke-width="0.7"/>
<circle cx="1255.4" cy="1092.8" r="2.3" fill="#ff0000" stroke="#000" stroke-width="0.7"/>
<circle cx="1252.2" cy="1095.3" r="2.3" fill="#ff0000" stroke="#000" stroke-width="0.7"/>
<circle cx="1251.6" cy="1093.5" r="2.3" fill="#ff0000" stroke="#000" stroke-width="0.7"/>
<circle cx="1248.2" cy="1095.9" r="2.3" fill="#ff0000" stroke="#000" stroke-width="0.7"/>
<circle cx="1246.6" cy="1096.0" r="2.3" fill="#ff0000" stroke="#000" stroke-width="0.7"/>
<circle cx="1246.3" cy="1092.4" r="2.3" fill="#ff0000" stroke="#000" stroke-width="0.7"/>
<circle cx="1241.3" cy="1095.7" r="2.3" fill="#ff0000" stroke="#000" stroke-width="0.7"/>
<circle cx="1241.7" cy="1091.8" r="2.3" fill="#ff0000" stroke="#000" stroke-width="0.7"/>
<circle cx="1237.2" cy="1096.0" r="2.3" fill="#ff0000" stroke="#000" stroke-width="0.7"/>
<circle cx="1238.2" cy="1091.5" r="2.3" fill="#ff0000" stroke="#000" stroke-width="0.7"/>
<circle cx="1235.2" cy="1092.9" r="2.3" fill="#ff0000" stroke="#000" stroke-width="0.7"/>
<circle cx="1230.3" cy="1096.2" r="2.3" fill="#ff0000" stroke="#000" stroke-width="0.7"/>
<circle cx="1230.0" cy="1094.4" r="2.3" fill="#ff0000" stroke="#000" stroke-width="0.7"/>
<circle cx="1228.2" cy="1095.0" r="2.3" fill="#ff0000" stroke="#000" stroke-width="0.7"/>
<circle cx="1230.7" cy="1090.1" r="2.3" fill="#ff0000" stroke="#000" stroke-width="0.7"/>
<circle cx="1224.3" cy="1094.5" r="2.3" fill="#ff0000" stroke="#000" stroke-width="0.7"/>
<circle cx="1223.8" cy="1091.7" r="2.3" fill="#ff0000" stroke="#000" stroke-width="0.7"/>
<circle cx="1218.8" cy="1095.0" r="2.3" fill="#ff0000" stroke="#000" stroke-width="0.7"/>
<circle cx="1220.2" cy="1092.4" r="2.3" fill="#ff0000" stroke="#000" stroke-width="0.7"/>
<circle cx="1218.9" cy="1091.8" r="2.3" fill="#ff0000" stroke="#000" stroke-width="0.7"/>
<circle cx="1218.0" cy="1088.8" r="2.3" fill="#ff0000" stroke="#000" stroke-width="0.7"/>
<circle cx="1215.7" cy="1089.4" r="2.3" fill="#ff0000" stroke="#000" stroke-width="0.7"/>
<circle cx="1213.2" cy="1090.3" r="2.3" fill="#ff0000" stroke="#000" stroke-width="0.7"/>
<circle cx="1209.5" cy="1091.8" r="2.3" fill="#ff0000" stroke="#000" stroke-width="0.7"/>
<circle cx="1207.9" cy="1091.0" r="2.3" fill="#ff0000" stroke="#000" stroke-width="0.7"/>
<circle cx="1209.2" cy="1088.4" r="2.3" fill="#ff0000" stroke="#000" stroke-width="0.7"/>
<circle cx="1208.2" cy="1086.0" r="2.3" fill="#ff0000" stroke="#000" stroke-width="0.7"/>
<circle cx="1208.0" cy="1085.8" r="2.3" fill="#ff0000" stroke="#000" stroke-width="0.7"/>
<circle cx="1201.8" cy="1089.2" r="2.3" fill="#ff0000" stroke="#000" stroke-width="0.7"/>
<circle cx="1201.8" cy="1086.0" r="2.3" fill="#ff0000" stroke="#000" stroke-width="0.7"/>
<circle cx="1203.4" cy="1083.8" r="2.3" fill="#ff0000" stroke="#000" stroke-width="0.7"/>
<circle cx="1198.0" cy="1086.7" r="2.3" fill="#ff0000" stroke="#000" stroke-width="0.7"/>
<circle cx="1198.1" cy="1084.4" r="2.3" fill="#ff0000" stroke="#000" stroke-width="0.7"/>
<circle cx="1195.7" cy="1083.3" r="2.3" fill="#ff0000" stroke="#000" stroke-width="0.7"/>
<circle cx="1195.3" cy="1083.3" r="2.3" fill="#ff0000" stroke="#000" stroke-width="0.7"/>
<circle cx="1195.1" cy="1081.7" r="2.3" fill="#ff0000" stroke="#000" stroke-width="0.7"/>
<circle cx="1194.6" cy="1079.0" r="2.3" fill="#ff0000" stroke="#000" stroke-width="0.7"/>
<circle cx="1196.6" cy="1077.4" r="2.3" fill="#ff0000" stroke="#000" stroke-width="0.7"/>
<circle cx="1194.5" cy="1076.4" r="2.3" fill="#ff0000" stroke="#000" stroke-width="0.7"/>
<circle cx="1193.3" cy="1076.6" r="2.3" fill="#ff0000" stroke="#000" stroke-width="0.7"/>
<circle cx="1189.4" cy="1077.0" r="2.3" fill="#ff0000" stroke="#000" stroke-width="0.7"/>
<circle cx="1190.7" cy="1074.2" r="2.3" fill="#ff0000" stroke="#000" stroke-width="0.7"/>
<circle cx="1186.8" cy="1075.0" r="2.3" fill="#ff0000" stroke="#000" stroke-width="0.7"/>
<circle cx="1185.3" cy="1073.4" r="2.3" fill="#ff0000" stroke="#000" stroke-width="0.7"/>
<circle cx="1184.1" cy="1074.0" r="2.3" fill="#ff0000" stroke="#000" stroke-width="0.7"/>
<circle cx="1183.1" cy="1072.7" r="2.3" fill="#ff0000" stroke="#000" stroke-width="0.7"/>
<circle cx="1191.0" cy="1067.0" r="2.3" fill="#ff0000" stroke="#000" stroke-width="0.7"/>
<circle cx="1181.1" cy="1069.4" r="2.3" fill="#ff0000" stroke="#000" stroke-width="0.7"/>
<circle cx="1183.4" cy="1066.9" r="2.3" fill="#ff0000" stroke="#000" stroke-width="0.7"/>
<circle cx="1183.3" cy="1066.3" r="2.3" fill="#ff0000" stroke="#000" stroke-width="0.7"/>
<circle cx="1184.3" cy="1064.1" r="2.3" fill="#ff0000" stroke="#000" stroke-width="0.7"/>
<circle cx="1181.9" cy="1063.7" r="2.3" fill="#ff0000" stroke="#000" stroke-width="0.7"/>
<circle cx="1182.0" cy="1062.8" r="2.3" fill="#ff0000" stroke="#000" stroke-width="0.7"/>
<circle cx="1183.0" cy="1060.2" r="2.3" fill="#ff0000" stroke="#000" stroke-width="0.7"/>
<circle cx="1185.1" cy="1057.6" r="2.3" fill="#ff0000" stroke="#000" stroke-width="0.7"/>
<circle cx="1178.2" cy="1059.8" r="2.3" fill="#ff0000" stroke="#000" stroke-width="0.7"/>
<circle cx="1179.6" cy="1057.5" r="2.3" fill="#ff0000" stroke="#000" stroke-width="0.7"/>
<circle cx="1182.5" cy="1054.1" r="2.3" fill="#ff0000" stroke="#000" stroke-width="0.7"/>
<circle cx="1181.3" cy="1053.3" r="2.3" fill="#ff0000" stroke="#000" stroke-width="0.7"/>
<circle cx="1178.5" cy="1053.4" r="2.3" fill="#ff0000" stroke="#000" stroke-width="0.7"/>
<circle cx="1181.2" cy="1050.0" r="2.3" fill="#ff0000" stroke="#000" stroke-width="0.7"/>
<circle cx="1179.4" cy="1050.1" r="2.3" fill="#ff0000" stroke="#000" stroke-width="0.7"/>
<circle cx="1177.8" cy="1048.7" r="2.3" fill="#ff0000" stroke="#000" stroke-width="0.7"/>
<circle cx="1178.3" cy="1047.5" r="2.3" fill="#ff0000" stroke="#000" stroke-width="0.7"/>
<circle cx="1180.4" cy="1045.9" r="2.3" fill="#ff0000" stroke="#000" stroke-width="0.7"/>
<circle cx="1182.2" cy="1042.6" r="2.3" fill="#ff0000" stroke="#000" stroke-width="0.7"/>
<circle cx="1181.3" cy="1042.1" r="2.3" fill="#ff0000" stroke="#000" stroke-width="0.7"/>
<circle cx="1179.2" cy="1040.8" r="2.3" fill="#ff0000" stroke="#000" stroke-width="0.7"/>
<circle cx="1181.3" cy="1039.1" r="2.3" fill="#ff0000" stroke="#000" stroke-width="0.7"/>
<circle cx="1177.9" cy="1038.0" r="2.3" fill="#ff0000" stroke="#000" stroke-width="0.7"/>
<circle cx="1177.8" cy="1037.3" r="2.3" fill="#ff0000" stroke="#000" stroke-width="0.7"/>
<circle cx="1179.0" cy="1035.1" r="2.3" fill="#ff0000" stroke="#000" stroke-width="0.7"/>
<circle cx="1181.0" cy="1033.0" r="2.3" fill="#ff0000" stroke="#000" stroke-width="0.7"/>
<circle cx="1185.3" cy="1031.1" r="2.3" fill="#ff0000" stroke="#000" stroke-width="0.7"/>
<circle cx="1179.9" cy="1030.7" r="2.3" fill="#ff0000" stroke="#000" stroke-width="0.7"/>
<circle cx="1182.5" cy="1028.4" r="2.3" fill="#ff0000" stroke="#000" stroke-width="0.7"/>
<circle cx="1186.0" cy="1026.3" r="2.3" fill="#ff0000" stroke="#000" stroke-width="0.7"/>
<circle cx="1186.8" cy="1025.2" r="2.3" fill="#ff0000" stroke="#000" stroke-width="0.7"/>
<circle cx="1187.6" cy="1022.4" r="2.3" fill="#ff0000" stroke="#000" stroke-width="0.7"/>
<circle cx="1186.5" cy="1021.5" r="2.3" fill="#ff0000" stroke="#000" stroke-width="0.7"/>
<circle cx="1190.5" cy="1019.4" r="2.3" fill="#ff0000" stroke="#000" stroke-width="0.7"/>
<circle cx="1186.5" cy="1017.7" r="2.3" fill="#ff0000" stroke="#000" stroke-width="0.7"/>
<circle cx="1189.9" cy="1016.7" r="2.3" fill="#ff0000" stroke="#000" stroke-width="0.7"/>
<circle cx="1189.6" cy="1014.2" r="2.3" fill="#ff0000" stroke="#000" stroke-width="0.7"/>
<circle cx="1194.7" cy="1012.7" r="2.3" fill="#ff0000" stroke="#000" stroke-width="0.7"/>
<circle cx="1186.9" cy="1011.1" r="2.3" fill="#ff0000" stroke="#000" stroke-width="0.7"/>
<circle cx="1191.4" cy="1009.9" r="2.3" fill="#ff0000" stroke="#000" stroke-width="0.7"/>
<circle cx="1194.5" cy="1008.2" r="2.3" fill="#ff0000" stroke="#000" stroke-width="0.7"/>
<circle cx="1197.7" cy="1006.5" r="2.3" fill="#ff0000" stroke="#000" stroke-width="0.7"/>
<circle cx="1194.3" cy="1004.2" r="2.3" fill="#ff0000" stroke="#000" stroke-width="0.7"/>
<circle cx="1198.2" cy="1003.8" r="2.3" fill="#ff0000" stroke="#000" stroke-width="0.7"/>
<circle cx="1199.7" cy="1001.7" r="2.3" fill="#ff0000" stroke="#000" stroke-width="0.7"/>
<circle cx="1204.2" cy="999.3" r="2.3" fill="#ff0000" stroke="#000" stroke-width="0.7"/>
<circle cx="1206.7" cy="997.8" r="2.3" fill="#ff0000" stroke="#000" stroke-width="0.7"/>
<circle cx="1203.6" cy="996.2" r="2.3" fill="#ff0000" stroke="#000" stroke-width="0.7"/>
<circle cx="1204.2" cy="995.1" r="2.3" fill="#ff0000" stroke="#000" stroke-width="0.7"/>
<circle cx="1207.8" cy="992.9" r="2.3" fill="#ff0000" stroke="#000" stroke-width="0.7"/>
<circle cx="1210.4" cy="992.9" r="2.3" fill="#ff0000" stroke="#000" stroke-width="0.7"/>
<circle cx="1203.7" cy="989.4" r="2.3" fill="#ff0000" stroke="#000" stroke-width="0.7"/>
<circle cx="1204.4" cy="988.1" r="2.3" fill="#ff0000" stroke="#000" stroke-width="0.7"/>
<circle cx="1215.3" cy="986.7" r="2.3" fill="#ff0000" stroke="#000" stroke-width="0.7"/>
<circle cx="1209.8" cy="983.9" r="2.3" fill="#ff0000" stroke="#000" stroke-width="0.7"/>
<circle cx="1214.6" cy="983.9" r="2.3" fill="#ff0000" stroke="#000" stroke-width="0.7"/>
<circle cx="1217.5" cy="981.5" r="2.3" fill="#ff0000" stroke="#000" stroke-width="0.7"/>
<circle cx="1212.0" cy="979.0" r="2.3" fill="#ff0000" stroke="#000" stroke-width="0.7"/>
<circle cx="1214.6" cy="977.0" r="2.3" fill="#ff0000" stroke="#000" stroke-width="0.7"/>
<circle cx="1222.4" cy="978.3" r="2.3" fill="#ff0000" stroke="#000" stroke-width="0.7"/>
<circle cx="1221.8" cy="974.9" r="2.3" fill="#ff0000" stroke="#000" stroke-width="0.7"/>
<circle cx="1227.0" cy="975.0" r="2.3" fill="#ff0000" stroke="#000" stroke-width="0.7"/>
<circle cx="1231.5" cy="974.7" r="2.3" fill="#ff0000" stroke="#000" stroke-width="0.7"/>
<circle cx="1227.1" cy="969.9" r="2.3" fill="#ff0000" stroke="#000" stroke-width="0.7"/>
<circle cx="1230.7" cy="968.5" r="2.3" fill="#ff0000" stroke="#000" stroke-width="0.7"/>
<circle cx="1231.3" cy="967.1" r="2.3" fill="#ff0000" stroke="#000" stroke-width="0.7"/>
<circle cx="1230.4" cy="963.0" r="2.3" fill="#ff0000" stroke="#000" stroke-width="0.7"/>
<circle cx="1238.3" cy="965.1" r="2.3" fill="#ff0000" stroke="#000" stroke-width="0.7"/>
<circle cx="1238.4" cy="962.6" r="2.3" fill="#ff0000" stroke="#000" stroke-width="0.7"/>
<circle cx="1241.1" cy="961.7" r="2.3" fill="#ff0000" stroke="#000" stroke-width="0.7"/>
<circle cx="1246.5" cy="964.3" r="2.3" fill="#ff0000" stroke="#000" stroke-width="0.7"/>
<circle cx="1245.3" cy="959.9" r="2.3" fill="#ff0000" stroke="#000" stroke-width="0.7"/>
<circle cx="1250.6" cy="960.6" r="2.3" fill="#ff0000" stroke="#000" stroke-width="0.7"/>
<circle cx="1249.8" cy="956.2" r="2.3" fill="#ff0000" stroke="#000" stroke-width="0.7"/>
<circle cx="1253.6" cy="957.1" r="2.3" fill="#ff0000" stroke="#000" stroke-width="0.7"/>
<circle cx="1254.5" cy="956.8" r="2.3" fill="#ff0000" stroke="#000" stroke-width="0.7"/>
<circle cx="1252.8" cy="950.4" r="2.3" fill="#ff0000" stroke="#000" stroke-width="0.7"/>
<circle cx="1257.8" cy="952.7" r="2.3" fill="#ff0000" stroke="#000" stroke-width="0.7"/>
<circle cx="1260.1" cy="951.0" r="2.3" fill="#ff0000" stroke="#000" stroke-width="0.7"/>
<circle cx="1261.8" cy="948.3" r="2.3" fill="#ff0000" stroke="#000" stroke-width="0.7"/>
<circle cx="1266.8" cy="952.5" r="2.3" fill="#ff0000" stroke="#000" stroke-width="0.7"/>
<circle cx="1268.4" cy="948.2" r="2.3" fill="#ff0000" stroke="#000" stroke-width="0.7"/>
<circle cx="1268.8" cy="947.6" r="2.3" fill="#ff0000" stroke="#000" stroke-width="0.7"/>
<circle cx="1270.9" cy="943.3" r="2.3" fill="#ff0000" stroke="#000" stroke-width="0.7"/>
<circle cx="1273.0" cy="942.7" r="2.3" fill="#ff0000" stroke="#000" stroke-width="0.7"/>
<circle cx="1276.3" cy="943.4" r="2.3" fill="#ff0000" stroke="#000" stroke-width="0.7"/>
<circle cx="1275.8" cy="937.1" r="2.3" fill="#ff0000" stroke="#000" stroke-width="0.7"/>
<circle cx="1281.4" cy="940.8" r="2.3" fill="#ff0000" stroke="#000" stroke-width="0.7"/>
<circle cx="1282.1" cy="941.2" r="2.3" fill="#ff0000" stroke="#000" stroke-width="0.7"/>
<circle cx="1283.9" cy="937.2" r="2.3" fill="#ff0000" stroke="#000" stroke-width="0.7"/>
<circle cx="1288.7" cy="938.1" r="2.3" fill="#ff0000" stroke="#000" stroke-width="0.7"/>
<circle cx="1289.0" cy="932.8" r="2.3" fill="#ff0000" stroke="#000" stroke-width="0.7"/>
<circle cx="1290.6" cy="934.6" r="2.3" fill="#ff0000" stroke="#000" stroke-width="0.7"/>
<circle cx="1295.4" cy="935.5" r="2.3" fill="#ff0000" stroke="#000" stroke-width="0.7"/>
<circle cx="1295.8" cy="927.4" r="2.3" fill="#ff0000" stroke="#000" stroke-width="0.7"/>
<circle cx="1298.1" cy="933.7" r="2.3" fill="#ff0000" stroke="#000" stroke-width="0.7"/>
<circle cx="1301.9" cy="931.4" r="2.3" fill="#ff0000" stroke="#000" stroke-width="0.7"/>
<circle cx="1304.0" cy="929.7" r="2.3" fill="#ff0000" stroke="#000" stroke-width="0.7"/>
<circle cx="1305.2" cy="929.3" r="2.3" fill="#ff0000" stroke="#000" stroke-width="0.7"/>
<circle cx="1308.8" cy="928.0" r="2.3" fill="#ff0000" stroke="#000" stroke-width="0.7"/>
<circle cx="1310.1" cy="932.1" r="2.3" fill="#ff0000" stroke="#000" stroke-width="0.7"/>
<circle cx="1311.7" cy="928.0" r="2.3" fill="#ff0000" stroke="#000" stroke-width="0.7"/>
<circle cx="1313.9" cy="932.8" r="2.3" fill="#ff0000" stroke="#000" stroke-width="0.7"/>
<circle cx="1316.7" cy="927.4" r="2.3" fill="#ff0000" stroke="#000" stroke-width="0.7"/>
<circle cx="1319.5" cy="926.3" r="2.3" fill="#ff0000" stroke="#000" stroke-width="0.7"/>
<circle cx="1321.6" cy="924.1" r="2.3" fill="#ff0000" stroke="#000" stroke-width="0.7"/>
<circle cx="1323.1" cy="927.3" r="2.3" fill="#ff0000" stroke="#000" stroke-width="0.7"/>
<circle cx="1326.1" cy="923.7" r="2.3" fill="#ff0000" stroke="#000" stroke-width="0.7"/>
<circle cx="1327.9" cy="925.3" r="2.3" fill="#ff0000" stroke="#000" stroke-width="0.7"/>
<circle cx="1332.2" cy="923.0" r="2.3" fill="#ff0000" stroke="#000" stroke-width="0.7"/>
<circle cx="1331.7" cy="925.8" r="2.3" fill="#ff0000" stroke="#000" stroke-width="0.7"/>
<circle cx="1336.9" cy="919.8" r="2.3" fill="#ff0000" stroke="#000" stroke-width="0.7"/>
<circle cx="1339.8" cy="919.5" r="2.3" fill="#ff0000" stroke="#000" stroke-width="0.7"/>
<circle cx="1339.4" cy="924.1" r="2.3" fill="#ff0000" stroke="#000" stroke-width="0.7"/>
<circle cx="1342.3" cy="921.8" r="2.3" fill="#ff0000" stroke="#000" stroke-width="0.7"/>
<circle cx="1343.8" cy="921.8" r="2.3" fill="#ff0000" stroke="#000" stroke-width="0.7"/>
<circle cx="1345.0" cy="923.9" r="2.3" fill="#ff0000" stroke="#000" stroke-width="0.7"/>
<circle cx="1348.8" cy="922.6" r="2.3" fill="#ff0000" stroke="#000" stroke-width="0.7"/>
<circle cx="1350.5" cy="921.0" r="2.3" fill="#ff0000" stroke="#000" stroke-width="0.7"/>
<circle cx="1352.0" cy="922.3" r="2.3" fill="#ff0000" stroke="#000" stroke-width="0.7"/>
<circle cx="1355.5" cy="920.2" r="2.3" fill="#ff0000" stroke="#000" stroke-width="0.7"/>
<circle cx="1358.8" cy="919.2" r="2.3" fill="#ff0000" stroke="#000" stroke-width="0.7"/>
<circle cx="1360.0" cy="921.2" r="2.3" fill="#ff0000" stroke="#000" stroke-width="0.7"/>
<circle cx="1362.4" cy="919.3" r="2.3" fill="#ff0000" stroke="#000" stroke-width="0.7"/>
<circle cx="1364.8" cy="918.2" r="2.3" fill="#ff0000" stroke="#000" stroke-width="0.7"/>
<circle cx="1364.4" cy="921.2" r="2.3" fill="#ff0000" stroke="#000" stroke-width="0.7"/>
<circle cx="1369.6" cy="918.6" r="2.3" fill="#ff0000" stroke="#000" stroke-width="0.7"/>
<circle cx="1370.8" cy="918.7" r="2.3" fill="#ff0000" stroke="#000" stroke-width="0.7"/>
<circle cx="1373.3" cy="918.6" r="2.3" fill="#ff0000" stroke="#000" stroke-width="0.7"/>
<circle cx="1373.0" cy="920.7" r="2.3" fill="#ff0000" stroke="#000" stroke-width="0.7"/>
<circle cx="1375.3" cy="920.5" r="2.3" fill="#ff0000" stroke="#000" stroke-width="0.7"/>
<circle cx="1377.4" cy="922.5" r="2.3" fill="#ff0000" stroke="#000" stroke-width="0.7"/>
<circle cx="1381.4" cy="920.3" r="2.3" fill="#ff0000" stroke="#000" stroke-width="0.7"/>
<circle cx="1381.8" cy="920.6" r="2.3" fill="#ff0000" stroke="#000" stroke-width="0.7"/>
<circle cx="1383.5" cy="921.5" r="2.3" fill="#ff0000" stroke="#000" stroke-width="0.7"/>
<circle cx="1385.7" cy="922.7" r="2.3" fill="#ff0000" stroke="#000" stroke-width="0.7"/>
<circle cx="1385.4" cy="923.7" r="2.3" fill="#ff0000" stroke="#000" stroke-width="0.7"/>
<circle cx="1384.2" cy="926.3" r="2.3" fill="#ff0000" stroke="#000" stroke-width="0.7"/>
<circle cx="1388.4" cy="924.3" r="2.3" fill="#ff0000" stroke="#000" stroke-width="0.7"/>
<circle cx="1389.3" cy="926.8" r="2.3" fill="#ff0000" stroke="#000" stroke-width="0.7"/>
<circle cx="1393.6" cy="925.1" r="2.3" fill="#ff0000" stroke="#000" stroke-width="0.7"/>
<circle cx="1393.3" cy="926.4" r="2.3" fill="#ff0000" stroke="#000" stroke-width="0.7"/>
<circle cx="1400.8" cy="922.9" r="2.3" fill="#ff0000" stroke="#000" stroke-width="0.7"/>
<circle cx="1396.7" cy="927.2" r="2.3" fill="#ff0000" stroke="#000" stroke-width="0.7"/>
<circle cx="1398.5" cy="928.7" r="2.3" fill="#ff0000" stroke="#000" stroke-width="0.7"/>
<circle cx="1403.2" cy="925.0" r="2.3" fill="#ff0000" stroke="#000" stroke-width="0.7"/>
<circle cx="1399.7" cy="930.8" r="2.3" fill="#ff0000" stroke="#000" stroke-width="0.7"/>
<circle cx="1405.8" cy="927.6" r="2.3" fill="#ff0000" stroke="#000" stroke-width="0.7"/>
<circle cx="1407.7" cy="928.6" r="2.3" fill="#ff0000" stroke="#000" stroke-width="0.7"/>
<circle cx="1405.7" cy="930.6" r="2.3" fill="#ff0000" stroke="#000" stroke-width="0.7"/>
<circle cx="1405.0" cy="933.1" r="2.3" fill="#ff0000" stroke="#000" stroke-width="0.7"/>
<circle cx="1407.3" cy="932.9" r="2.3" fill="#ff0000" stroke="#000" stroke-width="0.7"/>
<circle cx="1410.8" cy="933.5" r="2.3" fill="#ff0000" stroke="#000" stroke-width="0.7"/>
<circle cx="1412.5" cy="932.8" r="2.3" fill="#ff0000" stroke="#000" stroke-width="0.7"/>
<circle cx="1412.8" cy="933.9" r="2.3" fill="#ff0000" stroke="#000" stroke-width="0.7"/>
<circle cx="1414.5" cy="935.8" r="2.3" fill="#ff0000" stroke="#000" stroke-width="0.7"/>
<circle cx="1413.6" cy="937.5" r="2.3" fill="#ff0000" stroke="#000" stroke-width="0.7"/>
<circle cx="1417.6" cy="936.8" r="2.3" fill="#ff0000" stroke="#000" stroke-width="0.7"/>
<circle cx="1414.2" cy="940.0" r="2.3" fill="#ff0000" stroke="#000" stroke-width="0.7"/>
<circle cx="1415.6" cy="940.5" r="2.3" fill="#ff0000" stroke="#000" stroke-width="0.7"/>
<circle cx="1418.7" cy="941.3" r="2.3" fill="#ff0000" stroke="#000" stroke-width="0.7"/>
<circle cx="1420.3" cy="941.1" r="2.3" fill="#ff0000" stroke="#000" stroke-width="0.7"/>
<circle cx="1420.6" cy="942.7" r="2.3" fill="#ff0000" stroke="#000" stroke-width="0.7"/>
<circle cx="1421.3" cy="943.7" r="2.3" fill="#ff0000" stroke="#000" stroke-width="0.7"/>
<circle cx="1420.0" cy="945.9" r="2.3" fill="#ff0000" stroke="#000" stroke-width="0.7"/>
<circle cx="1424.0" cy="946.3" r="2.3" fill="#ff0000" stroke="#000" stroke-width="0.7"/>
<circle cx="1418.3" cy="950.5" r="2.3" fill="#ff0000" stroke="#000" stroke-width="0.7"/>
<circle cx="1421.7" cy="950.1" r="2.3" fill="#ff0000" stroke="#000" stroke-width="0.7"/>
<circle cx="1420.9" cy="952.2" r="2.3" fill="#ff0000" stroke="#000" stroke-width="0.7"/>
<circle cx="1421.8" cy="953.0" r="2.3" fill="#ff0000" stroke="#000" stroke-width="0.7"/>
<circle cx="1425.2" cy="952.3" r="2.3" fill="#ff0000" stroke="#000" stroke-width="0.7"/>
<circle cx="1426.3" cy="953.2" r="2.3" fill="#ff0000" stroke="#000" stroke-width="0.7"/>
<circle cx="1423.0" cy="956.4" r="2.3" fill="#ff0000" stroke="#000" stroke-width="0.7"/>
<circle cx="1425.5" cy="957.4" r="2.3" fill="#ff0000" stroke="#000" stroke-width="0.7"/>
<circle cx="1429.8" cy="957.4" r="2.3" fill="#ff0000" stroke="#000" stroke-width="0.7"/>
<circle cx="1426.5" cy="959.2" r="2.3" fill="#ff0000" stroke="#000" stroke-width="0.7"/>
<circle cx="1429.2" cy="960.6" r="2.3" fill="#ff0000" stroke="#000" stroke-width="0.7"/>
<circle cx="1428.4" cy="961.5" r="2.3" fill="#ff0000" stroke="#000" stroke-width="0.7"/>
<circle cx="1428.8" cy="963.6" r="2.3" fill="#ff0000" stroke="#000" stroke-width="0.7"/>
<circle cx="1425.7" cy="966.1" r="2.3" fill="#ff0000" stroke="#000" stroke-width="0.7"/>
<circle cx="1427.1" cy="966.6" r="2.3" fill="#ff0000" stroke="#000" stroke-width="0.7"/>
<circle cx="1431.1" cy="966.7" r="2.3" fill="#ff0000" stroke="#000" stroke-width="0.7"/>
<circle cx="1424.6" cy="970.4" r="2.3" fill="#ff0000" stroke="#000" stroke-width="0.7"/>
<circle cx="1423.7" cy="972.2" r="2.3" fill="#ff0000" stroke="#000" stroke-width="0.7"/>
<circle cx="1428.4" cy="973.0" r="2.3" fill="#ff0000" stroke="#000" stroke-width="0.7"/>
<circle cx="1424.5" cy="974.0" r="2.3" fill="#ff0000" stroke="#000" stroke-width="0.7"/>
<circle cx="1425.5" cy="976.0" r="2.3" fill="#ff0000" stroke="#000" stroke-width="0.7"/>
<circle cx="1426.2" cy="977.8" r="2.3" fill="#ff0000" stroke="#000" stroke-width="0.7"/>
<circle cx="1423.8" cy="979.7" r="2.3" fill="#ff0000" stroke="#000" stroke-width="0.7"/>
<circle cx="1423.8" cy="980.9" r="2.3" fill="#ff0000" stroke="#000" stroke-width="0.7"/>
<circle cx="1421.3" cy="983.3" r="2.3" fill="#ff0000" stroke="#000" stroke-width="0.7"/>
<circle cx="1422.8" cy="984.7" r="2.3" fill="#ff0000" stroke="#000" stroke-width="0.7"/>
<circle cx="1420.0" cy="986.5" r="2.3" fill="#ff0000" stroke="#000" stroke-width="0.7"/>
<circle cx="1423.1" cy="986.7" r="2.3" fill="#ff0000" stroke="#000" stroke-width="0.7"/>
<circle cx="1421.9" cy="988.4" r="2.3" fill="#ff0000" stroke="#000" stroke-width="0.7"/>
<circle cx="1423.3" cy="989.6" r="2.3" fill="#ff0000" stroke="#000" stroke-width="0.7"/>
<circle cx="1420.0" cy="991.4" r="2.3" fill="#ff0000" stroke="#000" stroke-width="0.7"/>
<circle cx="1421.6" cy="993.3" r="2.3" fill="#ff0000" stroke="#000" stroke-width="0.7"/>
<circle cx="1421.2" cy="994.7" r="2.3" fill="#ff0000" stroke="#000" stroke-width="0.7"/>
<circle cx="1420.0" cy="997.2" r="2.3" fill="#ff0000" stroke="#000" stroke-width="0.7"/>
<circle cx="1418.4" cy="998.7" r="2.3" fill="#ff0000" stroke="#000" stroke-width="0.7"/>
<circle cx="1416.8" cy="1000.3" r="2.3" fill="#ff0000" stroke="#000" stroke-width="0.7"/>
<circle cx="1415.8" cy="1001.5" r="2.3" fill="#ff0000" stroke="#000" stroke-width="0.7"/>
<circle cx="1413.0" cy="1004.0" r="2.3" fill="#ff0000" stroke="#000" stroke-width="0.7"/>
<circle cx="1412.4" cy="1006.1" r="2.3" fill="#ff0000" stroke="#000" stroke-width="0.7"/>
<circle cx="1411.5" cy="1007.5" r="2.3" fill="#ff0000" stroke="#000" stroke-width="0.7"/>
<circle cx="1414.1" cy="1009.4" r="2.3" fill="#ff0000" stroke="#000" stroke-width="0.7"/>
<circle cx="1407.4" cy="1010.2" r="2.3" fill="#ff0000" stroke="#000" stroke-width="0.7"/>
<circle cx="1407.5" cy="1012.6" r="2.3" fill="#ff0000" stroke="#000" stroke-width="0.7"/>
<circle cx="1407.6" cy="1013.8" r="2.3" fill="#ff0000" stroke="#000" stroke-width="0.7"/>
<circle cx="1404.2" cy="1015.2" r="2.3" fill="#ff0000" stroke="#000" stroke-width="0.7"/>
<circle cx="1405.3" cy="1017.7" r="2.3" fill="#ff0000" stroke="#000" stroke-width="0.7"/>
<circle cx="1401.9" cy="1018.8" r="2.3" fill="#ff0000" stroke="#000" stroke-width="0.7"/>
<circle cx="1403.2" cy="1019.5" r="2.3" fill="#ff0000" stroke="#000" stroke-width="0.7"/>
<circle cx="1400.6" cy="1021.8" r="2.3" fill="#ff0000" stroke="#000" stroke-width="0.7"/>
<circle cx="1395.7" cy="1022.5" r="2.3" fill="#ff0000" stroke="#000" stroke-width="0.7"/>
<circle cx="1398.0" cy="1025.9" r="2.3" fill="#ff0000" stroke="#000" stroke-width="0.7"/>
<circle cx="1394.4" cy="1026.0" r="2.3" fill="#ff0000" stroke="#000" stroke-width="0.7"/>
<circle cx="1394.4" cy="1029.1" r="2.3" fill="#ff0000" stroke="#000" stroke-width="0.7"/>
<circle cx="1394.6" cy="1031.1" r="2.3" fill="#ff0000" stroke="#000" stroke-width="0.7"/>
<circle cx="1392.9" cy="1031.6" r="2.3" fill="#ff0000" stroke="#000" stroke-width="0.7"/>
<circle cx="1389.4" cy="1033.4" r="2.3" fill="#ff0000" stroke="#000" stroke-width="0.7"/>
<circle cx="1387.3" cy="1035.4" r="2.3" fill="#ff0000" stroke="#000" stroke-width="0.7"/>
<circle cx="1386.0" cy="1036.8" r="2.3" fill="#ff0000" stroke="#000" stroke-width="0.7"/>
<circle cx="1384.4" cy="1037.6" r="2.3" fill="#ff0000" stroke="#000" stroke-width="0.7"/>
<circle cx="1380.8" cy="1039.7" r="2.3" fill="#ff0000" stroke="#000" stroke-width="0.7"/>
<circle cx="1380.1" cy="1041.7" r="2.3" fill="#ff0000" stroke="#000" stroke-width="0.7"/>
<circle cx="1379.6" cy="1042.0" r="2.3" fill="#ff0000" stroke="#000" stroke-width="0.7"/>
<circle cx="1380.2" cy="1045.0" r="2.3" fill="#ff0000" stroke="#000" stroke-width="0.7"/>
<circle cx="1376.0" cy="1045.9" r="2.3" fill="#ff0000" stroke="#000" stroke-width="0.7"/>
<circle cx="1375.6" cy="1049.0" r="2.3" fill="#ff0000" stroke="#000" stroke-width="0.7"/>
<circle cx="1372.2" cy="1048.0" r="2.3" fill="#ff0000" stroke="#000" stroke-width="0.7"/>
<circle cx="1369.3" cy="1050.7" r="2.3" fill="#ff0000" stroke="#000" stroke-width="0.7"/>
<circle cx="1366.8" cy="1052.0" r="2.3" fill="#ff0000" stroke="#000" stroke-width="0.7"/>
<circle cx="1364.9" cy="1052.1" r="2.3" fill="#ff0000" stroke="#000" stroke-width="0.7"/>
<circle cx="1363.2" cy="1053.1" r="2.3" fill="#ff0000" stroke="#000" stroke-width="0.7"/>
<circle cx="1361.7" cy="1055.1" r="2.3" fill="#ff0000" stroke="#000" stroke-width="0.7"/>
<circle cx="1360.6" cy="1057.7" r="2.3" fill="#ff0000" stroke="#000" stroke-width="0.7"/>
<circle cx="1356.3" cy="1057.5" r="2.3" fill="#ff0000" stroke="#000" stroke-width="0.7"/>
<circle cx="1353.6" cy="1058.8" r="2.3" fill="#ff0000" stroke="#000" stroke-width="0.7"/>
<circle cx="1352.1" cy="1061.6" r="2.3" fill="#ff0000" stroke="#000" stroke-width="0.7"/>
<circle cx="1349.4" cy="1062.4" r="2.3" fill="#ff0000" stroke="#000" stroke-width="0.7"/>
<circle cx="1347.5" cy="1063.4" r="2.3" fill="#ff0000" stroke="#000" stroke-width="0.7"/>
<circle cx="1347.6" cy="1066.5" r="2.3" fill="#ff0000" stroke="#000" stroke-width="0.7"/>
<circle cx="1344.0" cy="1066.3" r="2.3" fill="#ff0000" stroke="#000" stroke-width="0.7"/>
<circle cx="1341.8" cy="1068.4" r="2.3" fill="#ff0000" stroke="#000" stroke-width="0.7"/>
<circle cx="1339.0" cy="1069.0" r="2.3" fill="#ff0000" stroke="#000" stroke-width="0.7"/>
<circle cx="1338.7" cy="1070.3" r="2.3" fill="#ff0000" stroke="#000" stroke-width="0.7"/>
<ellipse cx="1303.2" cy="1007.5" rx="71.2" ry="133.3" transform="rotate(63.14 1303.2 1007.5)" fill="none" stroke="#ff0000" stroke-width="1.6"/>
</g>
<line x1="1188.0" y1="1086.0" x2="1418.0" y2="919.0" stroke="#000" stroke-width="3.6" stroke-dasharray="13 7 3 7"/>
<line x1="1228.0" y1="929.0" x2="1358.0" y2="1083.0" stroke="#000" stroke-width="3.6" stroke-dasharray="13 7 3 7"/>
<rect x="1180" y="916.6" width="244.4" height="179.0" fill="none" stroke="#555" stroke-width="1"/>
<line x1="1213.2" y1="1095.6" x2="1213.2" y2="1092.6" stroke="#555" stroke-width="1"/>
<line x1="1213.2" y1="916.6" x2="1213.2" y2="919.6" stroke="#555" stroke-width="1"/>
<text x="1213.2" y="1113.0" style="font-family:'Liberation Serif',serif;font-size:14.4px;font-weight:normal;font-style:normal" fill="#222" text-anchor="middle">-0.05</text>
<line x1="1302.0" y1="1095.6" x2="1302.0" y2="1092.6" stroke="#555" stroke-width="1"/>
<line x1="1302.0" y1="916.6" x2="1302.0" y2="919.6" stroke="#555" stroke-width="1"/>
<text x="1302.0" y="1113.0" style="font-family:'Liberation Serif',serif;font-size:14.4px;font-weight:normal;font-style:normal" fill="#222" text-anchor="middle">0</text>
<line x1="1390.8" y1="1095.6" x2="1390.8" y2="1092.6" stroke="#555" stroke-width="1"/>
<line x1="1390.8" y1="916.6" x2="1390.8" y2="919.6" stroke="#555" stroke-width="1"/>
<text x="1390.8" y="1113.0" style="font-family:'Liberation Serif',serif;font-size:14.4px;font-weight:normal;font-style:normal" fill="#222" text-anchor="middle">0.05</text>
<line x1="1180.0" y1="919.3" x2="1183.0" y2="919.3" stroke="#555" stroke-width="1"/>
<line x1="1424.4" y1="919.3" x2="1421.4" y2="919.3" stroke="#555" stroke-width="1"/>
<text x="1175.0" y="924.3" style="font-family:'Liberation Serif',serif;font-size:14.4px;font-weight:normal;font-style:normal" fill="#222" text-anchor="end">0.06</text>
<line x1="1180.0" y1="946.3" x2="1183.0" y2="946.3" stroke="#555" stroke-width="1"/>
<line x1="1424.4" y1="946.3" x2="1421.4" y2="946.3" stroke="#555" stroke-width="1"/>
<text x="1175.0" y="951.3" style="font-family:'Liberation Serif',serif;font-size:14.4px;font-weight:normal;font-style:normal" fill="#222" text-anchor="end">0.04</text>
<line x1="1180.0" y1="973.4" x2="1183.0" y2="973.4" stroke="#555" stroke-width="1"/>
<line x1="1424.4" y1="973.4" x2="1421.4" y2="973.4" stroke="#555" stroke-width="1"/>
<text x="1175.0" y="978.4" style="font-family:'Liberation Serif',serif;font-size:14.4px;font-weight:normal;font-style:normal" fill="#222" text-anchor="end">0.02</text>
<line x1="1180.0" y1="1000.4" x2="1183.0" y2="1000.4" stroke="#555" stroke-width="1"/>
<line x1="1424.4" y1="1000.4" x2="1421.4" y2="1000.4" stroke="#555" stroke-width="1"/>
<text x="1175.0" y="1005.4" style="font-family:'Liberation Serif',serif;font-size:14.4px;font-weight:normal;font-style:normal" fill="#222" text-anchor="end">0</text>
<line x1="1180.0" y1="1027.4" x2="1183.0" y2="1027.4" stroke="#555" stroke-width="1"/>
<line x1="1424.4" y1="1027.4" x2="1421.4" y2="1027.4" stroke="#555" stroke-width="1"/>
<text x="1175.0" y="1032.4" style="font-family:'Liberation Serif',serif;font-size:14.4px;font-weight:normal;font-style:normal" fill="#222" text-anchor="end">-0.02</text>
<line x1="1180.0" y1="1054.5" x2="1183.0" y2="1054.5" stroke="#555" stroke-width="1"/>
<line x1="1424.4" y1="1054.5" x2="1421.4" y2="1054.5" stroke="#555" stroke-width="1"/>
<text x="1175.0" y="1059.5" style="font-family:'Liberation Serif',serif;font-size:14.4px;font-weight:normal;font-style:normal" fill="#222" text-anchor="end">-0.04</text>
<line x1="1180.0" y1="1081.5" x2="1183.0" y2="1081.5" stroke="#555" stroke-width="1"/>
<line x1="1424.4" y1="1081.5" x2="1421.4" y2="1081.5" stroke="#555" stroke-width="1"/>
<text x="1175.0" y="1086.5" style="font-family:'Liberation Serif',serif;font-size:14.4px;font-weight:normal;font-style:normal" fill="#222" text-anchor="end">-0.06</text>
<text x="1302.0" y="1130.0" style="font-family:'Liberation Serif',serif;font-size:15.5px;font-weight:normal;font-style:normal" fill="#222" text-anchor="middle" textLength="122.0" lengthAdjust="spacingAndGlyphs">Signal X: PD1-PD2</text>
<text transform="translate(1141,1008) rotate(-90)" style="font-family:'Liberation Serif',serif;font-size:15.5px" fill="#222" text-anchor="middle" textLength="114" lengthAdjust="spacingAndGlyphs">Signal Y: PD4-PD3</text>
<text x="1242.0" y="1072.4" style="font-family:'Liberation Serif',serif;font-size:26px;font-weight:bold;font-style:normal" fill="#000" text-anchor="start" textLength="77.0" lengthAdjust="spacingAndGlyphs">Before</text>
<circle cx="1702.1" cy="1008.6" r="2.0" fill="#ff00ff" stroke="#000" stroke-width="0.6"/>
<circle cx="1701.9" cy="1007.3" r="2.0" fill="#ff00ff" stroke="#000" stroke-width="0.6"/>
<circle cx="1703.5" cy="1004.6" r="2.0" fill="#ff00ff" stroke="#000" stroke-width="0.6"/>
<circle cx="1701.9" cy="1002.6" r="2.0" fill="#ff00ff" stroke="#000" stroke-width="0.6"/>
<circle cx="1704.5" cy="1001.6" r="2.0" fill="#ff00ff" stroke="#000" stroke-width="0.6"/>
<circle cx="1700.4" cy="1000.3" r="2.0" fill="#ff00ff" stroke="#000" stroke-width="0.6"/>
<circle cx="1704.5" cy="998.0" r="2.0" fill="#ff00ff" stroke="#000" stroke-width="0.6"/>
<circle cx="1698.9" cy="995.7" r="2.0" fill="#ff00ff" stroke="#000" stroke-width="0.6"/>
<circle cx="1700.0" cy="994.4" r="2.0" fill="#ff00ff" stroke="#000" stroke-width="0.6"/>
<circle cx="1700.7" cy="992.3" r="2.0" fill="#ff00ff" stroke="#000" stroke-width="0.6"/>
<circle cx="1698.0" cy="991.6" r="2.0" fill="#ff00ff" stroke="#000" stroke-width="0.6"/>
<circle cx="1698.6" cy="990.0" r="2.0" fill="#ff00ff" stroke="#000" stroke-width="0.6"/>
<circle cx="1700.4" cy="987.1" r="2.0" fill="#ff00ff" stroke="#000" stroke-width="0.6"/>
<circle cx="1698.4" cy="986.8" r="2.0" fill="#ff00ff" stroke="#000" stroke-width="0.6"/>
<circle cx="1696.7" cy="984.8" r="2.0" fill="#ff00ff" stroke="#000" stroke-width="0.6"/>
<circle cx="1698.8" cy="982.1" r="2.0" fill="#ff00ff" stroke="#000" stroke-width="0.6"/>
<circle cx="1696.7" cy="980.4" r="2.0" fill="#ff00ff" stroke="#000" stroke-width="0.6"/>
<circle cx="1697.0" cy="978.7" r="2.0" fill="#ff00ff" stroke="#000" stroke-width="0.6"/>
<circle cx="1697.9" cy="976.6" r="2.0" fill="#ff00ff" stroke="#000" stroke-width="0.6"/>
<circle cx="1694.9" cy="976.7" r="2.0" fill="#ff00ff" stroke="#000" stroke-width="0.6"/>
<circle cx="1694.4" cy="974.3" r="2.0" fill="#ff00ff" stroke="#000" stroke-width="0.6"/>
<circle cx="1697.6" cy="970.5" r="2.0" fill="#ff00ff" stroke="#000" stroke-width="0.6"/>
<circle cx="1688.9" cy="973.5" r="2.0" fill="#ff00ff" stroke="#000" stroke-width="0.6"/>
<circle cx="1691.6" cy="969.9" r="2.0" fill="#ff00ff" stroke="#000" stroke-width="0.6"/>
<circle cx="1689.1" cy="969.3" r="2.0" fill="#ff00ff" stroke="#000" stroke-width="0.6"/>
<circle cx="1689.9" cy="966.6" r="2.0" fill="#ff00ff" stroke="#000" stroke-width="0.6"/>
<circle cx="1687.2" cy="966.6" r="2.0" fill="#ff00ff" stroke="#000" stroke-width="0.6"/>
<circle cx="1685.7" cy="963.5" r="2.0" fill="#ff00ff" stroke="#000" stroke-width="0.6"/>
<circle cx="1683.9" cy="963.7" r="2.0" fill="#ff00ff" stroke="#000" stroke-width="0.6"/>
<circle cx="1686.3" cy="960.7" r="2.0" fill="#ff00ff" stroke="#000" stroke-width="0.6"/>
<circle cx="1683.2" cy="959.0" r="2.0" fill="#ff00ff" stroke="#000" stroke-width="0.6"/>
<circle cx="1681.5" cy="958.0" r="2.0" fill="#ff00ff" stroke="#000" stroke-width="0.6"/>
<circle cx="1680.1" cy="958.4" r="2.0" fill="#ff00ff" stroke="#000" stroke-width="0.6"/>
<circle cx="1681.3" cy="953.8" r="2.0" fill="#ff00ff" stroke="#000" stroke-width="0.6"/>
<circle cx="1676.2" cy="956.1" r="2.0" fill="#ff00ff" stroke="#000" stroke-width="0.6"/>
<circle cx="1679.0" cy="951.9" r="2.0" fill="#ff00ff" stroke="#000" stroke-width="0.6"/>
<circle cx="1676.8" cy="951.5" r="2.0" fill="#ff00ff" stroke="#000" stroke-width="0.6"/>
<circle cx="1674.1" cy="951.3" r="2.0" fill="#ff00ff" stroke="#000" stroke-width="0.6"/>
<circle cx="1672.6" cy="948.6" r="2.0" fill="#ff00ff" stroke="#000" stroke-width="0.6"/>
<circle cx="1669.2" cy="949.4" r="2.0" fill="#ff00ff" stroke="#000" stroke-width="0.6"/>
<circle cx="1671.5" cy="944.8" r="2.0" fill="#ff00ff" stroke="#000" stroke-width="0.6"/>
<circle cx="1666.4" cy="946.9" r="2.0" fill="#ff00ff" stroke="#000" stroke-width="0.6"/>
<circle cx="1666.4" cy="945.3" r="2.0" fill="#ff00ff" stroke="#000" stroke-width="0.6"/>
<circle cx="1666.9" cy="942.5" r="2.0" fill="#ff00ff" stroke="#000" stroke-width="0.6"/>
<circle cx="1662.9" cy="942.6" r="2.0" fill="#ff00ff" stroke="#000" stroke-width="0.6"/>
<circle cx="1662.4" cy="941.0" r="2.0" fill="#ff00ff" stroke="#000" stroke-width="0.6"/>
<circle cx="1660.9" cy="940.2" r="2.0" fill="#ff00ff" stroke="#000" stroke-width="0.6"/>
<circle cx="1657.7" cy="940.0" r="2.0" fill="#ff00ff" stroke="#000" stroke-width="0.6"/>
<circle cx="1657.1" cy="939.3" r="2.0" fill="#ff00ff" stroke="#000" stroke-width="0.6"/>
<circle cx="1656.0" cy="934.4" r="2.0" fill="#ff00ff" stroke="#000" stroke-width="0.6"/>
<circle cx="1653.8" cy="935.0" r="2.0" fill="#ff00ff" stroke="#000" stroke-width="0.6"/>
<circle cx="1651.8" cy="934.6" r="2.0" fill="#ff00ff" stroke="#000" stroke-width="0.6"/>
<circle cx="1649.6" cy="934.6" r="2.0" fill="#ff00ff" stroke="#000" stroke-width="0.6"/>
<circle cx="1647.8" cy="935.6" r="2.0" fill="#ff00ff" stroke="#000" stroke-width="0.6"/>
<circle cx="1645.8" cy="935.5" r="2.0" fill="#ff00ff" stroke="#000" stroke-width="0.6"/>
<circle cx="1644.2" cy="931.4" r="2.0" fill="#ff00ff" stroke="#000" stroke-width="0.6"/>
<circle cx="1641.4" cy="932.5" r="2.0" fill="#ff00ff" stroke="#000" stroke-width="0.6"/>
<circle cx="1640.9" cy="931.8" r="2.0" fill="#ff00ff" stroke="#000" stroke-width="0.6"/>
<circle cx="1637.4" cy="932.1" r="2.0" fill="#ff00ff" stroke="#000" stroke-width="0.6"/>
<circle cx="1635.5" cy="932.5" r="2.0" fill="#ff00ff" stroke="#000" stroke-width="0.6"/>
<circle cx="1634.4" cy="929.2" r="2.0" fill="#ff00ff" stroke="#000" stroke-width="0.6"/>
<circle cx="1632.9" cy="930.6" r="2.0" fill="#ff00ff" stroke="#000" stroke-width="0.6"/>
<circle cx="1631.1" cy="925.1" r="2.0" fill="#ff00ff" stroke="#000" stroke-width="0.6"/>
<circle cx="1628.9" cy="925.2" r="2.0" fill="#ff00ff" stroke="#000" stroke-width="0.6"/>
<circle cx="1626.5" cy="928.0" r="2.0" fill="#ff00ff" stroke="#000" stroke-width="0.6"/>
<circle cx="1624.7" cy="925.2" r="2.0" fill="#ff00ff" stroke="#000" stroke-width="0.6"/>
<circle cx="1622.4" cy="928.2" r="2.0" fill="#ff00ff" stroke="#000" stroke-width="0.6"/>
<circle cx="1620.8" cy="924.6" r="2.0" fill="#ff00ff" stroke="#000" stroke-width="0.6"/>
<circle cx="1620.2" cy="922.9" r="2.0" fill="#ff00ff" stroke="#000" stroke-width="0.6"/>
<circle cx="1617.4" cy="925.0" r="2.0" fill="#ff00ff" stroke="#000" stroke-width="0.6"/>
<circle cx="1614.6" cy="922.2" r="2.0" fill="#ff00ff" stroke="#000" stroke-width="0.6"/>
<circle cx="1612.3" cy="929.1" r="2.0" fill="#ff00ff" stroke="#000" stroke-width="0.6"/>
<circle cx="1610.5" cy="925.6" r="2.0" fill="#ff00ff" stroke="#000" stroke-width="0.6"/>
<circle cx="1608.7" cy="925.8" r="2.0" fill="#ff00ff" stroke="#000" stroke-width="0.6"/>
<circle cx="1606.2" cy="924.2" r="2.0" fill="#ff00ff" stroke="#000" stroke-width="0.6"/>
<circle cx="1604.7" cy="925.3" r="2.0" fill="#ff00ff" stroke="#000" stroke-width="0.6"/>
<circle cx="1601.9" cy="924.4" r="2.0" fill="#ff00ff" stroke="#000" stroke-width="0.6"/>
<circle cx="1600.1" cy="925.1" r="2.0" fill="#ff00ff" stroke="#000" stroke-width="0.6"/>
<circle cx="1597.9" cy="926.9" r="2.0" fill="#ff00ff" stroke="#000" stroke-width="0.6"/>
<circle cx="1596.0" cy="927.8" r="2.0" fill="#ff00ff" stroke="#000" stroke-width="0.6"/>
<circle cx="1594.3" cy="924.1" r="2.0" fill="#ff00ff" stroke="#000" stroke-width="0.6"/>
<circle cx="1592.5" cy="927.1" r="2.0" fill="#ff00ff" stroke="#000" stroke-width="0.6"/>
<circle cx="1589.2" cy="925.4" r="2.0" fill="#ff00ff" stroke="#000" stroke-width="0.6"/>
<circle cx="1587.3" cy="926.0" r="2.0" fill="#ff00ff" stroke="#000" stroke-width="0.6"/>
<circle cx="1585.8" cy="927.7" r="2.0" fill="#ff00ff" stroke="#000" stroke-width="0.6"/>
<circle cx="1585.3" cy="929.4" r="2.0" fill="#ff00ff" stroke="#000" stroke-width="0.6"/>
<circle cx="1581.8" cy="927.2" r="2.0" fill="#ff00ff" stroke="#000" stroke-width="0.6"/>
<circle cx="1580.1" cy="925.8" r="2.0" fill="#ff00ff" stroke="#000" stroke-width="0.6"/>
<circle cx="1579.8" cy="932.7" r="2.0" fill="#ff00ff" stroke="#000" stroke-width="0.6"/>
<circle cx="1576.4" cy="931.2" r="2.0" fill="#ff00ff" stroke="#000" stroke-width="0.6"/>
<circle cx="1572.9" cy="925.3" r="2.0" fill="#ff00ff" stroke="#000" stroke-width="0.6"/>
<circle cx="1572.9" cy="929.5" r="2.0" fill="#ff00ff" stroke="#000" stroke-width="0.6"/>
<circle cx="1569.5" cy="930.0" r="2.0" fill="#ff00ff" stroke="#000" stroke-width="0.6"/>
<circle cx="1567.6" cy="929.0" r="2.0" fill="#ff00ff" stroke="#000" stroke-width="0.6"/>
<circle cx="1565.6" cy="929.1" r="2.0" fill="#ff00ff" stroke="#000" stroke-width="0.6"/>
<circle cx="1563.6" cy="932.2" r="2.0" fill="#ff00ff" stroke="#000" stroke-width="0.6"/>
<circle cx="1561.4" cy="932.3" r="2.0" fill="#ff00ff" stroke="#000" stroke-width="0.6"/>
<circle cx="1561.1" cy="935.0" r="2.0" fill="#ff00ff" stroke="#000" stroke-width="0.6"/>
<circle cx="1559.0" cy="934.7" r="2.0" fill="#ff00ff" stroke="#000" stroke-width="0.6"/>
<circle cx="1558.6" cy="937.2" r="2.0" fill="#ff00ff" stroke="#000" stroke-width="0.6"/>
<circle cx="1554.1" cy="935.8" r="2.0" fill="#ff00ff" stroke="#000" stroke-width="0.6"/>
<circle cx="1552.7" cy="936.8" r="2.0" fill="#ff00ff" stroke="#000" stroke-width="0.6"/>
<circle cx="1551.9" cy="937.2" r="2.0" fill="#ff00ff" stroke="#000" stroke-width="0.6"/>
<circle cx="1549.4" cy="938.4" r="2.0" fill="#ff00ff" stroke="#000" stroke-width="0.6"/>
<circle cx="1551.0" cy="942.4" r="2.0" fill="#ff00ff" stroke="#000" stroke-width="0.6"/>
<circle cx="1547.4" cy="941.2" r="2.0" fill="#ff00ff" stroke="#000" stroke-width="0.6"/>
<circle cx="1547.0" cy="942.9" r="2.0" fill="#ff00ff" stroke="#000" stroke-width="0.6"/>
<circle cx="1543.8" cy="943.8" r="2.0" fill="#ff00ff" stroke="#000" stroke-width="0.6"/>
<circle cx="1541.6" cy="943.4" r="2.0" fill="#ff00ff" stroke="#000" stroke-width="0.6"/>
<circle cx="1537.8" cy="944.1" r="2.0" fill="#ff00ff" stroke="#000" stroke-width="0.6"/>
<circle cx="1539.6" cy="946.5" r="2.0" fill="#ff00ff" stroke="#000" stroke-width="0.6"/>
<circle cx="1538.4" cy="948.6" r="2.0" fill="#ff00ff" stroke="#000" stroke-width="0.6"/>
<circle cx="1536.6" cy="949.5" r="2.0" fill="#ff00ff" stroke="#000" stroke-width="0.6"/>
<circle cx="1534.1" cy="950.8" r="2.0" fill="#ff00ff" stroke="#000" stroke-width="0.6"/>
<circle cx="1533.9" cy="951.2" r="2.0" fill="#ff00ff" stroke="#000" stroke-width="0.6"/>
<circle cx="1530.7" cy="953.1" r="2.0" fill="#ff00ff" stroke="#000" stroke-width="0.6"/>
<circle cx="1529.6" cy="952.9" r="2.0" fill="#ff00ff" stroke="#000" stroke-width="0.6"/>
<circle cx="1531.1" cy="957.3" r="2.0" fill="#ff00ff" stroke="#000" stroke-width="0.6"/>
<circle cx="1530.4" cy="958.2" r="2.0" fill="#ff00ff" stroke="#000" stroke-width="0.6"/>
<circle cx="1527.8" cy="958.5" r="2.0" fill="#ff00ff" stroke="#000" stroke-width="0.6"/>
<circle cx="1526.4" cy="959.7" r="2.0" fill="#ff00ff" stroke="#000" stroke-width="0.6"/>
<circle cx="1522.2" cy="958.8" r="2.0" fill="#ff00ff" stroke="#000" stroke-width="0.6"/>
<circle cx="1523.0" cy="963.0" r="2.0" fill="#ff00ff" stroke="#000" stroke-width="0.6"/>
<circle cx="1520.1" cy="963.1" r="2.0" fill="#ff00ff" stroke="#000" stroke-width="0.6"/>
<circle cx="1522.3" cy="966.4" r="2.0" fill="#ff00ff" stroke="#000" stroke-width="0.6"/>
<circle cx="1521.7" cy="968.2" r="2.0" fill="#ff00ff" stroke="#000" stroke-width="0.6"/>
<circle cx="1513.6" cy="966.9" r="2.0" fill="#ff00ff" stroke="#000" stroke-width="0.6"/>
<circle cx="1515.8" cy="969.1" r="2.0" fill="#ff00ff" stroke="#000" stroke-width="0.6"/>
<circle cx="1518.7" cy="971.8" r="2.0" fill="#ff00ff" stroke="#000" stroke-width="0.6"/>
<circle cx="1516.0" cy="973.2" r="2.0" fill="#ff00ff" stroke="#000" stroke-width="0.6"/>
<circle cx="1511.6" cy="972.8" r="2.0" fill="#ff00ff" stroke="#000" stroke-width="0.6"/>
<circle cx="1513.7" cy="975.2" r="2.0" fill="#ff00ff" stroke="#000" stroke-width="0.6"/>
<circle cx="1514.6" cy="977.4" r="2.0" fill="#ff00ff" stroke="#000" stroke-width="0.6"/>
<circle cx="1510.8" cy="979.2" r="2.0" fill="#ff00ff" stroke="#000" stroke-width="0.6"/>
<circle cx="1511.2" cy="980.5" r="2.0" fill="#ff00ff" stroke="#000" stroke-width="0.6"/>
<circle cx="1514.8" cy="984.1" r="2.0" fill="#ff00ff" stroke="#000" stroke-width="0.6"/>
<circle cx="1506.4" cy="982.8" r="2.0" fill="#ff00ff" stroke="#000" stroke-width="0.6"/>
<circle cx="1508.0" cy="985.7" r="2.0" fill="#ff00ff" stroke="#000" stroke-width="0.6"/>
<circle cx="1509.5" cy="988.4" r="2.0" fill="#ff00ff" stroke="#000" stroke-width="0.6"/>
<circle cx="1510.0" cy="989.7" r="2.0" fill="#ff00ff" stroke="#000" stroke-width="0.6"/>
<circle cx="1510.3" cy="990.5" r="2.0" fill="#ff00ff" stroke="#000" stroke-width="0.6"/>
<circle cx="1511.7" cy="993.7" r="2.0" fill="#ff00ff" stroke="#000" stroke-width="0.6"/>
<circle cx="1507.7" cy="993.9" r="2.0" fill="#ff00ff" stroke="#000" stroke-width="0.6"/>
<circle cx="1508.8" cy="996.3" r="2.0" fill="#ff00ff" stroke="#000" stroke-width="0.6"/>
<circle cx="1509.5" cy="998.4" r="2.0" fill="#ff00ff" stroke="#000" stroke-width="0.6"/>
<circle cx="1508.5" cy="1000.2" r="2.0" fill="#ff00ff" stroke="#000" stroke-width="0.6"/>
<circle cx="1502.6" cy="1001.0" r="2.0" fill="#ff00ff" stroke="#000" stroke-width="0.6"/>
<circle cx="1508.0" cy="1003.5" r="2.0" fill="#ff00ff" stroke="#000" stroke-width="0.6"/>
<circle cx="1504.4" cy="1004.2" r="2.0" fill="#ff00ff" stroke="#000" stroke-width="0.6"/>
<circle cx="1503.6" cy="1006.7" r="2.0" fill="#ff00ff" stroke="#000" stroke-width="0.6"/>
<circle cx="1506.3" cy="1008.8" r="2.0" fill="#ff00ff" stroke="#000" stroke-width="0.6"/>
<circle cx="1505.0" cy="1010.7" r="2.0" fill="#ff00ff" stroke="#000" stroke-width="0.6"/>
<circle cx="1508.6" cy="1012.4" r="2.0" fill="#ff00ff" stroke="#000" stroke-width="0.6"/>
<circle cx="1507.4" cy="1013.8" r="2.0" fill="#ff00ff" stroke="#000" stroke-width="0.6"/>
<circle cx="1506.5" cy="1015.0" r="2.0" fill="#ff00ff" stroke="#000" stroke-width="0.6"/>
<circle cx="1508.8" cy="1016.0" r="2.0" fill="#ff00ff" stroke="#000" stroke-width="0.6"/>
<circle cx="1508.9" cy="1017.8" r="2.0" fill="#ff00ff" stroke="#000" stroke-width="0.6"/>
<circle cx="1503.6" cy="1020.3" r="2.0" fill="#ff00ff" stroke="#000" stroke-width="0.6"/>
<circle cx="1505.4" cy="1022.1" r="2.0" fill="#ff00ff" stroke="#000" stroke-width="0.6"/>
<circle cx="1508.4" cy="1024.4" r="2.0" fill="#ff00ff" stroke="#000" stroke-width="0.6"/>
<circle cx="1510.7" cy="1025.3" r="2.0" fill="#ff00ff" stroke="#000" stroke-width="0.6"/>
<circle cx="1508.9" cy="1027.7" r="2.0" fill="#ff00ff" stroke="#000" stroke-width="0.6"/>
<circle cx="1511.3" cy="1027.7" r="2.0" fill="#ff00ff" stroke="#000" stroke-width="0.6"/>
<circle cx="1510.3" cy="1029.9" r="2.0" fill="#ff00ff" stroke="#000" stroke-width="0.6"/>
<circle cx="1510.8" cy="1032.9" r="2.0" fill="#ff00ff" stroke="#000" stroke-width="0.6"/>
<circle cx="1510.9" cy="1033.8" r="2.0" fill="#ff00ff" stroke="#000" stroke-width="0.6"/>
<circle cx="1513.3" cy="1035.5" r="2.0" fill="#ff00ff" stroke="#000" stroke-width="0.6"/>
<circle cx="1510.9" cy="1037.1" r="2.0" fill="#ff00ff" stroke="#000" stroke-width="0.6"/>
<circle cx="1511.3" cy="1040.3" r="2.0" fill="#ff00ff" stroke="#000" stroke-width="0.6"/>
<circle cx="1515.0" cy="1040.6" r="2.0" fill="#ff00ff" stroke="#000" stroke-width="0.6"/>
<circle cx="1514.4" cy="1041.8" r="2.0" fill="#ff00ff" stroke="#000" stroke-width="0.6"/>
<circle cx="1516.4" cy="1042.7" r="2.0" fill="#ff00ff" stroke="#000" stroke-width="0.6"/>
<circle cx="1515.9" cy="1044.6" r="2.0" fill="#ff00ff" stroke="#000" stroke-width="0.6"/>
<circle cx="1515.4" cy="1048.0" r="2.0" fill="#ff00ff" stroke="#000" stroke-width="0.6"/>
<circle cx="1519.7" cy="1048.0" r="2.0" fill="#ff00ff" stroke="#000" stroke-width="0.6"/>
<circle cx="1521.1" cy="1049.6" r="2.0" fill="#ff00ff" stroke="#000" stroke-width="0.6"/>
<circle cx="1521.3" cy="1051.5" r="2.0" fill="#ff00ff" stroke="#000" stroke-width="0.6"/>
<circle cx="1522.7" cy="1052.9" r="2.0" fill="#ff00ff" stroke="#000" stroke-width="0.6"/>
<circle cx="1522.0" cy="1053.7" r="2.0" fill="#ff00ff" stroke="#000" stroke-width="0.6"/>
<circle cx="1523.7" cy="1055.5" r="2.0" fill="#ff00ff" stroke="#000" stroke-width="0.6"/>
<circle cx="1530.6" cy="1053.0" r="2.0" fill="#ff00ff" stroke="#000" stroke-width="0.6"/>
<circle cx="1529.6" cy="1056.8" r="2.0" fill="#ff00ff" stroke="#000" stroke-width="0.6"/>
<circle cx="1525.6" cy="1060.6" r="2.0" fill="#ff00ff" stroke="#000" stroke-width="0.6"/>
<circle cx="1529.8" cy="1061.0" r="2.0" fill="#ff00ff" stroke="#000" stroke-width="0.6"/>
<circle cx="1529.9" cy="1061.8" r="2.0" fill="#ff00ff" stroke="#000" stroke-width="0.6"/>
<circle cx="1533.0" cy="1063.7" r="2.0" fill="#ff00ff" stroke="#000" stroke-width="0.6"/>
<circle cx="1530.7" cy="1065.8" r="2.0" fill="#ff00ff" stroke="#000" stroke-width="0.6"/>
<circle cx="1532.9" cy="1067.2" r="2.0" fill="#ff00ff" stroke="#000" stroke-width="0.6"/>
<circle cx="1535.4" cy="1067.3" r="2.0" fill="#ff00ff" stroke="#000" stroke-width="0.6"/>
<circle cx="1536.0" cy="1068.7" r="2.0" fill="#ff00ff" stroke="#000" stroke-width="0.6"/>
<circle cx="1539.0" cy="1070.6" r="2.0" fill="#ff00ff" stroke="#000" stroke-width="0.6"/>
<circle cx="1541.6" cy="1070.2" r="2.0" fill="#ff00ff" stroke="#000" stroke-width="0.6"/>
<circle cx="1541.8" cy="1071.5" r="2.0" fill="#ff00ff" stroke="#000" stroke-width="0.6"/>
<circle cx="1542.4" cy="1075.6" r="2.0" fill="#ff00ff" stroke="#000" stroke-width="0.6"/>
<circle cx="1544.4" cy="1075.0" r="2.0" fill="#ff00ff" stroke="#000" stroke-width="0.6"/>
<circle cx="1544.8" cy="1078.9" r="2.0" fill="#ff00ff" stroke="#000" stroke-width="0.6"/>
<circle cx="1547.5" cy="1076.9" r="2.0" fill="#ff00ff" stroke="#000" stroke-width="0.6"/>
<circle cx="1551.5" cy="1075.3" r="2.0" fill="#ff00ff" stroke="#000" stroke-width="0.6"/>
<circle cx="1551.4" cy="1078.8" r="2.0" fill="#ff00ff" stroke="#000" stroke-width="0.6"/>
<circle cx="1553.1" cy="1078.4" r="2.0" fill="#ff00ff" stroke="#000" stroke-width="0.6"/>
<circle cx="1557.1" cy="1078.2" r="2.0" fill="#ff00ff" stroke="#000" stroke-width="0.6"/>
<circle cx="1558.0" cy="1078.5" r="2.0" fill="#ff00ff" stroke="#000" stroke-width="0.6"/>
<circle cx="1558.1" cy="1083.5" r="2.0" fill="#ff00ff" stroke="#000" stroke-width="0.6"/>
<circle cx="1560.0" cy="1083.8" r="2.0" fill="#ff00ff" stroke="#000" stroke-width="0.6"/>
<circle cx="1563.6" cy="1082.1" r="2.0" fill="#ff00ff" stroke="#000" stroke-width="0.6"/>
<circle cx="1565.5" cy="1083.7" r="2.0" fill="#ff00ff" stroke="#000" stroke-width="0.6"/>
<circle cx="1566.4" cy="1084.4" r="2.0" fill="#ff00ff" stroke="#000" stroke-width="0.6"/>
<circle cx="1568.6" cy="1086.5" r="2.0" fill="#ff00ff" stroke="#000" stroke-width="0.6"/>
<circle cx="1570.7" cy="1086.5" r="2.0" fill="#ff00ff" stroke="#000" stroke-width="0.6"/>
<circle cx="1570.8" cy="1088.7" r="2.0" fill="#ff00ff" stroke="#000" stroke-width="0.6"/>
<circle cx="1575.1" cy="1086.6" r="2.0" fill="#ff00ff" stroke="#000" stroke-width="0.6"/>
<circle cx="1574.9" cy="1090.2" r="2.0" fill="#ff00ff" stroke="#000" stroke-width="0.6"/>
<circle cx="1577.5" cy="1089.3" r="2.0" fill="#ff00ff" stroke="#000" stroke-width="0.6"/>
<circle cx="1579.4" cy="1088.8" r="2.0" fill="#ff00ff" stroke="#000" stroke-width="0.6"/>
<circle cx="1581.5" cy="1089.0" r="2.0" fill="#ff00ff" stroke="#000" stroke-width="0.6"/>
<circle cx="1583.8" cy="1090.2" r="2.0" fill="#ff00ff" stroke="#000" stroke-width="0.6"/>
<circle cx="1586.3" cy="1091.2" r="2.0" fill="#ff00ff" stroke="#000" stroke-width="0.6"/>
<circle cx="1588.0" cy="1089.5" r="2.0" fill="#ff00ff" stroke="#000" stroke-width="0.6"/>
<circle cx="1589.5" cy="1089.5" r="2.0" fill="#ff00ff" stroke="#000" stroke-width="0.6"/>
<circle cx="1592.3" cy="1090.1" r="2.0" fill="#ff00ff" stroke="#000" stroke-width="0.6"/>
<circle cx="1595.0" cy="1090.2" r="2.0" fill="#ff00ff" stroke="#000" stroke-width="0.6"/>
<circle cx="1595.3" cy="1092.4" r="2.0" fill="#ff00ff" stroke="#000" stroke-width="0.6"/>
<circle cx="1598.3" cy="1092.2" r="2.0" fill="#ff00ff" stroke="#000" stroke-width="0.6"/>
<circle cx="1599.8" cy="1088.4" r="2.0" fill="#ff00ff" stroke="#000" stroke-width="0.6"/>
<circle cx="1602.8" cy="1090.3" r="2.0" fill="#ff00ff" stroke="#000" stroke-width="0.6"/>
<circle cx="1605.0" cy="1089.2" r="2.0" fill="#ff00ff" stroke="#000" stroke-width="0.6"/>
<circle cx="1607.1" cy="1090.8" r="2.0" fill="#ff00ff" stroke="#000" stroke-width="0.6"/>
<circle cx="1608.8" cy="1090.4" r="2.0" fill="#ff00ff" stroke="#000" stroke-width="0.6"/>
<circle cx="1610.3" cy="1089.8" r="2.0" fill="#ff00ff" stroke="#000" stroke-width="0.6"/>
<circle cx="1613.4" cy="1091.8" r="2.0" fill="#ff00ff" stroke="#000" stroke-width="0.6"/>
<circle cx="1614.3" cy="1090.0" r="2.0" fill="#ff00ff" stroke="#000" stroke-width="0.6"/>
<circle cx="1616.1" cy="1090.9" r="2.0" fill="#ff00ff" stroke="#000" stroke-width="0.6"/>
<circle cx="1619.4" cy="1089.8" r="2.0" fill="#ff00ff" stroke="#000" stroke-width="0.6"/>
<circle cx="1621.4" cy="1090.9" r="2.0" fill="#ff00ff" stroke="#000" stroke-width="0.6"/>
<circle cx="1622.1" cy="1090.8" r="2.0" fill="#ff00ff" stroke="#000" stroke-width="0.6"/>
<circle cx="1624.6" cy="1088.9" r="2.0" fill="#ff00ff" stroke="#000" stroke-width="0.6"/>
<circle cx="1626.0" cy="1089.8" r="2.0" fill="#ff00ff" stroke="#000" stroke-width="0.6"/>
<circle cx="1628.5" cy="1088.9" r="2.0" fill="#ff00ff" stroke="#000" stroke-width="0.6"/>
<circle cx="1630.9" cy="1090.5" r="2.0" fill="#ff00ff" stroke="#000" stroke-width="0.6"/>
<circle cx="1632.1" cy="1086.5" r="2.0" fill="#ff00ff" stroke="#000" stroke-width="0.6"/>
<circle cx="1635.1" cy="1087.3" r="2.0" fill="#ff00ff" stroke="#000" stroke-width="0.6"/>
<circle cx="1635.8" cy="1086.7" r="2.0" fill="#ff00ff" stroke="#000" stroke-width="0.6"/>
<circle cx="1639.2" cy="1085.4" r="2.0" fill="#ff00ff" stroke="#000" stroke-width="0.6"/>
<circle cx="1642.7" cy="1088.1" r="2.0" fill="#ff00ff" stroke="#000" stroke-width="0.6"/>
<circle cx="1642.8" cy="1085.1" r="2.0" fill="#ff00ff" stroke="#000" stroke-width="0.6"/>
<circle cx="1644.8" cy="1085.7" r="2.0" fill="#ff00ff" stroke="#000" stroke-width="0.6"/>
<circle cx="1646.5" cy="1085.1" r="2.0" fill="#ff00ff" stroke="#000" stroke-width="0.6"/>
<circle cx="1648.2" cy="1082.9" r="2.0" fill="#ff00ff" stroke="#000" stroke-width="0.6"/>
<circle cx="1649.9" cy="1082.3" r="2.0" fill="#ff00ff" stroke="#000" stroke-width="0.6"/>
<circle cx="1651.1" cy="1079.7" r="2.0" fill="#ff00ff" stroke="#000" stroke-width="0.6"/>
<circle cx="1652.9" cy="1079.0" r="2.0" fill="#ff00ff" stroke="#000" stroke-width="0.6"/>
<circle cx="1655.4" cy="1079.2" r="2.0" fill="#ff00ff" stroke="#000" stroke-width="0.6"/>
<circle cx="1655.0" cy="1076.0" r="2.0" fill="#ff00ff" stroke="#000" stroke-width="0.6"/>
<circle cx="1660.3" cy="1078.1" r="2.0" fill="#ff00ff" stroke="#000" stroke-width="0.6"/>
<circle cx="1661.4" cy="1079.1" r="2.0" fill="#ff00ff" stroke="#000" stroke-width="0.6"/>
<circle cx="1661.2" cy="1073.4" r="2.0" fill="#ff00ff" stroke="#000" stroke-width="0.6"/>
<circle cx="1664.7" cy="1074.6" r="2.0" fill="#ff00ff" stroke="#000" stroke-width="0.6"/>
<circle cx="1667.0" cy="1074.0" r="2.0" fill="#ff00ff" stroke="#000" stroke-width="0.6"/>
<circle cx="1666.0" cy="1071.5" r="2.0" fill="#ff00ff" stroke="#000" stroke-width="0.6"/>
<circle cx="1667.1" cy="1070.4" r="2.0" fill="#ff00ff" stroke="#000" stroke-width="0.6"/>
<circle cx="1667.7" cy="1068.3" r="2.0" fill="#ff00ff" stroke="#000" stroke-width="0.6"/>
<circle cx="1672.7" cy="1069.1" r="2.0" fill="#ff00ff" stroke="#000" stroke-width="0.6"/>
<circle cx="1673.6" cy="1066.9" r="2.0" fill="#ff00ff" stroke="#000" stroke-width="0.6"/>
<circle cx="1675.3" cy="1066.4" r="2.0" fill="#ff00ff" stroke="#000" stroke-width="0.6"/>
<circle cx="1674.2" cy="1064.6" r="2.0" fill="#ff00ff" stroke="#000" stroke-width="0.6"/>
<circle cx="1677.9" cy="1063.2" r="2.0" fill="#ff00ff" stroke="#000" stroke-width="0.6"/>
<circle cx="1680.5" cy="1062.9" r="2.0" fill="#ff00ff" stroke="#000" stroke-width="0.6"/>
<circle cx="1680.4" cy="1060.6" r="2.0" fill="#ff00ff" stroke="#000" stroke-width="0.6"/>
<circle cx="1682.4" cy="1060.3" r="2.0" fill="#ff00ff" stroke="#000" stroke-width="0.6"/>
<circle cx="1684.5" cy="1059.2" r="2.0" fill="#ff00ff" stroke="#000" stroke-width="0.6"/>
<circle cx="1684.0" cy="1057.1" r="2.0" fill="#ff00ff" stroke="#000" stroke-width="0.6"/>
<circle cx="1685.1" cy="1056.7" r="2.0" fill="#ff00ff" stroke="#000" stroke-width="0.6"/>
<circle cx="1687.9" cy="1054.5" r="2.0" fill="#ff00ff" stroke="#000" stroke-width="0.6"/>
<circle cx="1688.1" cy="1054.1" r="2.0" fill="#ff00ff" stroke="#000" stroke-width="0.6"/>
<circle cx="1690.3" cy="1052.2" r="2.0" fill="#ff00ff" stroke="#000" stroke-width="0.6"/>
<circle cx="1686.1" cy="1047.5" r="2.0" fill="#ff00ff" stroke="#000" stroke-width="0.6"/>
<circle cx="1690.9" cy="1047.6" r="2.0" fill="#ff00ff" stroke="#000" stroke-width="0.6"/>
<circle cx="1690.9" cy="1046.6" r="2.0" fill="#ff00ff" stroke="#000" stroke-width="0.6"/>
<circle cx="1696.3" cy="1045.9" r="2.0" fill="#ff00ff" stroke="#000" stroke-width="0.6"/>
<circle cx="1693.4" cy="1043.5" r="2.0" fill="#ff00ff" stroke="#000" stroke-width="0.6"/>
<circle cx="1695.2" cy="1041.8" r="2.0" fill="#ff00ff" stroke="#000" stroke-width="0.6"/>
<circle cx="1698.1" cy="1041.7" r="2.0" fill="#ff00ff" stroke="#000" stroke-width="0.6"/>
<circle cx="1691.7" cy="1036.8" r="2.0" fill="#ff00ff" stroke="#000" stroke-width="0.6"/>
<circle cx="1695.7" cy="1036.7" r="2.0" fill="#ff00ff" stroke="#000" stroke-width="0.6"/>
<circle cx="1692.8" cy="1034.8" r="2.0" fill="#ff00ff" stroke="#000" stroke-width="0.6"/>
<circle cx="1700.9" cy="1034.3" r="2.0" fill="#ff00ff" stroke="#000" stroke-width="0.6"/>
<circle cx="1700.7" cy="1031.9" r="2.0" fill="#ff00ff" stroke="#000" stroke-width="0.6"/>
<circle cx="1703.0" cy="1032.1" r="2.0" fill="#ff00ff" stroke="#000" stroke-width="0.6"/>
<circle cx="1698.9" cy="1029.1" r="2.0" fill="#ff00ff" stroke="#000" stroke-width="0.6"/>
<circle cx="1700.8" cy="1027.4" r="2.0" fill="#ff00ff" stroke="#000" stroke-width="0.6"/>
<circle cx="1701.8" cy="1025.0" r="2.0" fill="#ff00ff" stroke="#000" stroke-width="0.6"/>
<circle cx="1697.2" cy="1023.3" r="2.0" fill="#ff00ff" stroke="#000" stroke-width="0.6"/>
<circle cx="1700.5" cy="1021.4" r="2.0" fill="#ff00ff" stroke="#000" stroke-width="0.6"/>
<circle cx="1702.0" cy="1020.3" r="2.0" fill="#ff00ff" stroke="#000" stroke-width="0.6"/>
<circle cx="1699.0" cy="1018.3" r="2.0" fill="#ff00ff" stroke="#000" stroke-width="0.6"/>
<circle cx="1700.8" cy="1017.2" r="2.0" fill="#ff00ff" stroke="#000" stroke-width="0.6"/>
<circle cx="1704.2" cy="1015.5" r="2.0" fill="#ff00ff" stroke="#000" stroke-width="0.6"/>
<circle cx="1703.2" cy="1013.6" r="2.0" fill="#ff00ff" stroke="#000" stroke-width="0.6"/>
<circle cx="1700.2" cy="1012.3" r="2.0" fill="#ff00ff" stroke="#000" stroke-width="0.6"/>
<circle cx="1700.5" cy="1009.6" r="2.0" fill="#ff00ff" stroke="#000" stroke-width="0.6"/>
<line x1="1497.4" y1="1009.5" x2="1725.0" y2="1009.5" stroke="#000" stroke-width="3.6" stroke-dasharray="13 7 3 7"/>
<line x1="1603.5" y1="918.5" x2="1603.5" y2="1103.0" stroke="#000" stroke-width="3.6" stroke-dasharray="13 7 3 7"/>
<rect x="1487.4" y="908.4" width="235.0" height="199.1" fill="none" stroke="#555" stroke-width="1"/>
<line x1="1506.4" y1="1107.5" x2="1506.4" y2="1104.5" stroke="#555" stroke-width="1"/>
<line x1="1506.4" y1="908.4" x2="1506.4" y2="911.4" stroke="#555" stroke-width="1"/>
<text x="1506.4" y="1125.3" style="font-family:'Liberation Serif',serif;font-size:14.4px;font-weight:normal;font-style:normal" fill="#222" text-anchor="middle">-1</text>
<line x1="1555.4" y1="1107.5" x2="1555.4" y2="1104.5" stroke="#555" stroke-width="1"/>
<line x1="1555.4" y1="908.4" x2="1555.4" y2="911.4" stroke="#555" stroke-width="1"/>
<text x="1555.4" y="1125.3" style="font-family:'Liberation Serif',serif;font-size:14.4px;font-weight:normal;font-style:normal" fill="#222" text-anchor="middle">-0.5</text>
<line x1="1604.4" y1="1107.5" x2="1604.4" y2="1104.5" stroke="#555" stroke-width="1"/>
<line x1="1604.4" y1="908.4" x2="1604.4" y2="911.4" stroke="#555" stroke-width="1"/>
<text x="1604.4" y="1125.3" style="font-family:'Liberation Serif',serif;font-size:14.4px;font-weight:normal;font-style:normal" fill="#222" text-anchor="middle">0</text>
<line x1="1653.4" y1="1107.5" x2="1653.4" y2="1104.5" stroke="#555" stroke-width="1"/>
<line x1="1653.4" y1="908.4" x2="1653.4" y2="911.4" stroke="#555" stroke-width="1"/>
<text x="1653.4" y="1125.3" style="font-family:'Liberation Serif',serif;font-size:14.4px;font-weight:normal;font-style:normal" fill="#222" text-anchor="middle">0.5</text>
<line x1="1702.4" y1="1107.5" x2="1702.4" y2="1104.5" stroke="#555" stroke-width="1"/>
<line x1="1702.4" y1="908.4" x2="1702.4" y2="911.4" stroke="#555" stroke-width="1"/>
<text x="1702.4" y="1125.3" style="font-family:'Liberation Serif',serif;font-size:14.4px;font-weight:normal;font-style:normal" fill="#222" text-anchor="middle">1</text>
<line x1="1487.4" y1="925.2" x2="1490.4" y2="925.2" stroke="#555" stroke-width="1"/>
<line x1="1722.4" y1="925.2" x2="1719.4" y2="925.2" stroke="#555" stroke-width="1"/>
<text x="1482.0" y="930.2" style="font-family:'Liberation Serif',serif;font-size:14.4px;font-weight:normal;font-style:normal" fill="#222" text-anchor="end">1</text>
<line x1="1487.4" y1="966.7" x2="1490.4" y2="966.7" stroke="#555" stroke-width="1"/>
<line x1="1722.4" y1="966.7" x2="1719.4" y2="966.7" stroke="#555" stroke-width="1"/>
<text x="1482.0" y="971.7" style="font-family:'Liberation Serif',serif;font-size:14.4px;font-weight:normal;font-style:normal" fill="#222" text-anchor="end">0.5</text>
<line x1="1487.4" y1="1008.2" x2="1490.4" y2="1008.2" stroke="#555" stroke-width="1"/>
<line x1="1722.4" y1="1008.2" x2="1719.4" y2="1008.2" stroke="#555" stroke-width="1"/>
<text x="1482.0" y="1013.2" style="font-family:'Liberation Serif',serif;font-size:14.4px;font-weight:normal;font-style:normal" fill="#222" text-anchor="end">0</text>
<line x1="1487.4" y1="1049.7" x2="1490.4" y2="1049.7" stroke="#555" stroke-width="1"/>
<line x1="1722.4" y1="1049.7" x2="1719.4" y2="1049.7" stroke="#555" stroke-width="1"/>
<text x="1482.0" y="1054.7" style="font-family:'Liberation Serif',serif;font-size:14.4px;font-weight:normal;font-style:normal" fill="#222" text-anchor="end">-0.5</text>
<line x1="1487.4" y1="1091.2" x2="1490.4" y2="1091.2" stroke="#555" stroke-width="1"/>
<line x1="1722.4" y1="1091.2" x2="1719.4" y2="1091.2" stroke="#555" stroke-width="1"/>
<text x="1482.0" y="1096.2" style="font-family:'Liberation Serif',serif;font-size:14.4px;font-weight:normal;font-style:normal" fill="#222" text-anchor="end">-1</text>
<text x="1604.2" y="1143.2" style="font-family:'Liberation Serif',serif;font-size:16px;font-weight:normal;font-style:normal" fill="#222" text-anchor="middle" textLength="129.0" lengthAdjust="spacingAndGlyphs">Signal X: PD1-PD2</text>
<text transform="translate(1452,1009.5) rotate(-90)" style="font-family:'Liberation Serif',serif;font-size:16px" fill="#222" text-anchor="middle" textLength="121" lengthAdjust="spacingAndGlyphs">Signal Y: PD4-PD3</text>
<text x="1538.8" y="1050.5" style="font-family:'Liberation Serif',serif;font-size:26px;font-weight:bold;font-style:normal" fill="#000" text-anchor="start" textLength="60.6" lengthAdjust="spacingAndGlyphs">After</text>
<rect x="1266" y="1159" width="436" height="61.0" fill="none" stroke="#333" stroke-width="1.1"/>
<line x1="1266.0" y1="1220.0" x2="1266.0" y2="1215.5" stroke="#333" stroke-width="1.1"/>
<line x1="1266.0" y1="1159.0" x2="1266.0" y2="1163.5" stroke="#333" stroke-width="1.1"/>
<text x="1266.0" y="1243.5" style="font-family:'Liberation Serif',serif;font-size:18px;font-weight:normal;font-style:normal" fill="#111" text-anchor="middle">5.3</text>
<line x1="1353.2" y1="1220.0" x2="1353.2" y2="1215.5" stroke="#333" stroke-width="1.1"/>
<line x1="1353.2" y1="1159.0" x2="1353.2" y2="1163.5" stroke="#333" stroke-width="1.1"/>
<text x="1353.2" y="1243.5" style="font-family:'Liberation Serif',serif;font-size:18px;font-weight:normal;font-style:normal" fill="#111" text-anchor="middle">5.32</text>
<line x1="1440.4" y1="1220.0" x2="1440.4" y2="1215.5" stroke="#333" stroke-width="1.1"/>
<line x1="1440.4" y1="1159.0" x2="1440.4" y2="1163.5" stroke="#333" stroke-width="1.1"/>
<text x="1440.4" y="1243.5" style="font-family:'Liberation Serif',serif;font-size:18px;font-weight:normal;font-style:normal" fill="#111" text-anchor="middle">5.34</text>
<line x1="1527.6" y1="1220.0" x2="1527.6" y2="1215.5" stroke="#333" stroke-width="1.1"/>
<line x1="1527.6" y1="1159.0" x2="1527.6" y2="1163.5" stroke="#333" stroke-width="1.1"/>
<text x="1527.6" y="1243.5" style="font-family:'Liberation Serif',serif;font-size:18px;font-weight:normal;font-style:normal" fill="#111" text-anchor="middle">5.36</text>
<line x1="1614.8" y1="1220.0" x2="1614.8" y2="1215.5" stroke="#333" stroke-width="1.1"/>
<line x1="1614.8" y1="1159.0" x2="1614.8" y2="1163.5" stroke="#333" stroke-width="1.1"/>
<text x="1614.8" y="1243.5" style="font-family:'Liberation Serif',serif;font-size:18px;font-weight:normal;font-style:normal" fill="#111" text-anchor="middle">5.38</text>
<line x1="1702.0" y1="1220.0" x2="1702.0" y2="1215.5" stroke="#333" stroke-width="1.1"/>
<line x1="1702.0" y1="1159.0" x2="1702.0" y2="1163.5" stroke="#333" stroke-width="1.1"/>
<text x="1702.0" y="1243.5" style="font-family:'Liberation Serif',serif;font-size:18px;font-weight:normal;font-style:normal" fill="#111" text-anchor="middle">5.4</text>
<line x1="1266.0" y1="1160.5" x2="1270.5" y2="1160.5" stroke="#333" stroke-width="1.1"/>
<line x1="1702.0" y1="1160.5" x2="1697.5" y2="1160.5" stroke="#333" stroke-width="1.1"/>
<text x="1259.5" y="1166.5" style="font-family:'Liberation Serif',serif;font-size:18px;font-weight:normal;font-style:normal" fill="#111" text-anchor="end">1</text>
<line x1="1266.0" y1="1189.5" x2="1270.5" y2="1189.5" stroke="#333" stroke-width="1.1"/>
<line x1="1702.0" y1="1189.5" x2="1697.5" y2="1189.5" stroke="#333" stroke-width="1.1"/>
<text x="1259.5" y="1195.5" style="font-family:'Liberation Serif',serif;font-size:18px;font-weight:normal;font-style:normal" fill="#111" text-anchor="end">0</text>
<line x1="1266.0" y1="1219.0" x2="1270.5" y2="1219.0" stroke="#333" stroke-width="1.1"/>
<line x1="1702.0" y1="1219.0" x2="1697.5" y2="1219.0" stroke="#333" stroke-width="1.1"/>
<text x="1259.5" y="1225.0" style="font-family:'Liberation Serif',serif;font-size:18px;font-weight:normal;font-style:normal" fill="#111" text-anchor="end">-1</text>
<text x="1483.0" y="1268.4" style="font-family:'Liberation Serif',serif;font-size:20.4px;font-weight:normal;font-style:normal" fill="#111" text-anchor="middle">Time/s</text>
<text x="1107.0" y="1207.0" style="font-family:'Liberation Serif',serif;font-size:26.5px;font-weight:bold;font-style:normal" fill="#000" text-anchor="start" textLength="96.0" lengthAdjust="spacingAndGlyphs">Anti-tan</text>
<text transform="translate(1237,1191) rotate(-90)" style="font-family:'Liberation Serif',serif;font-size:20.4px" fill="#111" text-anchor="middle">Voltage/V</text>
<polygon points="1266.0,1160.5 1267.6,1160.5 1269.3,1160.6 1270.9,1160.8 1272.5,1161.0 1274.2,1161.3 1275.8,1161.6 1277.4,1161.9 1279.1,1162.3 1280.7,1162.8 1282.3,1163.3 1284.0,1163.9 1285.6,1164.5 1287.2,1165.2 1288.9,1165.9 1290.5,1166.6 1292.1,1167.5 1293.8,1168.3 1295.4,1169.2 1297.0,1170.1 1298.7,1171.1 1300.3,1172.1 1301.9,1173.2 1303.6,1174.2 1305.2,1175.3 1306.8,1176.5 1308.5,1177.6 1310.1,1178.8 1311.8,1180.1 1313.4,1181.3 1315.1,1182.5 1316.7,1183.8 1318.4,1185.1 1320.0,1186.4 1321.7,1187.7 1323.3,1189.0 1325.0,1190.3 1326.7,1191.7 1328.3,1193.0 1330.0,1194.3 1331.6,1195.6 1333.3,1196.9 1335.0,1198.2 1336.7,1199.5 1338.4,1200.8 1340.0,1202.1 1341.7,1203.3 1343.4,1204.5 1345.1,1205.7 1346.8,1206.9 1348.5,1208.1 1350.2,1209.2 1351.9,1210.3 1353.6,1211.4 1355.3,1212.4 1357.0,1213.4 1358.8,1214.4 1360.5,1215.3 1362.2,1216.1 1364.0,1216.9 1365.8,1217.7 1367.5,1218.3 1369.3,1219.0 1371.1,1219.6 1372.9,1220.1 1374.6,1220.6 1376.4,1221.0 1378.2,1221.4 1380.0,1221.7 1381.7,1221.9 1383.5,1222.0 1385.3,1222.1 1387.1,1222.2 1388.8,1222.2 1390.6,1222.1 1392.3,1222.0 1394.1,1221.8 1395.8,1221.6 1397.5,1221.3 1399.3,1220.9 1401.0,1220.5 1402.7,1220.0 1404.4,1219.5 1406.1,1219.0 1407.8,1218.4 1409.5,1217.7 1411.1,1217.1 1412.8,1216.3 1414.5,1215.6 1416.2,1214.7 1417.8,1213.9 1419.5,1213.0 1421.2,1212.0 1422.8,1211.0 1424.5,1210.1 1426.2,1209.1 1427.9,1208.0 1429.6,1207.0 1431.3,1205.9 1433.0,1204.7 1434.7,1203.6 1436.3,1202.4 1438.0,1201.2 1439.7,1200.0 1441.4,1198.8 1443.1,1197.5 1444.8,1196.3 1446.5,1195.0 1448.1,1193.7 1449.8,1192.4 1451.5,1191.1 1453.2,1189.8 1454.9,1188.5 1456.6,1187.2 1458.2,1186.0 1459.9,1184.7 1461.6,1183.4 1463.3,1182.1 1465.0,1180.9 1466.6,1179.7 1468.3,1178.5 1470.0,1177.3 1471.7,1176.1 1473.4,1175.0 1475.0,1173.9 1476.7,1172.8 1478.4,1171.7 1480.1,1170.7 1481.7,1169.7 1483.4,1168.8 1485.1,1167.9 1486.8,1167.1 1488.5,1166.3 1490.2,1165.5 1491.9,1164.8 1493.6,1164.2 1495.2,1163.6 1496.9,1163.0 1498.6,1162.5 1500.3,1162.1 1501.9,1161.7 1503.6,1161.3 1505.3,1161.1 1506.9,1160.8 1508.6,1160.7 1510.2,1160.6 1511.9,1160.5 1513.5,1160.5 1515.1,1160.5 1516.8,1160.6 1518.4,1160.8 1520.0,1161.0 1521.6,1161.3 1523.2,1161.6 1524.9,1162.0 1526.5,1162.4 1528.1,1162.9 1529.7,1163.4 1531.3,1164.0 1532.9,1164.6 1534.5,1165.2 1536.1,1165.9 1537.7,1166.7 1539.3,1167.4 1540.9,1168.3 1542.5,1169.1 1544.1,1170.0 1545.8,1171.0 1547.4,1171.9 1549.0,1173.0 1550.6,1174.0 1552.2,1175.1 1553.9,1176.2 1555.5,1177.3 1557.1,1178.5 1558.8,1179.7 1560.4,1180.9 1562.0,1182.2 1563.7,1183.4 1565.3,1184.7 1566.9,1186.0 1568.6,1187.3 1570.3,1188.6 1571.9,1189.9 1573.6,1191.2 1575.3,1192.5 1577.0,1193.8 1578.7,1195.0 1580.4,1196.3 1582.0,1197.6 1583.7,1198.9 1585.4,1200.2 1587.1,1201.4 1588.8,1202.7 1590.5,1203.9 1592.3,1205.1 1594.0,1206.3 1595.7,1207.4 1597.4,1208.6 1599.1,1209.7 1600.8,1210.8 1602.6,1211.8 1604.3,1212.8 1606.0,1213.8 1607.8,1214.8 1609.5,1215.7 1611.3,1216.5 1613.0,1217.3 1614.8,1218.0 1616.6,1218.7 1618.4,1219.3 1620.2,1219.8 1622.0,1220.3 1623.8,1220.7 1625.6,1221.1 1627.3,1221.4 1629.1,1221.7 1630.9,1221.9 1632.7,1222.0 1634.4,1222.1 1636.2,1222.2 1638.0,1222.1 1639.7,1222.1 1641.5,1222.0 1643.2,1221.9 1645.0,1221.7 1646.7,1221.5 1648.5,1221.2 1650.2,1220.9 1651.9,1220.5 1653.7,1220.1 1655.4,1219.6 1657.2,1219.1 1658.9,1218.5 1660.6,1217.9 1662.4,1217.2 1664.1,1216.5 1665.8,1215.7 1667.5,1214.9 1669.2,1214.0 1670.9,1213.1 1672.6,1212.1 1674.3,1211.1 1676.0,1210.1 1677.7,1209.0 1679.4,1207.9 1681.1,1206.8 1682.8,1205.6 1684.5,1204.5 1686.2,1203.3 1687.8,1202.0 1689.5,1200.8 1691.2,1199.5 1692.9,1198.3 1694.6,1197.0 1696.2,1195.7 1697.9,1194.4 1699.6,1193.1 1701.2,1191.8 1702.9,1190.4 1701.1,1188.1 1699.4,1189.3 1697.7,1190.6 1696.0,1191.9 1694.3,1193.1 1692.6,1194.4 1690.9,1195.6 1689.2,1196.9 1687.5,1198.1 1685.8,1199.3 1684.2,1200.4 1682.5,1201.6 1680.8,1202.7 1679.1,1203.8 1677.4,1204.8 1675.8,1205.9 1674.1,1206.9 1672.4,1207.8 1670.8,1208.7 1669.1,1209.6 1667.4,1210.5 1665.8,1211.3 1664.1,1212.1 1662.5,1212.8 1660.8,1213.5 1659.2,1214.1 1657.6,1214.7 1655.9,1215.3 1654.3,1215.8 1652.7,1216.2 1651.0,1216.6 1649.4,1217.0 1647.8,1217.3 1646.2,1217.5 1644.6,1217.7 1642.9,1217.9 1641.3,1218.0 1639.7,1217.9 1638.1,1217.8 1636.5,1217.6 1634.9,1217.4 1633.3,1217.2 1631.7,1216.8 1630.1,1216.5 1628.5,1216.0 1626.9,1215.6 1625.4,1215.0 1623.8,1214.5 1622.2,1213.9 1620.6,1213.2 1619.1,1212.5 1617.5,1211.7 1615.9,1211.0 1614.3,1210.2 1612.7,1209.4 1611.0,1208.6 1609.4,1207.7 1607.8,1206.8 1606.2,1205.8 1604.5,1204.8 1602.9,1203.8 1601.2,1202.7 1599.6,1201.6 1597.9,1200.5 1596.3,1199.4 1594.6,1198.2 1592.9,1197.0 1591.3,1195.8 1589.6,1194.6 1587.9,1193.3 1586.3,1192.0 1584.6,1190.8 1582.9,1189.5 1581.2,1188.2 1579.6,1186.9 1577.9,1185.6 1576.2,1184.3 1574.5,1183.0 1572.8,1181.7 1571.1,1180.5 1569.4,1179.3 1567.6,1178.0 1565.9,1176.8 1564.2,1175.6 1562.4,1174.5 1560.7,1173.3 1559.0,1172.2 1557.2,1171.1 1555.5,1170.0 1553.7,1169.0 1552.0,1168.0 1550.2,1167.0 1548.5,1166.1 1546.7,1165.2 1545.0,1164.3 1543.2,1163.5 1541.5,1162.7 1539.7,1162.0 1538.0,1161.3 1536.2,1160.7 1534.4,1160.1 1532.7,1159.6 1530.9,1159.1 1529.2,1158.7 1527.4,1158.4 1525.6,1158.1 1523.9,1157.8 1522.1,1157.6 1520.4,1157.5 1518.6,1157.4 1516.9,1157.4 1515.1,1157.5 1513.4,1157.6 1511.7,1157.7 1510.0,1157.9 1508.3,1158.2 1506.5,1158.5 1504.8,1158.8 1503.1,1159.2 1501.4,1159.7 1499.7,1160.2 1498.0,1160.8 1496.3,1161.4 1494.7,1162.0 1493.0,1162.7 1491.3,1163.5 1489.6,1164.3 1487.9,1165.1 1486.2,1166.0 1484.6,1166.9 1482.9,1167.8 1481.2,1168.8 1479.5,1169.8 1477.8,1170.8 1476.1,1171.9 1474.4,1172.9 1472.8,1174.1 1471.1,1175.2 1469.4,1176.4 1467.7,1177.6 1466.0,1178.8 1464.3,1180.0 1462.6,1181.3 1460.9,1182.5 1459.3,1183.8 1457.6,1185.1 1455.9,1186.4 1454.2,1187.7 1452.5,1189.0 1450.8,1190.3 1449.2,1191.5 1447.5,1192.8 1445.8,1194.1 1444.1,1195.4 1442.4,1196.6 1440.7,1197.9 1439.1,1199.1 1437.4,1200.3 1435.7,1201.5 1434.0,1202.7 1432.3,1203.8 1430.7,1205.0 1429.0,1206.0 1427.3,1207.1 1425.6,1208.1 1424.0,1209.1 1422.3,1210.0 1420.6,1210.9 1418.9,1211.7 1417.2,1212.5 1415.5,1213.2 1413.8,1213.9 1412.1,1214.5 1410.4,1215.1 1408.7,1215.7 1407.0,1216.1 1405.4,1216.6 1403.7,1216.9 1402.0,1217.2 1400.4,1217.5 1398.7,1217.7 1397.1,1217.8 1395.4,1217.9 1393.8,1218.0 1392.2,1218.0 1390.6,1217.9 1389.0,1217.8 1387.4,1217.6 1385.8,1217.4 1384.2,1217.1 1382.6,1216.8 1381.0,1216.4 1379.4,1216.0 1377.8,1215.6 1376.2,1215.1 1374.6,1214.5 1373.0,1214.0 1371.4,1213.3 1369.8,1212.7 1368.2,1212.0 1366.6,1211.2 1365.0,1210.4 1363.4,1209.5 1361.8,1208.7 1360.1,1207.8 1358.5,1206.9 1356.8,1206.0 1355.2,1205.0 1353.5,1204.0 1351.8,1203.0 1350.2,1201.9 1348.5,1200.8 1346.8,1199.7 1345.1,1198.5 1343.5,1197.3 1341.8,1196.1 1340.1,1194.9 1338.4,1193.7 1336.7,1192.5 1335.0,1191.2 1333.3,1189.9 1331.6,1188.7 1329.9,1187.4 1328.2,1186.1 1326.5,1184.9 1324.8,1183.6 1323.1,1182.4 1321.4,1181.1 1319.6,1179.9 1317.9,1178.7 1316.2,1177.4 1314.5,1176.3 1312.8,1175.1 1311.0,1173.9 1309.3,1172.8 1307.6,1171.7 1305.9,1170.6 1304.1,1169.6 1302.4,1168.6 1300.7,1167.6 1298.9,1166.7 1297.2,1165.8 1295.5,1164.9 1293.7,1164.1 1292.0,1163.3 1290.3,1162.6 1288.5,1161.9 1286.8,1161.3 1285.1,1160.7 1283.3,1160.1 1281.6,1159.6 1279.9,1159.1 1278.1,1158.7 1276.4,1158.4 1274.7,1158.1 1272.9,1157.9 1271.2,1157.7 1269.5,1157.6 1267.7,1157.5 1266.0,1157.5" fill="#d95319"/>
<polygon points="1266.9,1190.7 1268.6,1189.4 1270.3,1188.2 1272.0,1186.9 1273.7,1185.6 1275.4,1184.4 1277.1,1183.2 1278.8,1182.0 1280.5,1180.8 1282.2,1179.6 1283.9,1178.4 1285.6,1177.3 1287.3,1176.2 1288.9,1175.1 1290.6,1174.1 1292.3,1173.0 1294.0,1172.0 1295.6,1171.1 1297.3,1170.1 1298.9,1169.2 1300.6,1168.3 1302.2,1167.5 1303.8,1166.7 1305.5,1166.0 1307.1,1165.3 1308.8,1164.6 1310.4,1164.0 1312.0,1163.5 1313.7,1163.0 1315.3,1162.5 1316.9,1162.1 1318.5,1161.8 1320.2,1161.5 1321.8,1161.2 1323.4,1161.1 1325.0,1160.9 1326.7,1160.8 1328.3,1160.8 1329.9,1160.9 1331.5,1161.0 1333.1,1161.2 1334.8,1161.4 1336.4,1161.7 1338.0,1162.0 1339.6,1162.4 1341.2,1162.8 1342.8,1163.3 1344.5,1163.8 1346.1,1164.4 1347.7,1165.0 1349.3,1165.7 1350.9,1166.4 1352.6,1167.1 1354.2,1167.9 1355.8,1168.8 1357.4,1169.7 1359.1,1170.6 1360.7,1171.6 1362.3,1172.6 1364.0,1173.6 1365.6,1174.7 1367.2,1175.8 1368.8,1177.0 1370.5,1178.1 1372.1,1179.3 1373.7,1180.5 1375.4,1181.8 1377.0,1183.0 1378.7,1184.3 1380.3,1185.6 1381.9,1186.9 1383.6,1188.2 1385.2,1189.5 1386.9,1190.9 1388.5,1192.2 1390.2,1193.5 1391.9,1194.9 1393.5,1196.2 1395.2,1197.5 1396.9,1198.8 1398.6,1200.1 1400.3,1201.3 1402.0,1202.6 1403.7,1203.8 1405.4,1205.0 1407.1,1206.2 1408.8,1207.4 1410.5,1208.5 1412.3,1209.6 1414.0,1210.7 1415.7,1211.7 1417.4,1212.7 1419.2,1213.7 1420.9,1214.7 1422.7,1215.6 1424.4,1216.4 1426.2,1217.3 1427.9,1218.0 1429.7,1218.8 1431.5,1219.4 1433.3,1219.9 1435.1,1220.4 1436.9,1220.8 1438.7,1221.2 1440.5,1221.5 1442.2,1221.7 1444.0,1221.9 1445.8,1222.1 1447.6,1222.1 1449.3,1222.2 1451.1,1222.1 1452.9,1222.0 1454.6,1221.9 1456.3,1221.7 1458.1,1221.5 1459.8,1221.2 1461.5,1220.8 1463.2,1220.4 1464.9,1220.0 1466.6,1219.4 1468.3,1218.9 1470.0,1218.3 1471.7,1217.7 1473.4,1217.0 1475.1,1216.3 1476.8,1215.5 1478.5,1214.7 1480.1,1213.9 1481.8,1213.0 1483.5,1212.0 1485.2,1211.1 1486.8,1210.1 1488.5,1209.1 1490.2,1208.1 1491.9,1207.0 1493.6,1205.9 1495.3,1204.8 1497.0,1203.6 1498.7,1202.5 1500.4,1201.3 1502.0,1200.0 1503.7,1198.8 1505.4,1197.5 1507.1,1196.3 1508.8,1195.0 1510.5,1193.7 1512.1,1192.4 1513.8,1191.1 1515.5,1189.8 1517.2,1188.5 1518.9,1187.2 1520.6,1186.0 1522.2,1184.7 1523.9,1183.4 1525.6,1182.1 1527.3,1180.9 1528.9,1179.7 1530.6,1178.5 1532.3,1177.3 1534.0,1176.1 1535.7,1175.0 1537.3,1173.8 1539.0,1172.8 1540.7,1171.7 1542.4,1170.7 1544.0,1169.7 1545.7,1168.8 1547.4,1167.9 1549.1,1167.1 1550.8,1166.3 1552.5,1165.5 1554.2,1164.9 1555.8,1164.2 1557.5,1163.6 1559.2,1163.0 1560.9,1162.5 1562.5,1162.1 1564.2,1161.7 1565.9,1161.4 1567.5,1161.1 1569.2,1160.8 1570.8,1160.6 1572.5,1160.5 1574.1,1160.4 1575.8,1160.4 1577.4,1160.4 1579.1,1160.5 1580.7,1160.7 1582.3,1160.9 1583.9,1161.1 1585.6,1161.4 1587.2,1161.8 1588.8,1162.2 1590.4,1162.7 1592.0,1163.2 1593.6,1163.7 1595.2,1164.3 1596.9,1165.0 1598.5,1165.7 1600.1,1166.5 1601.7,1167.2 1603.3,1168.1 1604.9,1169.0 1606.5,1169.9 1608.1,1170.8 1609.8,1171.8 1611.4,1172.8 1613.0,1173.9 1614.6,1175.0 1616.2,1176.1 1617.9,1177.2 1619.5,1178.4 1621.1,1179.6 1622.8,1180.8 1624.4,1182.1 1626.0,1183.4 1627.7,1184.6 1629.3,1185.9 1630.9,1187.2 1632.6,1188.6 1634.2,1189.9 1635.9,1191.2 1637.6,1192.5 1639.3,1193.7 1641.0,1195.0 1642.7,1196.3 1644.4,1197.5 1646.1,1198.8 1647.8,1200.1 1649.6,1201.3 1651.3,1202.5 1653.0,1203.7 1654.7,1204.9 1656.4,1206.1 1658.2,1207.2 1659.9,1208.3 1661.6,1209.4 1663.3,1210.5 1665.1,1211.5 1666.8,1212.5 1668.6,1213.4 1670.3,1214.3 1672.1,1215.2 1673.8,1216.0 1675.6,1216.7 1677.3,1217.5 1679.1,1218.1 1680.9,1218.7 1682.6,1219.3 1684.4,1219.8 1686.2,1220.3 1687.9,1220.7 1689.7,1221.1 1691.5,1221.4 1693.2,1221.6 1695.0,1221.8 1696.8,1221.9 1698.5,1222.0 1700.3,1222.0 1702.0,1222.0 1702.0,1218.0 1700.4,1217.9 1698.8,1217.8 1697.1,1217.6 1695.5,1217.4 1693.9,1217.1 1692.3,1216.8 1690.7,1216.4 1689.1,1216.0 1687.5,1215.5 1685.9,1215.0 1684.3,1214.4 1682.7,1213.7 1681.1,1213.1 1679.5,1212.4 1677.9,1211.6 1676.3,1210.8 1674.7,1209.9 1673.1,1209.0 1671.5,1208.1 1669.8,1207.2 1668.2,1206.2 1666.6,1205.2 1665.0,1204.1 1663.3,1203.1 1661.7,1201.9 1660.0,1200.8 1658.4,1199.6 1656.7,1198.4 1655.1,1197.2 1653.4,1196.0 1651.8,1194.7 1650.1,1193.5 1648.5,1192.2 1646.8,1190.9 1645.2,1189.6 1643.5,1188.3 1641.8,1187.0 1640.2,1185.7 1638.5,1184.4 1636.8,1183.1 1635.0,1181.9 1633.3,1180.6 1631.6,1179.4 1629.8,1178.2 1628.1,1177.0 1626.4,1175.8 1624.6,1174.6 1622.9,1173.5 1621.2,1172.4 1619.4,1171.3 1617.7,1170.2 1615.9,1169.2 1614.2,1168.2 1612.4,1167.2 1610.7,1166.3 1608.9,1165.4 1607.2,1164.5 1605.4,1163.7 1603.7,1162.9 1601.9,1162.2 1600.2,1161.6 1598.4,1160.9 1596.6,1160.4 1594.9,1159.8 1593.1,1159.4 1591.4,1158.9 1589.6,1158.6 1587.9,1158.3 1586.1,1158.0 1584.4,1157.8 1582.6,1157.7 1580.9,1157.6 1579.2,1157.6 1577.4,1157.6 1575.7,1157.6 1574.0,1157.8 1572.3,1157.9 1570.5,1158.2 1568.8,1158.5 1567.1,1158.8 1565.4,1159.2 1563.7,1159.7 1562.0,1160.2 1560.3,1160.7 1558.6,1161.3 1556.9,1162.0 1555.2,1162.7 1553.6,1163.4 1551.9,1164.2 1550.2,1165.0 1548.5,1165.9 1546.8,1166.8 1545.2,1167.8 1543.5,1168.8 1541.8,1169.7 1540.1,1170.8 1538.4,1171.8 1536.7,1172.9 1535.0,1174.0 1533.3,1175.2 1531.6,1176.3 1530.0,1177.5 1528.3,1178.7 1526.6,1180.0 1524.9,1181.2 1523.2,1182.5 1521.5,1183.7 1519.8,1185.0 1518.1,1186.3 1516.5,1187.6 1514.8,1188.9 1513.1,1190.2 1511.4,1191.5 1509.7,1192.8 1508.0,1194.0 1506.4,1195.3 1504.7,1196.6 1503.0,1197.8 1501.3,1199.0 1499.6,1200.2 1497.9,1201.4 1496.3,1202.6 1494.6,1203.7 1492.9,1204.8 1491.2,1205.9 1489.6,1207.0 1487.9,1208.0 1486.2,1209.0 1484.5,1209.9 1482.8,1210.8 1481.1,1211.7 1479.4,1212.4 1477.8,1213.2 1476.1,1213.9 1474.4,1214.5 1472.7,1215.1 1471.0,1215.7 1469.3,1216.2 1467.7,1216.6 1466.0,1217.0 1464.3,1217.3 1462.7,1217.6 1461.0,1217.8 1459.4,1217.9 1457.7,1218.0 1456.1,1218.0 1454.5,1218.0 1452.9,1218.0 1451.2,1217.8 1449.6,1217.6 1448.0,1217.4 1446.4,1217.1 1444.9,1216.7 1443.3,1216.4 1441.7,1215.9 1440.1,1215.4 1438.6,1214.9 1437.0,1214.3 1435.4,1213.6 1433.9,1213.0 1432.3,1212.3 1430.7,1211.6 1429.1,1210.9 1427.4,1210.1 1425.8,1209.3 1424.2,1208.5 1422.6,1207.6 1420.9,1206.7 1419.3,1205.7 1417.7,1204.7 1416.0,1203.7 1414.4,1202.6 1412.7,1201.5 1411.1,1200.4 1409.4,1199.3 1407.8,1198.1 1406.1,1196.9 1404.4,1195.7 1402.8,1194.5 1401.1,1193.2 1399.4,1191.9 1397.7,1190.7 1396.0,1189.4 1394.3,1188.2 1392.6,1186.9 1390.9,1185.7 1389.2,1184.4 1387.4,1183.2 1385.7,1181.9 1384.0,1180.7 1382.3,1179.4 1380.6,1178.2 1378.8,1177.0 1377.1,1175.8 1375.4,1174.7 1373.6,1173.5 1371.9,1172.4 1370.2,1171.3 1368.4,1170.2 1366.7,1169.2 1364.9,1168.2 1363.2,1167.2 1361.5,1166.3 1359.7,1165.4 1358.0,1164.5 1356.3,1163.7 1354.5,1162.9 1352.8,1162.1 1351.0,1161.5 1349.3,1160.8 1347.5,1160.2 1345.8,1159.7 1344.0,1159.2 1342.3,1158.7 1340.5,1158.3 1338.8,1158.0 1337.0,1157.7 1335.3,1157.5 1333.5,1157.3 1331.8,1157.2 1330.0,1157.2 1328.3,1157.2 1326.5,1157.2 1324.8,1157.3 1323.1,1157.4 1321.3,1157.6 1319.6,1157.9 1317.8,1158.2 1316.1,1158.5 1314.4,1158.9 1312.6,1159.4 1310.9,1159.9 1309.1,1160.5 1307.4,1161.1 1305.7,1161.7 1304.0,1162.4 1302.2,1163.2 1300.5,1164.0 1298.8,1164.8 1297.1,1165.7 1295.3,1166.7 1293.6,1167.6 1291.9,1168.6 1290.2,1169.7 1288.5,1170.8 1286.8,1171.9 1285.1,1173.0 1283.5,1174.2 1281.8,1175.4 1280.1,1176.7 1278.4,1177.9 1276.8,1179.2 1275.1,1180.5 1273.4,1181.7 1271.7,1183.0 1270.1,1184.4 1268.4,1185.7 1266.7,1187.0 1265.1,1188.3" fill="#0072bd"/>
<rect x="1266" y="1285.6" width="436" height="60.8" fill="none" stroke="#333" stroke-width="1.1"/>
<line x1="1266.0" y1="1346.4" x2="1266.0" y2="1341.9" stroke="#333" stroke-width="1.1"/>
<line x1="1266.0" y1="1285.6" x2="1266.0" y2="1290.1" stroke="#333" stroke-width="1.1"/>
<text x="1266.0" y="1369.9" style="font-family:'Liberation Serif',serif;font-size:18px;font-weight:normal;font-style:normal" fill="#111" text-anchor="middle">5.3</text>
<line x1="1353.2" y1="1346.4" x2="1353.2" y2="1341.9" stroke="#333" stroke-width="1.1"/>
<line x1="1353.2" y1="1285.6" x2="1353.2" y2="1290.1" stroke="#333" stroke-width="1.1"/>
<text x="1353.2" y="1369.9" style="font-family:'Liberation Serif',serif;font-size:18px;font-weight:normal;font-style:normal" fill="#111" text-anchor="middle">5.32</text>
<line x1="1440.4" y1="1346.4" x2="1440.4" y2="1341.9" stroke="#333" stroke-width="1.1"/>
<line x1="1440.4" y1="1285.6" x2="1440.4" y2="1290.1" stroke="#333" stroke-width="1.1"/>
<text x="1440.4" y="1369.9" style="font-family:'Liberation Serif',serif;font-size:18px;font-weight:normal;font-style:normal" fill="#111" text-anchor="middle">5.34</text>
<line x1="1527.6" y1="1346.4" x2="1527.6" y2="1341.9" stroke="#333" stroke-width="1.1"/>
<line x1="1527.6" y1="1285.6" x2="1527.6" y2="1290.1" stroke="#333" stroke-width="1.1"/>
<text x="1527.6" y="1369.9" style="font-family:'Liberation Serif',serif;font-size:18px;font-weight:normal;font-style:normal" fill="#111" text-anchor="middle">5.36</text>
<line x1="1614.8" y1="1346.4" x2="1614.8" y2="1341.9" stroke="#333" stroke-width="1.1"/>
<line x1="1614.8" y1="1285.6" x2="1614.8" y2="1290.1" stroke="#333" stroke-width="1.1"/>
<text x="1614.8" y="1369.9" style="font-family:'Liberation Serif',serif;font-size:18px;font-weight:normal;font-style:normal" fill="#111" text-anchor="middle">5.38</text>
<line x1="1702.0" y1="1346.4" x2="1702.0" y2="1341.9" stroke="#333" stroke-width="1.1"/>
<line x1="1702.0" y1="1285.6" x2="1702.0" y2="1290.1" stroke="#333" stroke-width="1.1"/>
<text x="1702.0" y="1369.9" style="font-family:'Liberation Serif',serif;font-size:18px;font-weight:normal;font-style:normal" fill="#111" text-anchor="middle">5.4</text>
<line x1="1266.0" y1="1296.6" x2="1270.5" y2="1296.6" stroke="#333" stroke-width="1.1"/>
<line x1="1702.0" y1="1296.6" x2="1697.5" y2="1296.6" stroke="#333" stroke-width="1.1"/>
<text x="1259.5" y="1302.6" style="font-family:'Liberation Serif',serif;font-size:18px;font-weight:normal;font-style:normal" fill="#111" text-anchor="end">2</text>
<line x1="1266.0" y1="1316.0" x2="1270.5" y2="1316.0" stroke="#333" stroke-width="1.1"/>
<line x1="1702.0" y1="1316.0" x2="1697.5" y2="1316.0" stroke="#333" stroke-width="1.1"/>
<text x="1259.5" y="1322.0" style="font-family:'Liberation Serif',serif;font-size:18px;font-weight:normal;font-style:normal" fill="#111" text-anchor="end">0</text>
<line x1="1266.0" y1="1335.4" x2="1270.5" y2="1335.4" stroke="#333" stroke-width="1.1"/>
<line x1="1702.0" y1="1335.4" x2="1697.5" y2="1335.4" stroke="#333" stroke-width="1.1"/>
<text x="1259.5" y="1341.4" style="font-family:'Liberation Serif',serif;font-size:18px;font-weight:normal;font-style:normal" fill="#111" text-anchor="end">-2</text>
<text x="1483.0" y="1394.8" style="font-family:'Liberation Serif',serif;font-size:20.4px;font-weight:normal;font-style:normal" fill="#111" text-anchor="middle">Time/s</text>
<text x="1111.0" y="1329.0" style="font-family:'Liberation Serif',serif;font-size:26.5px;font-weight:bold;font-style:normal" fill="#000" text-anchor="start" textLength="94.0" lengthAdjust="spacingAndGlyphs">Unwrap</text>
<text transform="translate(1235,1315.5) rotate(-90)" style="font-family:'Liberation Serif',serif;font-size:20.4px" fill="#111" text-anchor="middle">Phase Diff</text>
<polyline points="1266.0,1316.0 1390.0,1346.0 1390.0,1286.0 1639.0,1346.0 1639.0,1286.0 1702.0,1301.0" fill="none" stroke="#0072bd" stroke-width="3.8" stroke-linejoin="miter"/>
<rect x="1266" y="1412" width="436" height="60.6" fill="none" stroke="#333" stroke-width="1.1"/>
<line x1="1266.0" y1="1472.6" x2="1266.0" y2="1468.1" stroke="#333" stroke-width="1.1"/>
<line x1="1266.0" y1="1412.0" x2="1266.0" y2="1416.5" stroke="#333" stroke-width="1.1"/>
<text x="1266.0" y="1496.1" style="font-family:'Liberation Serif',serif;font-size:18px;font-weight:normal;font-style:normal" fill="#111" text-anchor="middle">5.3</text>
<line x1="1353.2" y1="1472.6" x2="1353.2" y2="1468.1" stroke="#333" stroke-width="1.1"/>
<line x1="1353.2" y1="1412.0" x2="1353.2" y2="1416.5" stroke="#333" stroke-width="1.1"/>
<text x="1353.2" y="1496.1" style="font-family:'Liberation Serif',serif;font-size:18px;font-weight:normal;font-style:normal" fill="#111" text-anchor="middle">5.32</text>
<line x1="1440.4" y1="1472.6" x2="1440.4" y2="1468.1" stroke="#333" stroke-width="1.1"/>
<line x1="1440.4" y1="1412.0" x2="1440.4" y2="1416.5" stroke="#333" stroke-width="1.1"/>
<text x="1440.4" y="1496.1" style="font-family:'Liberation Serif',serif;font-size:18px;font-weight:normal;font-style:normal" fill="#111" text-anchor="middle">5.34</text>
<line x1="1527.6" y1="1472.6" x2="1527.6" y2="1468.1" stroke="#333" stroke-width="1.1"/>
<line x1="1527.6" y1="1412.0" x2="1527.6" y2="1416.5" stroke="#333" stroke-width="1.1"/>
<text x="1527.6" y="1496.1" style="font-family:'Liberation Serif',serif;font-size:18px;font-weight:normal;font-style:normal" fill="#111" text-anchor="middle">5.36</text>
<line x1="1614.8" y1="1472.6" x2="1614.8" y2="1468.1" stroke="#333" stroke-width="1.1"/>
<line x1="1614.8" y1="1412.0" x2="1614.8" y2="1416.5" stroke="#333" stroke-width="1.1"/>
<text x="1614.8" y="1496.1" style="font-family:'Liberation Serif',serif;font-size:18px;font-weight:normal;font-style:normal" fill="#111" text-anchor="middle">5.38</text>
<line x1="1702.0" y1="1472.6" x2="1702.0" y2="1468.1" stroke="#333" stroke-width="1.1"/>
<line x1="1702.0" y1="1412.0" x2="1702.0" y2="1416.5" stroke="#333" stroke-width="1.1"/>
<text x="1702.0" y="1496.1" style="font-family:'Liberation Serif',serif;font-size:18px;font-weight:normal;font-style:normal" fill="#111" text-anchor="middle">5.4</text>
<line x1="1266.0" y1="1412.0" x2="1270.5" y2="1412.0" stroke="#333" stroke-width="1.1"/>
<line x1="1702.0" y1="1412.0" x2="1697.5" y2="1412.0" stroke="#333" stroke-width="1.1"/>
<text x="1259.5" y="1418.0" style="font-family:'Liberation Serif',serif;font-size:18px;font-weight:normal;font-style:normal" fill="#111" text-anchor="end">0</text>
<line x1="1266.0" y1="1442.4" x2="1270.5" y2="1442.4" stroke="#333" stroke-width="1.1"/>
<line x1="1702.0" y1="1442.4" x2="1697.5" y2="1442.4" stroke="#333" stroke-width="1.1"/>
<text x="1259.5" y="1448.4" style="font-family:'Liberation Serif',serif;font-size:18px;font-weight:normal;font-style:normal" fill="#111" text-anchor="end">-100</text>
<line x1="1266.0" y1="1472.6" x2="1270.5" y2="1472.6" stroke="#333" stroke-width="1.1"/>
<line x1="1702.0" y1="1472.6" x2="1697.5" y2="1472.6" stroke="#333" stroke-width="1.1"/>
<text x="1259.5" y="1478.6" style="font-family:'Liberation Serif',serif;font-size:18px;font-weight:normal;font-style:normal" fill="#111" text-anchor="end">-200</text>
<text x="1483.0" y="1521.0" style="font-family:'Liberation Serif',serif;font-size:20.4px;font-weight:normal;font-style:normal" fill="#111" text-anchor="middle">Time/s</text>
<text x="1110.0" y="1451.6" style="font-family:'Liberation Serif',serif;font-size:26.5px;font-weight:bold;font-style:normal" fill="#000" text-anchor="start" textLength="84.0" lengthAdjust="spacingAndGlyphs">Results</text>
<text transform="translate(1216,1444) rotate(-90)" style="font-family:'Liberation Serif',serif;font-size:20.4px" fill="#111" text-anchor="middle">Displacement/nm</text>
<line x1="1266.0" y1="1412.0" x2="1702.0" y2="1468.6" stroke="#0072bd" stroke-width="3.8"/>
<line x1="135.3" y1="1181.2" x2="1702.0" y2="1189.0" stroke="#1a1a1a" stroke-width="1.05"/>
</svg></body></html>
